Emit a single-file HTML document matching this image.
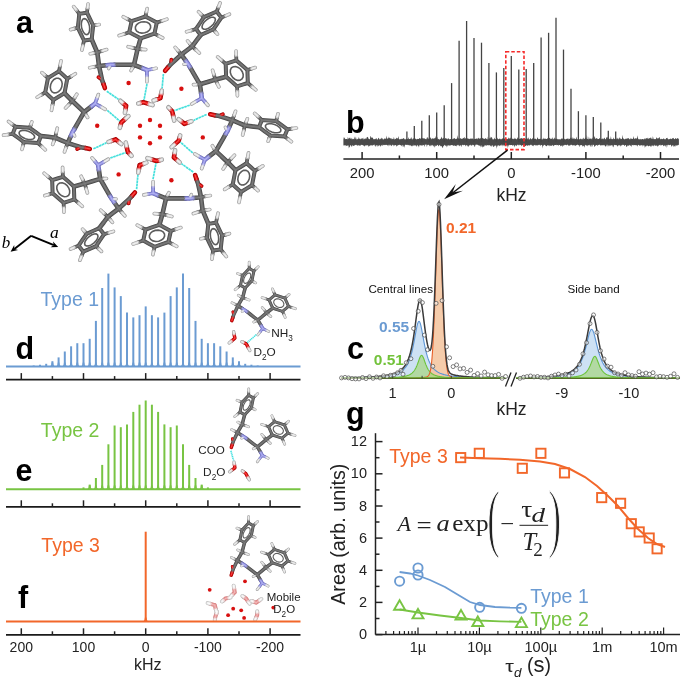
<!DOCTYPE html>
<html><head><meta charset="utf-8"><style>html,body{margin:0;padding:0;background:#fff;overflow:hidden;}svg{display:block;}</style></head>
<body><svg width="685" height="679" viewBox="0 0 685 679">
<rect width="685" height="679" fill="#fff"/>
<path d="M93.2 25.5L90.1 19.1M90.1 19.1L87 12.7M87 12.7L83.1 13.3M83.1 13.3L79.3 13.8M79.3 13.8L78.6 20.7M78.6 20.7L77.8 27.7M77.8 27.7L80.9 34.1M80.9 34.1L84 40.5M84 40.5L87.9 39.9M87.9 39.9L91.7 39.4M91.7 39.4L92.4 32.5M92.4 32.5L93.2 25.5M156.8 22.6L151.1 19.5M151.1 19.5L145.4 16.5M145.4 16.5L138.5 18.8M138.5 18.8L131.6 21.2M131.6 21.2L130.4 26.7M130.4 26.7L129.2 32.2M129.2 32.2L134.9 35.3M134.9 35.3L140.6 38.3M140.6 38.3L147.5 36M147.5 36L154.4 33.6M154.4 33.6L155.6 28.1M155.6 28.1L156.8 22.6M213.4 29.3L217.4 23.5M217.4 23.5L221.4 17.6M221.4 17.6L219 14.5M219 14.5L216.7 11.5M216.7 11.5L210.3 14.3M210.3 14.3L203.9 17.1M203.9 17.1L200 23M200 23L196 28.9M196 28.9L198.3 32M198.3 32L200.7 35M200.7 35L207.1 32.2M207.1 32.2L213.4 29.3M247.8 83L247.6 76.5M247.6 76.5L247.4 70M247.4 70L241.9 65.2M241.9 65.2L236.4 60.4M236.4 60.4L231 62.1M231 62.1L225.7 63.8M225.7 63.8L225.9 70.3M225.9 70.3L226.1 76.8M226.1 76.8L231.6 81.6M231.6 81.6L237.1 86.4M237.1 86.4L242.5 84.7M242.5 84.7L247.8 83M270.3 135.4L277.4 135.9M277.4 135.9L284.5 136.4M284.5 136.4L285.9 132.9M285.9 132.9L287.4 129.3M287.4 129.3L281.7 125.2M281.7 125.2L276.1 121.1M276.1 121.1L269 120.6M269 120.6L261.9 120.1M261.9 120.1L260.4 123.6M260.4 123.6L259 127.2M259 127.2L264.6 131.3M264.6 131.3L270.3 135.4M241 192L246.5 188.6M246.5 188.6L252 185.2M252 185.2L253.4 178M253.4 178L254.8 170.8M254.8 170.8L250.7 167M250.7 167L246.5 163.3M246.5 163.3L241 166.7M241 166.7L235.5 170.1M235.5 170.1L234.1 177.3M234.1 177.3L232.7 184.5M232.7 184.5L236.8 188.2M236.8 188.2L241 192M206.8 237.6L209.9 244.1M209.9 244.1L213 250.5M213 250.5L216.9 249.9M216.9 249.9L220.7 249.4M220.7 249.4L221.4 242.5M221.4 242.5L222.2 235.5M222.2 235.5L219.1 229.1M219.1 229.1L216 222.7M216 222.7L212.1 223.3M212.1 223.3L208.3 223.8M208.3 223.8L207.6 230.7M207.6 230.7L206.8 237.6M143.2 240.6L148.9 243.7M148.9 243.7L154.6 246.8M154.6 246.8L161.5 244.4M161.5 244.4L168.4 242M168.4 242L169.6 236.5M169.6 236.5L170.8 231M170.8 231L165.1 227.9M165.1 227.9L159.4 224.8M159.4 224.8L152.5 227.2M152.5 227.2L145.6 229.6M145.6 229.6L144.4 235.1M144.4 235.1L143.2 240.6M86.6 233.9L82.6 239.7M82.6 239.7L78.6 245.6M78.6 245.6L81 248.7M81 248.7L83.3 251.7M83.3 251.7L89.7 248.9M89.7 248.9L96.1 246.1M96.1 246.1L100 240.2M100 240.2L104 234.3M104 234.3L101.7 231.2M101.7 231.2L99.3 228.2M99.3 228.2L92.9 231M92.9 231L86.6 233.9M52.2 180.2L52.4 186.7M52.4 186.7L52.6 193.2M52.6 193.2L58.1 198M58.1 198L63.6 202.8M63.6 202.8L69 201.1M69 201.1L74.3 199.4M74.3 199.4L74.1 192.9M74.1 192.9L73.9 186.4M73.9 186.4L68.4 181.6M68.4 181.6L62.9 176.8M62.9 176.8L57.5 178.5M57.5 178.5L52.2 180.2M29.7 127.8L22.6 127.3M22.6 127.3L15.5 126.8M15.5 126.8L14.1 130.3M14.1 130.3L12.6 133.9M12.6 133.9L18.3 138M18.3 138L23.9 142.1M23.9 142.1L31 142.6M31 142.6L38.1 143.1M38.1 143.1L39.6 139.6M39.6 139.6L41 136M41 136L35.4 131.9M35.4 131.9L29.7 127.8M59 71.2L53.5 74.6M53.5 74.6L48 78M48 78L46.6 85.2M46.6 85.2L45.2 92.4M45.2 92.4L49.3 96.2M49.3 96.2L53.5 99.9M53.5 99.9L59 96.5M59 96.5L64.5 93.1M64.5 93.1L65.9 85.9M65.9 85.9L67.3 78.7M67.3 78.7L63.2 75M63.2 75L59 71.2" stroke="#464646" stroke-width="4" stroke-linecap="round" fill="none"/>
<path d="M93.2 25.5L96.2 25M87 12.7L87.5 8.4M79.3 13.8L76.5 10.2M77.8 27.7L74.2 28.6M84 40.5L83 45.2M156.8 22.6L161.8 20.9M145.4 16.5L146.3 12.5M131.6 21.2L127.4 19M129.2 32.2L124.2 33.9M154.4 33.6L158.6 35.8M97.3 52.5L101.9 51M97.3 52.5L93.8 53.1M99 66L94.3 66.8M101.9 79.4L100.2 78.3M134 64.8L132.6 67.7M137.6 49L132.9 47.9M137.6 49L141.6 49.3M213.4 29.3L215.4 31.7M221.4 17.6L225.4 15.9M216.7 11.5L218.4 7.2M203.9 17.1L201.3 14.5M196 28.9L191.3 30.4M247.8 83L251.8 86.5M247.4 70L251.3 68.8M236.4 60.4L236.2 55.8M225.7 63.8L221.7 60.4M237.1 86.4L237.3 91.1M192.2 46.4L195.7 49.7M192.2 46.4L189.9 43.7M181.3 54.6L178.3 51M171.2 63.8L171.2 61.8M199.9 84.3L196.7 84.5M215.3 79.6L214 74.9M215.3 79.6L217.1 83.2M270.3 135.4L269.2 138.3M284.5 136.4L287.9 139M287.4 129.3L291.9 128.7M276.1 121.1L277.1 117.5M261.9 120.1L258.3 116.7M241 192L240 197.2M252 185.2L255 187.9M254.8 170.8L258.8 168.4M246.5 163.3L247.5 158.1M232.7 184.5L228.7 186.9M244.9 125.5L243.8 130.3M244.9 125.5L246.1 122.2M232.3 120.2L233.9 115.8M219.3 116L221.1 115.1M215.9 151.1L214.1 148.5M227.7 162.2L231.1 158.7M227.7 162.2L225.4 165.5M206.8 237.6L203.8 238.2M213 250.5L212.5 254.8M220.7 249.4L223.5 253M222.2 235.5L225.8 234.6M216 222.7L217 218M143.2 240.6L138.2 242.3M154.6 246.8L153.7 250.7M168.4 242L172.6 244.2M170.8 231L175.8 229.3M145.6 229.6L141.4 227.4M202.7 210.7L198.1 212.1M202.7 210.7L206.2 210.1M201 197.2L205.7 196.3M198.1 183.8L199.8 184.9M166 198.4L167.4 195.5M162.4 214.2L167.1 215.3M162.4 214.2L158.4 213.9M86.6 233.9L84.6 231.5M78.6 245.6L74.6 247.3M83.3 251.7L81.6 256M96.1 246.1L98.7 248.7M104 234.3L108.7 232.8M52.2 180.2L48.2 176.7M52.6 193.2L48.7 194.4M63.6 202.8L63.8 207.4M74.3 199.4L78.3 202.8M62.9 176.8L62.7 172.1M107.8 216.8L104.3 213.5M107.8 216.8L110.1 219.5M118.7 208.6L121.7 212.2M128.8 199.4L128.8 201.4M100.1 178.9L103.3 178.7M84.7 183.6L86 188.3M84.7 183.6L82.9 180M29.7 127.8L30.8 124.9M15.5 126.8L12.1 124.2M12.6 133.9L8.1 134.5M23.9 142.1L22.9 145.7M38.1 143.1L41.7 146.5M59 71.2L60 66M48 78L45 75.3M45.2 92.4L41.2 94.8M53.5 99.9L52.5 105.1M67.3 78.7L71.3 76.3M55.1 137.7L56.2 132.9M55.1 137.7L53.9 141M67.7 143L66.1 147.4M80.7 147.2L78.9 148.1M84.1 112.1L85.9 114.7M72.3 101L68.9 104.5M72.3 101L74.6 97.7" stroke="#464646" stroke-width="3.7" stroke-linecap="round" fill="none"/>
<path d="M96.2 25L99.2 24.5M87.5 8.4L88 4.1M76.5 10.2L73.7 6.6M74.2 28.6L70.6 29.6M83 45.2L81.9 50M161.8 20.9L166.8 19.2M146.3 12.5L147.1 8.6M127.4 19L123.3 16.8M124.2 33.9L119.2 35.6M158.6 35.8L162.7 38M101.9 51L106.6 49.6M93.8 53.1L90.3 53.7M94.3 66.8L89.7 67.7M132.6 67.7L131.1 70.5M132.9 47.9L128.2 46.7M141.6 49.3L145.7 49.6M151.6 69.2L156.2 68.3M146.9 75.8L146.9 81.7M215.4 31.7L217.4 34.1M225.4 15.9L229.4 14.2M218.4 7.2L220.1 3M201.3 14.5L198.6 11.8M191.3 30.4L186.6 31.8M251.8 86.5L255.8 89.9M251.3 68.8L255.1 67.6M236.2 55.8L236.1 51.1M221.7 60.4L217.7 56.9M237.3 91.1L237.4 95.8M195.7 49.7L199.3 53M189.9 43.7L187.6 40.9M178.3 51L175.2 47.4M196.7 84.5L193.5 84.7M214 74.9L212.6 70.3M217.1 83.2L218.9 86.9M204.9 101.7L207.9 105.3M196.7 101L191.7 104M269.2 138.3L268.2 141.2M287.9 139L291.4 141.7M291.9 128.7L296.4 128M277.1 117.5L278 113.8M258.3 116.7L254.7 113.4M240 197.2L239 202.4M255 187.9L258 190.6M258.8 168.4L262.8 165.9M247.5 158.1L248.5 152.9M228.7 186.9L224.7 189.4M243.8 130.3L242.7 135M246.1 122.2L247.3 118.8M233.9 115.8L235.5 111.3M214.1 148.5L212.4 145.8M231.1 158.7L234.4 155.2M225.4 165.5L223.2 168.9M203.3 164.2L201.7 168.6M199.8 156.8L194.8 153.9M203.8 238.2L200.8 238.7M212.5 254.8L212 259.1M223.5 253L226.3 256.6M225.8 234.6L229.4 233.6M217 218L218.1 213.2M138.2 242.3L133.2 244M153.7 250.7L152.9 254.6M172.6 244.2L176.7 246.4M175.8 229.3L180.8 227.6M141.4 227.4L137.3 225.2M198.1 212.1L193.4 213.6M206.2 210.1L209.7 209.5M205.7 196.3L210.3 195.5M167.4 195.5L168.9 192.7M167.1 215.3L171.8 216.5M158.4 213.9L154.3 213.6M148.4 194L143.8 194.9M153.1 187.3L153.1 181.5M84.6 231.5L82.6 229.1M74.6 247.3L70.6 249M81.6 256L79.9 260.2M98.7 248.7L101.4 251.4M108.7 232.8L113.4 231.4M48.2 176.7L44.2 173.3M48.7 194.4L44.9 195.6M63.8 207.4L63.9 212.1M78.3 202.8L82.3 206.3M62.7 172.1L62.6 167.4M104.3 213.5L100.7 210.2M110.1 219.5L112.4 222.3M121.7 212.2L124.8 215.8M103.3 178.7L106.5 178.5M86 188.3L87.4 192.9M82.9 180L81.1 176.3M95.1 161.5L92.1 157.9M103.3 162.2L108.3 159.2M30.8 124.9L31.8 122M12.1 124.2L8.6 121.5M8.1 134.5L3.6 135.2M22.9 145.7L22 149.4M41.7 146.5L45.3 149.8M60 66L61 60.8M45 75.3L42 72.6M41.2 94.8L37.2 97.3M52.5 105.1L51.5 110.3M71.3 76.3L75.3 73.8M56.2 132.9L57.3 128.2M53.9 141L52.7 144.4M66.1 147.4L64.5 151.9M85.9 114.7L87.6 117.4M68.9 104.5L65.6 108M74.6 97.7L76.8 94.3M96.7 99L98.3 94.6M100.2 106.4L105.2 109.3" stroke="#9a9a9a" stroke-width="3.7" stroke-linecap="round" fill="none"/>
<path d="M91.7 39.4L94.5 46M94.5 46L97.3 52.5M97.3 52.5L98.2 59.2M98.2 59.2L99 66M99 66L100.5 72.7M100.5 72.7L101.9 79.4M101.9 79.4L103.4 83.8M99 66L106.5 65.2M114.4 64.8L121 64.8M121 64.8L127.5 64.8M127.5 64.8L134 64.8M134 64.8L135.8 56.9M135.8 56.9L137.6 49M137.6 49L139.1 43.7M139.1 43.7L140.6 38.3M134 64.8L142.3 68.1M200.7 35L196.4 40.7M196.4 40.7L192.2 46.4M192.2 46.4L186.7 50.5M186.7 50.5L181.3 54.6M181.3 54.6L176.2 59.2M176.2 59.2L171.2 63.8M171.2 63.8L168.1 67.3M181.3 54.6L185.7 60.7M190.1 67.4L193.4 73.1M193.4 73.1L196.6 78.7M196.6 78.7L199.9 84.3M199.9 84.3L207.6 82M207.6 82L215.3 79.6M215.3 79.6L220.7 78.2M220.7 78.2L226.1 76.8M199.9 84.3L201.1 93.2M259 127.2L251.9 126.4M251.9 126.4L244.9 125.5M244.9 125.5L238.6 122.9M238.6 122.9L232.3 120.2M232.3 120.2L225.8 118.1M225.8 118.1L219.3 116M219.3 116L214.7 115.2M232.3 120.2L229.2 127.1M225.6 134.2L222.4 139.9M222.4 139.9L219.1 145.5M219.1 145.5L215.9 151.1M215.9 151.1L221.8 156.7M221.8 156.7L227.7 162.2M227.7 162.2L231.6 166.1M231.6 166.1L235.5 170.1M215.9 151.1L208.8 156.6M208.3 223.8L205.5 217.2M205.5 217.2L202.7 210.7M202.7 210.7L201.8 203.9M201.8 203.9L201 197.2M201 197.2L199.6 190.5M199.6 190.5L198.1 183.8M198.1 183.8L196.6 179.4M201 197.2L193.5 198M185.6 198.4L179 198.4M179 198.4L172.5 198.4M172.5 198.4L166 198.4M166 198.4L164.2 206.3M164.2 206.3L162.4 214.2M162.4 214.2L160.9 219.5M160.9 219.5L159.4 224.8M166 198.4L157.7 195.1M99.3 228.2L103.6 222.5M103.6 222.5L107.8 216.8M107.8 216.8L113.3 212.7M113.3 212.7L118.7 208.6M118.7 208.6L123.8 204M123.8 204L128.8 199.4M128.8 199.4L131.9 195.9M118.7 208.6L114.3 202.5M109.9 195.8L106.6 190.1M106.6 190.1L103.4 184.5M103.4 184.5L100.1 178.9M100.1 178.9L92.4 181.2M92.4 181.2L84.7 183.6M84.7 183.6L79.3 185M79.3 185L73.9 186.4M100.1 178.9L98.9 170M41 136L48.1 136.8M48.1 136.8L55.1 137.7M55.1 137.7L61.4 140.3M61.4 140.3L67.7 143M67.7 143L74.2 145.1M74.2 145.1L80.7 147.2M80.7 147.2L85.3 148M67.7 143L70.8 136.1M74.4 129L77.6 123.3M77.6 123.3L80.9 117.7M80.9 117.7L84.1 112.1M84.1 112.1L78.2 106.5M78.2 106.5L72.3 101M72.3 101L68.4 97.1M68.4 97.1L64.5 93.1M84.1 112.1L91.2 106.6" stroke="#464646" stroke-width="4.6" stroke-linecap="round" fill="none"/>
<path d="M100.2 78.3L98.4 77.2M171.2 61.8L171.3 59.7M221.1 115.1L222.9 114.1M199.8 184.9L201.6 186M128.8 201.4L128.7 203.5M78.9 148.1L77.1 149.1" stroke="#a00000" stroke-width="3.7" stroke-linecap="round" fill="none"/>
<path d="M103.4 83.8L104.9 88.1M143.5 102.2L140.4 103M143.5 102.2L148.8 103.9M160.4 98L161.2 93.7M160.4 98L156.5 99.5M168.1 67.3L165.1 70.8M172.2 111.3L170 109M172.2 111.3L173.4 116.7M184.3 123.8L188.5 122.3M184.3 123.8L181.1 121.1M214.7 115.2L210.2 114.3M178.7 140.7L179.6 137.6M178.7 140.7L174.6 144.4M173.9 157.4L177.3 160.3M173.9 157.4L174.6 153.3M196.6 179.4L195.1 175.1M156.5 161L159.6 160.2M156.5 161L151.2 159.3M139.6 165.2L138.8 169.5M139.6 165.2L143.5 163.8M131.9 195.9L134.9 192.4M127.8 151.9L130 154.2M127.8 151.9L126.6 146.5M115.7 139.4L111.5 140.9M115.7 139.4L118.9 142.1M85.3 148L89.8 148.9M121.3 122.5L120.4 125.6M121.3 122.5L125.4 118.8M126.1 105.8L122.7 102.9M126.1 105.8L125.4 109.9" stroke="#a00000" stroke-width="4.6" stroke-linecap="round" fill="none"/>
<path d="M106.5 65.2L110.7 64.8M110.7 64.8L114.4 64.8M142.3 68.1L146.9 70M185.7 60.7L188.2 64.2M188.2 64.2L190.1 67.4M201.1 93.2L201.8 98.1M229.2 127.1L227.5 131M227.5 131L225.6 134.2M208.8 156.6L204.9 159.7M193.5 198L189.3 198.4M189.3 198.4L185.6 198.4M157.7 195.1L153.1 193.2M114.3 202.5L111.8 199M111.8 199L109.9 195.8M98.9 170L98.2 165.1M70.8 136.1L72.5 132.2M72.5 132.2L74.4 129M91.2 106.6L95.1 103.5" stroke="#6a6ab8" stroke-width="4.6" stroke-linecap="round" fill="none"/>
<path d="M110.7 64.8L109.7 66.7M188.2 64.2L186 64.2M227.5 131L226.4 129.1M189.3 198.4L190.4 196.5M111.8 199L114 199M72.5 132.2L73.6 134.1" stroke="#6a6ab8" stroke-width="3.4" stroke-linecap="round" fill="none"/>
<path d="M109.7 66.7L108.6 68.6M186 64.2L183.9 64.2M226.4 129.1L225.3 127.2M190.4 196.5L191.4 194.6M114 199L116.1 199M73.6 134.1L74.7 136" stroke="#9a9a9a" stroke-width="3.4" stroke-linecap="round" fill="none"/>
<path d="M146.9 70L151.6 69.2M146.9 70L146.9 75.8M201.8 98.1L204.9 101.7M201.8 98.1L196.7 101M204.9 159.7L203.3 164.2M204.9 159.7L199.8 156.8M153.1 193.2L148.4 194M153.1 193.2L153.1 187.3M98.2 165.1L95.1 161.5M98.2 165.1L103.3 162.2M95.1 103.5L96.7 99M95.1 103.5L100.2 106.4" stroke="#6a6ab8" stroke-width="3.7" stroke-linecap="round" fill="none"/>
<path d="M140.4 103L138.2 103.5M148.8 103.9L152.6 105.1M161.2 93.7L161.8 90.5M156.5 99.5L153.6 100.5M170 109L168.4 107.3M173.4 116.7L174.2 120.6M188.5 122.3L191.5 121.3M181.1 121.1L178.7 119.2M179.6 137.6L180.2 135.4M174.6 144.4L171.6 147.1M177.3 160.3L179.7 162.4M174.6 153.3L175.1 150.3M159.6 160.2L161.8 159.7M151.2 159.3L147.4 158.1M138.8 169.5L138.2 172.7M143.5 163.8L146.4 162.7M130 154.2L131.6 155.9M126.6 146.5L125.8 142.6M111.5 140.9L108.5 141.9M118.9 142.1L121.3 144M120.4 125.6L119.8 127.8M125.4 118.8L128.4 116.1M122.7 102.9L120.3 100.8M125.4 109.9L124.9 112.9" stroke="#9a9a9a" stroke-width="4.6" stroke-linecap="round" fill="none"/>
<path d="M89.5,26.1 L88.6,23 L87.3,20.6 L85.7,19 L84.1,18.6 L82.7,19.4 L81.7,21.3 L81.3,24 L81.5,27.1 L82.4,30.2 L83.7,32.6 L85.3,34.2 L86.9,34.6 L88.3,33.8 L89.3,31.9 L89.7,29.2 Z" fill="none" stroke="#5c5c5c" stroke-width="1.6"/>
<path d="M150.6,27.8 L150.5,25.6 L149.3,23.7 L147.1,22.3 L144.2,21.7 L141.2,22 L138.5,23.1 L136.5,24.8 L135.4,27 L135.5,29.2 L136.7,31.1 L138.9,32.5 L141.8,33.1 L144.8,32.8 L147.5,31.7 L149.5,30 Z" fill="none" stroke="#5c5c5c" stroke-width="1.6"/>
<path d="M211.1,26.4 L213.3,24.2 L214.8,21.8 L215.4,19.6 L214.9,18 L213.5,17.2 L211.3,17.3 L208.8,18.3 L206.2,20.1 L204,22.3 L202.5,24.7 L202,26.9 L202.5,28.5 L203.9,29.3 L206,29.2 L208.6,28.2 Z" fill="none" stroke="#5c5c5c" stroke-width="1.6"/>
<path d="M240.2,80.2 L242,79 L243.1,77 L243.2,74.4 L242.3,71.7 L240.6,69.2 L238.2,67.4 L235.7,66.5 L233.3,66.7 L231.4,67.8 L230.4,69.9 L230.3,72.5 L231.2,75.2 L232.9,77.7 L235.2,79.5 L237.8,80.4 Z" fill="none" stroke="#5c5c5c" stroke-width="1.6"/>
<path d="M271.7,132 L274.7,132.7 L277.5,132.8 L279.7,132.2 L280.8,131 L280.8,129.4 L279.7,127.6 L277.5,125.9 L274.7,124.5 L271.7,123.7 L268.8,123.7 L266.7,124.3 L265.5,125.5 L265.5,127.1 L266.7,128.9 L268.9,130.6 Z" fill="none" stroke="#5c5c5c" stroke-width="1.6"/>
<path d="M239.6,184 L241.5,185 L243.8,184.9 L246.1,183.7 L248,181.6 L249.3,178.8 L249.7,175.9 L249.2,173.3 L247.9,171.3 L245.9,170.3 L243.6,170.4 L241.4,171.6 L239.4,173.7 L238.2,176.4 L237.8,179.4 L238.3,182 Z" fill="none" stroke="#5c5c5c" stroke-width="1.6"/>
<path d="M210.5,237.1 L211.4,240.2 L212.7,242.6 L214.3,244.2 L215.9,244.6 L217.3,243.8 L218.3,241.9 L218.7,239.2 L218.5,236.1 L217.6,233 L216.3,230.6 L214.7,229 L213.1,228.6 L211.7,229.4 L210.7,231.3 L210.3,234 Z" fill="none" stroke="#5c5c5c" stroke-width="1.6"/>
<path d="M149.4,235.4 L149.5,237.6 L150.7,239.5 L152.9,240.9 L155.8,241.5 L158.8,241.2 L161.5,240.1 L163.5,238.4 L164.6,236.2 L164.5,234 L163.3,232.1 L161.1,230.7 L158.2,230.1 L155.2,230.4 L152.5,231.5 L150.5,233.2 Z" fill="none" stroke="#5c5c5c" stroke-width="1.6"/>
<path d="M88.9,236.8 L86.7,239 L85.2,241.4 L84.6,243.6 L85.1,245.2 L86.5,246 L88.7,245.9 L91.2,244.9 L93.8,243.1 L96,240.9 L97.5,238.5 L98,236.3 L97.5,234.7 L96.1,233.9 L94,234 L91.4,235 Z" fill="none" stroke="#5c5c5c" stroke-width="1.6"/>
<path d="M59.8,183 L58,184.2 L56.9,186.2 L56.8,188.8 L57.7,191.5 L59.4,194 L61.8,195.8 L64.3,196.7 L66.7,196.5 L68.6,195.4 L69.6,193.3 L69.7,190.7 L68.8,188 L67.1,185.5 L64.8,183.7 L62.2,182.8 Z" fill="none" stroke="#5c5c5c" stroke-width="1.6"/>
<path d="M28.3,131.2 L25.3,130.5 L22.5,130.4 L20.3,131 L19.2,132.2 L19.2,133.8 L20.3,135.6 L22.5,137.3 L25.3,138.7 L28.3,139.5 L31.2,139.5 L33.3,138.9 L34.5,137.7 L34.5,136.1 L33.3,134.3 L31.1,132.6 Z" fill="none" stroke="#5c5c5c" stroke-width="1.6"/>
<path d="M60.4,79.2 L58.5,78.2 L56.2,78.3 L53.9,79.5 L52,81.6 L50.7,84.4 L50.3,87.3 L50.8,89.9 L52.1,91.9 L54.1,92.9 L56.4,92.8 L58.6,91.6 L60.6,89.5 L61.8,86.8 L62.2,83.8 L61.7,81.2 Z" fill="none" stroke="#5c5c5c" stroke-width="1.6"/>
<path d="M93.2 25.5L90.1 19.1M90.1 19.1L87 12.7M87 12.7L83.1 13.3M83.1 13.3L79.3 13.8M79.3 13.8L78.6 20.7M78.6 20.7L77.8 27.7M77.8 27.7L80.9 34.1M80.9 34.1L84 40.5M84 40.5L87.9 39.9M87.9 39.9L91.7 39.4M91.7 39.4L92.4 32.5M92.4 32.5L93.2 25.5M156.8 22.6L151.1 19.5M151.1 19.5L145.4 16.5M145.4 16.5L138.5 18.8M138.5 18.8L131.6 21.2M131.6 21.2L130.4 26.7M130.4 26.7L129.2 32.2M129.2 32.2L134.9 35.3M134.9 35.3L140.6 38.3M140.6 38.3L147.5 36M147.5 36L154.4 33.6M154.4 33.6L155.6 28.1M155.6 28.1L156.8 22.6M213.4 29.3L217.4 23.5M217.4 23.5L221.4 17.6M221.4 17.6L219 14.5M219 14.5L216.7 11.5M216.7 11.5L210.3 14.3M210.3 14.3L203.9 17.1M203.9 17.1L200 23M200 23L196 28.9M196 28.9L198.3 32M198.3 32L200.7 35M200.7 35L207.1 32.2M207.1 32.2L213.4 29.3M247.8 83L247.6 76.5M247.6 76.5L247.4 70M247.4 70L241.9 65.2M241.9 65.2L236.4 60.4M236.4 60.4L231 62.1M231 62.1L225.7 63.8M225.7 63.8L225.9 70.3M225.9 70.3L226.1 76.8M226.1 76.8L231.6 81.6M231.6 81.6L237.1 86.4M237.1 86.4L242.5 84.7M242.5 84.7L247.8 83M270.3 135.4L277.4 135.9M277.4 135.9L284.5 136.4M284.5 136.4L285.9 132.9M285.9 132.9L287.4 129.3M287.4 129.3L281.7 125.2M281.7 125.2L276.1 121.1M276.1 121.1L269 120.6M269 120.6L261.9 120.1M261.9 120.1L260.4 123.6M260.4 123.6L259 127.2M259 127.2L264.6 131.3M264.6 131.3L270.3 135.4M241 192L246.5 188.6M246.5 188.6L252 185.2M252 185.2L253.4 178M253.4 178L254.8 170.8M254.8 170.8L250.7 167M250.7 167L246.5 163.3M246.5 163.3L241 166.7M241 166.7L235.5 170.1M235.5 170.1L234.1 177.3M234.1 177.3L232.7 184.5M232.7 184.5L236.8 188.2M236.8 188.2L241 192M206.8 237.6L209.9 244.1M209.9 244.1L213 250.5M213 250.5L216.9 249.9M216.9 249.9L220.7 249.4M220.7 249.4L221.4 242.5M221.4 242.5L222.2 235.5M222.2 235.5L219.1 229.1M219.1 229.1L216 222.7M216 222.7L212.1 223.3M212.1 223.3L208.3 223.8M208.3 223.8L207.6 230.7M207.6 230.7L206.8 237.6M143.2 240.6L148.9 243.7M148.9 243.7L154.6 246.8M154.6 246.8L161.5 244.4M161.5 244.4L168.4 242M168.4 242L169.6 236.5M169.6 236.5L170.8 231M170.8 231L165.1 227.9M165.1 227.9L159.4 224.8M159.4 224.8L152.5 227.2M152.5 227.2L145.6 229.6M145.6 229.6L144.4 235.1M144.4 235.1L143.2 240.6M86.6 233.9L82.6 239.7M82.6 239.7L78.6 245.6M78.6 245.6L81 248.7M81 248.7L83.3 251.7M83.3 251.7L89.7 248.9M89.7 248.9L96.1 246.1M96.1 246.1L100 240.2M100 240.2L104 234.3M104 234.3L101.7 231.2M101.7 231.2L99.3 228.2M99.3 228.2L92.9 231M92.9 231L86.6 233.9M52.2 180.2L52.4 186.7M52.4 186.7L52.6 193.2M52.6 193.2L58.1 198M58.1 198L63.6 202.8M63.6 202.8L69 201.1M69 201.1L74.3 199.4M74.3 199.4L74.1 192.9M74.1 192.9L73.9 186.4M73.9 186.4L68.4 181.6M68.4 181.6L62.9 176.8M62.9 176.8L57.5 178.5M57.5 178.5L52.2 180.2M29.7 127.8L22.6 127.3M22.6 127.3L15.5 126.8M15.5 126.8L14.1 130.3M14.1 130.3L12.6 133.9M12.6 133.9L18.3 138M18.3 138L23.9 142.1M23.9 142.1L31 142.6M31 142.6L38.1 143.1M38.1 143.1L39.6 139.6M39.6 139.6L41 136M41 136L35.4 131.9M35.4 131.9L29.7 127.8M59 71.2L53.5 74.6M53.5 74.6L48 78M48 78L46.6 85.2M46.6 85.2L45.2 92.4M45.2 92.4L49.3 96.2M49.3 96.2L53.5 99.9M53.5 99.9L59 96.5M59 96.5L64.5 93.1M64.5 93.1L65.9 85.9M65.9 85.9L67.3 78.7M67.3 78.7L63.2 75M63.2 75L59 71.2" stroke="#676767" stroke-width="2.7" stroke-linecap="round" fill="none"/>
<path d="M93.2 25.5L96.2 25M87 12.7L87.5 8.4M79.3 13.8L76.5 10.2M77.8 27.7L74.2 28.6M84 40.5L83 45.2M156.8 22.6L161.8 20.9M145.4 16.5L146.3 12.5M131.6 21.2L127.4 19M129.2 32.2L124.2 33.9M154.4 33.6L158.6 35.8M97.3 52.5L101.9 51M97.3 52.5L93.8 53.1M99 66L94.3 66.8M101.9 79.4L100.2 78.3M134 64.8L132.6 67.7M137.6 49L132.9 47.9M137.6 49L141.6 49.3M213.4 29.3L215.4 31.7M221.4 17.6L225.4 15.9M216.7 11.5L218.4 7.2M203.9 17.1L201.3 14.5M196 28.9L191.3 30.4M247.8 83L251.8 86.5M247.4 70L251.3 68.8M236.4 60.4L236.2 55.8M225.7 63.8L221.7 60.4M237.1 86.4L237.3 91.1M192.2 46.4L195.7 49.7M192.2 46.4L189.9 43.7M181.3 54.6L178.3 51M171.2 63.8L171.2 61.8M199.9 84.3L196.7 84.5M215.3 79.6L214 74.9M215.3 79.6L217.1 83.2M270.3 135.4L269.2 138.3M284.5 136.4L287.9 139M287.4 129.3L291.9 128.7M276.1 121.1L277.1 117.5M261.9 120.1L258.3 116.7M241 192L240 197.2M252 185.2L255 187.9M254.8 170.8L258.8 168.4M246.5 163.3L247.5 158.1M232.7 184.5L228.7 186.9M244.9 125.5L243.8 130.3M244.9 125.5L246.1 122.2M232.3 120.2L233.9 115.8M219.3 116L221.1 115.1M215.9 151.1L214.1 148.5M227.7 162.2L231.1 158.7M227.7 162.2L225.4 165.5M206.8 237.6L203.8 238.2M213 250.5L212.5 254.8M220.7 249.4L223.5 253M222.2 235.5L225.8 234.6M216 222.7L217 218M143.2 240.6L138.2 242.3M154.6 246.8L153.7 250.7M168.4 242L172.6 244.2M170.8 231L175.8 229.3M145.6 229.6L141.4 227.4M202.7 210.7L198.1 212.1M202.7 210.7L206.2 210.1M201 197.2L205.7 196.3M198.1 183.8L199.8 184.9M166 198.4L167.4 195.5M162.4 214.2L167.1 215.3M162.4 214.2L158.4 213.9M86.6 233.9L84.6 231.5M78.6 245.6L74.6 247.3M83.3 251.7L81.6 256M96.1 246.1L98.7 248.7M104 234.3L108.7 232.8M52.2 180.2L48.2 176.7M52.6 193.2L48.7 194.4M63.6 202.8L63.8 207.4M74.3 199.4L78.3 202.8M62.9 176.8L62.7 172.1M107.8 216.8L104.3 213.5M107.8 216.8L110.1 219.5M118.7 208.6L121.7 212.2M128.8 199.4L128.8 201.4M100.1 178.9L103.3 178.7M84.7 183.6L86 188.3M84.7 183.6L82.9 180M29.7 127.8L30.8 124.9M15.5 126.8L12.1 124.2M12.6 133.9L8.1 134.5M23.9 142.1L22.9 145.7M38.1 143.1L41.7 146.5M59 71.2L60 66M48 78L45 75.3M45.2 92.4L41.2 94.8M53.5 99.9L52.5 105.1M67.3 78.7L71.3 76.3M55.1 137.7L56.2 132.9M55.1 137.7L53.9 141M67.7 143L66.1 147.4M80.7 147.2L78.9 148.1M84.1 112.1L85.9 114.7M72.3 101L68.9 104.5M72.3 101L74.6 97.7" stroke="#676767" stroke-width="2.5" stroke-linecap="round" fill="none"/>
<path d="M96.2 25L99.2 24.5M87.5 8.4L88 4.1M76.5 10.2L73.7 6.6M74.2 28.6L70.6 29.6M83 45.2L81.9 50M161.8 20.9L166.8 19.2M146.3 12.5L147.1 8.6M127.4 19L123.3 16.8M124.2 33.9L119.2 35.6M158.6 35.8L162.7 38M101.9 51L106.6 49.6M93.8 53.1L90.3 53.7M94.3 66.8L89.7 67.7M132.6 67.7L131.1 70.5M132.9 47.9L128.2 46.7M141.6 49.3L145.7 49.6M151.6 69.2L156.2 68.3M146.9 75.8L146.9 81.7M215.4 31.7L217.4 34.1M225.4 15.9L229.4 14.2M218.4 7.2L220.1 3M201.3 14.5L198.6 11.8M191.3 30.4L186.6 31.8M251.8 86.5L255.8 89.9M251.3 68.8L255.1 67.6M236.2 55.8L236.1 51.1M221.7 60.4L217.7 56.9M237.3 91.1L237.4 95.8M195.7 49.7L199.3 53M189.9 43.7L187.6 40.9M178.3 51L175.2 47.4M196.7 84.5L193.5 84.7M214 74.9L212.6 70.3M217.1 83.2L218.9 86.9M204.9 101.7L207.9 105.3M196.7 101L191.7 104M269.2 138.3L268.2 141.2M287.9 139L291.4 141.7M291.9 128.7L296.4 128M277.1 117.5L278 113.8M258.3 116.7L254.7 113.4M240 197.2L239 202.4M255 187.9L258 190.6M258.8 168.4L262.8 165.9M247.5 158.1L248.5 152.9M228.7 186.9L224.7 189.4M243.8 130.3L242.7 135M246.1 122.2L247.3 118.8M233.9 115.8L235.5 111.3M214.1 148.5L212.4 145.8M231.1 158.7L234.4 155.2M225.4 165.5L223.2 168.9M203.3 164.2L201.7 168.6M199.8 156.8L194.8 153.9M203.8 238.2L200.8 238.7M212.5 254.8L212 259.1M223.5 253L226.3 256.6M225.8 234.6L229.4 233.6M217 218L218.1 213.2M138.2 242.3L133.2 244M153.7 250.7L152.9 254.6M172.6 244.2L176.7 246.4M175.8 229.3L180.8 227.6M141.4 227.4L137.3 225.2M198.1 212.1L193.4 213.6M206.2 210.1L209.7 209.5M205.7 196.3L210.3 195.5M167.4 195.5L168.9 192.7M167.1 215.3L171.8 216.5M158.4 213.9L154.3 213.6M148.4 194L143.8 194.9M153.1 187.3L153.1 181.5M84.6 231.5L82.6 229.1M74.6 247.3L70.6 249M81.6 256L79.9 260.2M98.7 248.7L101.4 251.4M108.7 232.8L113.4 231.4M48.2 176.7L44.2 173.3M48.7 194.4L44.9 195.6M63.8 207.4L63.9 212.1M78.3 202.8L82.3 206.3M62.7 172.1L62.6 167.4M104.3 213.5L100.7 210.2M110.1 219.5L112.4 222.3M121.7 212.2L124.8 215.8M103.3 178.7L106.5 178.5M86 188.3L87.4 192.9M82.9 180L81.1 176.3M95.1 161.5L92.1 157.9M103.3 162.2L108.3 159.2M30.8 124.9L31.8 122M12.1 124.2L8.6 121.5M8.1 134.5L3.6 135.2M22.9 145.7L22 149.4M41.7 146.5L45.3 149.8M60 66L61 60.8M45 75.3L42 72.6M41.2 94.8L37.2 97.3M52.5 105.1L51.5 110.3M71.3 76.3L75.3 73.8M56.2 132.9L57.3 128.2M53.9 141L52.7 144.4M66.1 147.4L64.5 151.9M85.9 114.7L87.6 117.4M68.9 104.5L65.6 108M74.6 97.7L76.8 94.3M96.7 99L98.3 94.6M100.2 106.4L105.2 109.3" stroke="#dcdcdc" stroke-width="2.5" stroke-linecap="round" fill="none"/>
<path d="M91.7 39.4L94.5 46M94.5 46L97.3 52.5M97.3 52.5L98.2 59.2M98.2 59.2L99 66M99 66L100.5 72.7M100.5 72.7L101.9 79.4M101.9 79.4L103.4 83.8M99 66L106.5 65.2M114.4 64.8L121 64.8M121 64.8L127.5 64.8M127.5 64.8L134 64.8M134 64.8L135.8 56.9M135.8 56.9L137.6 49M137.6 49L139.1 43.7M139.1 43.7L140.6 38.3M134 64.8L142.3 68.1M200.7 35L196.4 40.7M196.4 40.7L192.2 46.4M192.2 46.4L186.7 50.5M186.7 50.5L181.3 54.6M181.3 54.6L176.2 59.2M176.2 59.2L171.2 63.8M171.2 63.8L168.1 67.3M181.3 54.6L185.7 60.7M190.1 67.4L193.4 73.1M193.4 73.1L196.6 78.7M196.6 78.7L199.9 84.3M199.9 84.3L207.6 82M207.6 82L215.3 79.6M215.3 79.6L220.7 78.2M220.7 78.2L226.1 76.8M199.9 84.3L201.1 93.2M259 127.2L251.9 126.4M251.9 126.4L244.9 125.5M244.9 125.5L238.6 122.9M238.6 122.9L232.3 120.2M232.3 120.2L225.8 118.1M225.8 118.1L219.3 116M219.3 116L214.7 115.2M232.3 120.2L229.2 127.1M225.6 134.2L222.4 139.9M222.4 139.9L219.1 145.5M219.1 145.5L215.9 151.1M215.9 151.1L221.8 156.7M221.8 156.7L227.7 162.2M227.7 162.2L231.6 166.1M231.6 166.1L235.5 170.1M215.9 151.1L208.8 156.6M208.3 223.8L205.5 217.2M205.5 217.2L202.7 210.7M202.7 210.7L201.8 203.9M201.8 203.9L201 197.2M201 197.2L199.6 190.5M199.6 190.5L198.1 183.8M198.1 183.8L196.6 179.4M201 197.2L193.5 198M185.6 198.4L179 198.4M179 198.4L172.5 198.4M172.5 198.4L166 198.4M166 198.4L164.2 206.3M164.2 206.3L162.4 214.2M162.4 214.2L160.9 219.5M160.9 219.5L159.4 224.8M166 198.4L157.7 195.1M99.3 228.2L103.6 222.5M103.6 222.5L107.8 216.8M107.8 216.8L113.3 212.7M113.3 212.7L118.7 208.6M118.7 208.6L123.8 204M123.8 204L128.8 199.4M128.8 199.4L131.9 195.9M118.7 208.6L114.3 202.5M109.9 195.8L106.6 190.1M106.6 190.1L103.4 184.5M103.4 184.5L100.1 178.9M100.1 178.9L92.4 181.2M92.4 181.2L84.7 183.6M84.7 183.6L79.3 185M79.3 185L73.9 186.4M100.1 178.9L98.9 170M41 136L48.1 136.8M48.1 136.8L55.1 137.7M55.1 137.7L61.4 140.3M61.4 140.3L67.7 143M67.7 143L74.2 145.1M74.2 145.1L80.7 147.2M80.7 147.2L85.3 148M67.7 143L70.8 136.1M74.4 129L77.6 123.3M77.6 123.3L80.9 117.7M80.9 117.7L84.1 112.1M84.1 112.1L78.2 106.5M78.2 106.5L72.3 101M72.3 101L68.4 97.1M68.4 97.1L64.5 93.1M84.1 112.1L91.2 106.6" stroke="#676767" stroke-width="3.1" stroke-linecap="round" fill="none"/>
<path d="M100.2 78.3L98.4 77.2M171.2 61.8L171.3 59.7M221.1 115.1L222.9 114.1M199.8 184.9L201.6 186M128.8 201.4L128.7 203.5M78.9 148.1L77.1 149.1" stroke="#dc1010" stroke-width="2.5" stroke-linecap="round" fill="none"/>
<path d="M103.4 83.8L104.9 88.1M143.5 102.2L140.4 103M143.5 102.2L148.8 103.9M160.4 98L161.2 93.7M160.4 98L156.5 99.5M168.1 67.3L165.1 70.8M172.2 111.3L170 109M172.2 111.3L173.4 116.7M184.3 123.8L188.5 122.3M184.3 123.8L181.1 121.1M214.7 115.2L210.2 114.3M178.7 140.7L179.6 137.6M178.7 140.7L174.6 144.4M173.9 157.4L177.3 160.3M173.9 157.4L174.6 153.3M196.6 179.4L195.1 175.1M156.5 161L159.6 160.2M156.5 161L151.2 159.3M139.6 165.2L138.8 169.5M139.6 165.2L143.5 163.8M131.9 195.9L134.9 192.4M127.8 151.9L130 154.2M127.8 151.9L126.6 146.5M115.7 139.4L111.5 140.9M115.7 139.4L118.9 142.1M85.3 148L89.8 148.9M121.3 122.5L120.4 125.6M121.3 122.5L125.4 118.8M126.1 105.8L122.7 102.9M126.1 105.8L125.4 109.9" stroke="#dc1010" stroke-width="3.1" stroke-linecap="round" fill="none"/>
<path d="M106.5 65.2L110.7 64.8M110.7 64.8L114.4 64.8M142.3 68.1L146.9 70M185.7 60.7L188.2 64.2M188.2 64.2L190.1 67.4M201.1 93.2L201.8 98.1M229.2 127.1L227.5 131M227.5 131L225.6 134.2M208.8 156.6L204.9 159.7M193.5 198L189.3 198.4M189.3 198.4L185.6 198.4M157.7 195.1L153.1 193.2M114.3 202.5L111.8 199M111.8 199L109.9 195.8M98.9 170L98.2 165.1M70.8 136.1L72.5 132.2M72.5 132.2L74.4 129M91.2 106.6L95.1 103.5" stroke="#9090e0" stroke-width="3.1" stroke-linecap="round" fill="none"/>
<path d="M110.7 64.8L109.7 66.7M188.2 64.2L186 64.2M227.5 131L226.4 129.1M189.3 198.4L190.4 196.5M111.8 199L114 199M72.5 132.2L73.6 134.1" stroke="#9090e0" stroke-width="2.3" stroke-linecap="round" fill="none"/>
<path d="M109.7 66.7L108.6 68.6M186 64.2L183.9 64.2M226.4 129.1L225.3 127.2M190.4 196.5L191.4 194.6M114 199L116.1 199M73.6 134.1L74.7 136" stroke="#dcdcdc" stroke-width="2.3" stroke-linecap="round" fill="none"/>
<path d="M146.9 70L151.6 69.2M146.9 70L146.9 75.8M201.8 98.1L204.9 101.7M201.8 98.1L196.7 101M204.9 159.7L203.3 164.2M204.9 159.7L199.8 156.8M153.1 193.2L148.4 194M153.1 193.2L153.1 187.3M98.2 165.1L95.1 161.5M98.2 165.1L103.3 162.2M95.1 103.5L96.7 99M95.1 103.5L100.2 106.4" stroke="#9090e0" stroke-width="2.5" stroke-linecap="round" fill="none"/>
<path d="M140.4 103L138.2 103.5M148.8 103.9L152.6 105.1M161.2 93.7L161.8 90.5M156.5 99.5L153.6 100.5M170 109L168.4 107.3M173.4 116.7L174.2 120.6M188.5 122.3L191.5 121.3M181.1 121.1L178.7 119.2M179.6 137.6L180.2 135.4M174.6 144.4L171.6 147.1M177.3 160.3L179.7 162.4M174.6 153.3L175.1 150.3M159.6 160.2L161.8 159.7M151.2 159.3L147.4 158.1M138.8 169.5L138.2 172.7M143.5 163.8L146.4 162.7M130 154.2L131.6 155.9M126.6 146.5L125.8 142.6M111.5 140.9L108.5 141.9M118.9 142.1L121.3 144M120.4 125.6L119.8 127.8M125.4 118.8L128.4 116.1M122.7 102.9L120.3 100.8M125.4 109.9L124.9 112.9" stroke="#dcdcdc" stroke-width="3.1" stroke-linecap="round" fill="none"/>
<path d="M93.2 25.5L90.1 19.1M90.1 19.1L87 12.7M87 12.7L83.1 13.3M83.1 13.3L79.3 13.8M79.3 13.8L78.6 20.7M78.6 20.7L77.8 27.7M77.8 27.7L80.9 34.1M80.9 34.1L84 40.5M84 40.5L87.9 39.9M87.9 39.9L91.7 39.4M91.7 39.4L92.4 32.5M92.4 32.5L93.2 25.5M156.8 22.6L151.1 19.5M151.1 19.5L145.4 16.5M145.4 16.5L138.5 18.8M138.5 18.8L131.6 21.2M131.6 21.2L130.4 26.7M130.4 26.7L129.2 32.2M129.2 32.2L134.9 35.3M134.9 35.3L140.6 38.3M140.6 38.3L147.5 36M147.5 36L154.4 33.6M154.4 33.6L155.6 28.1M155.6 28.1L156.8 22.6M213.4 29.3L217.4 23.5M217.4 23.5L221.4 17.6M221.4 17.6L219 14.5M219 14.5L216.7 11.5M216.7 11.5L210.3 14.3M210.3 14.3L203.9 17.1M203.9 17.1L200 23M200 23L196 28.9M196 28.9L198.3 32M198.3 32L200.7 35M200.7 35L207.1 32.2M207.1 32.2L213.4 29.3M247.8 83L247.6 76.5M247.6 76.5L247.4 70M247.4 70L241.9 65.2M241.9 65.2L236.4 60.4M236.4 60.4L231 62.1M231 62.1L225.7 63.8M225.7 63.8L225.9 70.3M225.9 70.3L226.1 76.8M226.1 76.8L231.6 81.6M231.6 81.6L237.1 86.4M237.1 86.4L242.5 84.7M242.5 84.7L247.8 83M270.3 135.4L277.4 135.9M277.4 135.9L284.5 136.4M284.5 136.4L285.9 132.9M285.9 132.9L287.4 129.3M287.4 129.3L281.7 125.2M281.7 125.2L276.1 121.1M276.1 121.1L269 120.6M269 120.6L261.9 120.1M261.9 120.1L260.4 123.6M260.4 123.6L259 127.2M259 127.2L264.6 131.3M264.6 131.3L270.3 135.4M241 192L246.5 188.6M246.5 188.6L252 185.2M252 185.2L253.4 178M253.4 178L254.8 170.8M254.8 170.8L250.7 167M250.7 167L246.5 163.3M246.5 163.3L241 166.7M241 166.7L235.5 170.1M235.5 170.1L234.1 177.3M234.1 177.3L232.7 184.5M232.7 184.5L236.8 188.2M236.8 188.2L241 192M206.8 237.6L209.9 244.1M209.9 244.1L213 250.5M213 250.5L216.9 249.9M216.9 249.9L220.7 249.4M220.7 249.4L221.4 242.5M221.4 242.5L222.2 235.5M222.2 235.5L219.1 229.1M219.1 229.1L216 222.7M216 222.7L212.1 223.3M212.1 223.3L208.3 223.8M208.3 223.8L207.6 230.7M207.6 230.7L206.8 237.6M143.2 240.6L148.9 243.7M148.9 243.7L154.6 246.8M154.6 246.8L161.5 244.4M161.5 244.4L168.4 242M168.4 242L169.6 236.5M169.6 236.5L170.8 231M170.8 231L165.1 227.9M165.1 227.9L159.4 224.8M159.4 224.8L152.5 227.2M152.5 227.2L145.6 229.6M145.6 229.6L144.4 235.1M144.4 235.1L143.2 240.6M86.6 233.9L82.6 239.7M82.6 239.7L78.6 245.6M78.6 245.6L81 248.7M81 248.7L83.3 251.7M83.3 251.7L89.7 248.9M89.7 248.9L96.1 246.1M96.1 246.1L100 240.2M100 240.2L104 234.3M104 234.3L101.7 231.2M101.7 231.2L99.3 228.2M99.3 228.2L92.9 231M92.9 231L86.6 233.9M52.2 180.2L52.4 186.7M52.4 186.7L52.6 193.2M52.6 193.2L58.1 198M58.1 198L63.6 202.8M63.6 202.8L69 201.1M69 201.1L74.3 199.4M74.3 199.4L74.1 192.9M74.1 192.9L73.9 186.4M73.9 186.4L68.4 181.6M68.4 181.6L62.9 176.8M62.9 176.8L57.5 178.5M57.5 178.5L52.2 180.2M29.7 127.8L22.6 127.3M22.6 127.3L15.5 126.8M15.5 126.8L14.1 130.3M14.1 130.3L12.6 133.9M12.6 133.9L18.3 138M18.3 138L23.9 142.1M23.9 142.1L31 142.6M31 142.6L38.1 143.1M38.1 143.1L39.6 139.6M39.6 139.6L41 136M41 136L35.4 131.9M35.4 131.9L29.7 127.8M59 71.2L53.5 74.6M53.5 74.6L48 78M48 78L46.6 85.2M46.6 85.2L45.2 92.4M45.2 92.4L49.3 96.2M49.3 96.2L53.5 99.9M53.5 99.9L59 96.5M59 96.5L64.5 93.1M64.5 93.1L65.9 85.9M65.9 85.9L67.3 78.7M67.3 78.7L63.2 75M63.2 75L59 71.2" stroke="#7c7c7c" stroke-width="1" stroke-linecap="round" fill="none"/>
<path d="M93.2 25.5L96.2 25M87 12.7L87.5 8.4M79.3 13.8L76.5 10.2M77.8 27.7L74.2 28.6M84 40.5L83 45.2M156.8 22.6L161.8 20.9M145.4 16.5L146.3 12.5M131.6 21.2L127.4 19M129.2 32.2L124.2 33.9M154.4 33.6L158.6 35.8M97.3 52.5L101.9 51M97.3 52.5L93.8 53.1M99 66L94.3 66.8M101.9 79.4L100.2 78.3M134 64.8L132.6 67.7M137.6 49L132.9 47.9M137.6 49L141.6 49.3M213.4 29.3L215.4 31.7M221.4 17.6L225.4 15.9M216.7 11.5L218.4 7.2M203.9 17.1L201.3 14.5M196 28.9L191.3 30.4M247.8 83L251.8 86.5M247.4 70L251.3 68.8M236.4 60.4L236.2 55.8M225.7 63.8L221.7 60.4M237.1 86.4L237.3 91.1M192.2 46.4L195.7 49.7M192.2 46.4L189.9 43.7M181.3 54.6L178.3 51M171.2 63.8L171.2 61.8M199.9 84.3L196.7 84.5M215.3 79.6L214 74.9M215.3 79.6L217.1 83.2M270.3 135.4L269.2 138.3M284.5 136.4L287.9 139M287.4 129.3L291.9 128.7M276.1 121.1L277.1 117.5M261.9 120.1L258.3 116.7M241 192L240 197.2M252 185.2L255 187.9M254.8 170.8L258.8 168.4M246.5 163.3L247.5 158.1M232.7 184.5L228.7 186.9M244.9 125.5L243.8 130.3M244.9 125.5L246.1 122.2M232.3 120.2L233.9 115.8M219.3 116L221.1 115.1M215.9 151.1L214.1 148.5M227.7 162.2L231.1 158.7M227.7 162.2L225.4 165.5M206.8 237.6L203.8 238.2M213 250.5L212.5 254.8M220.7 249.4L223.5 253M222.2 235.5L225.8 234.6M216 222.7L217 218M143.2 240.6L138.2 242.3M154.6 246.8L153.7 250.7M168.4 242L172.6 244.2M170.8 231L175.8 229.3M145.6 229.6L141.4 227.4M202.7 210.7L198.1 212.1M202.7 210.7L206.2 210.1M201 197.2L205.7 196.3M198.1 183.8L199.8 184.9M166 198.4L167.4 195.5M162.4 214.2L167.1 215.3M162.4 214.2L158.4 213.9M86.6 233.9L84.6 231.5M78.6 245.6L74.6 247.3M83.3 251.7L81.6 256M96.1 246.1L98.7 248.7M104 234.3L108.7 232.8M52.2 180.2L48.2 176.7M52.6 193.2L48.7 194.4M63.6 202.8L63.8 207.4M74.3 199.4L78.3 202.8M62.9 176.8L62.7 172.1M107.8 216.8L104.3 213.5M107.8 216.8L110.1 219.5M118.7 208.6L121.7 212.2M128.8 199.4L128.8 201.4M100.1 178.9L103.3 178.7M84.7 183.6L86 188.3M84.7 183.6L82.9 180M29.7 127.8L30.8 124.9M15.5 126.8L12.1 124.2M12.6 133.9L8.1 134.5M23.9 142.1L22.9 145.7M38.1 143.1L41.7 146.5M59 71.2L60 66M48 78L45 75.3M45.2 92.4L41.2 94.8M53.5 99.9L52.5 105.1M67.3 78.7L71.3 76.3M55.1 137.7L56.2 132.9M55.1 137.7L53.9 141M67.7 143L66.1 147.4M80.7 147.2L78.9 148.1M84.1 112.1L85.9 114.7M72.3 101L68.9 104.5M72.3 101L74.6 97.7" stroke="#7c7c7c" stroke-width="0.9" stroke-linecap="round" fill="none"/>
<path d="M96.2 25L99.2 24.5M87.5 8.4L88 4.1M76.5 10.2L73.7 6.6M74.2 28.6L70.6 29.6M83 45.2L81.9 50M161.8 20.9L166.8 19.2M146.3 12.5L147.1 8.6M127.4 19L123.3 16.8M124.2 33.9L119.2 35.6M158.6 35.8L162.7 38M101.9 51L106.6 49.6M93.8 53.1L90.3 53.7M94.3 66.8L89.7 67.7M132.6 67.7L131.1 70.5M132.9 47.9L128.2 46.7M141.6 49.3L145.7 49.6M151.6 69.2L156.2 68.3M146.9 75.8L146.9 81.7M215.4 31.7L217.4 34.1M225.4 15.9L229.4 14.2M218.4 7.2L220.1 3M201.3 14.5L198.6 11.8M191.3 30.4L186.6 31.8M251.8 86.5L255.8 89.9M251.3 68.8L255.1 67.6M236.2 55.8L236.1 51.1M221.7 60.4L217.7 56.9M237.3 91.1L237.4 95.8M195.7 49.7L199.3 53M189.9 43.7L187.6 40.9M178.3 51L175.2 47.4M196.7 84.5L193.5 84.7M214 74.9L212.6 70.3M217.1 83.2L218.9 86.9M204.9 101.7L207.9 105.3M196.7 101L191.7 104M269.2 138.3L268.2 141.2M287.9 139L291.4 141.7M291.9 128.7L296.4 128M277.1 117.5L278 113.8M258.3 116.7L254.7 113.4M240 197.2L239 202.4M255 187.9L258 190.6M258.8 168.4L262.8 165.9M247.5 158.1L248.5 152.9M228.7 186.9L224.7 189.4M243.8 130.3L242.7 135M246.1 122.2L247.3 118.8M233.9 115.8L235.5 111.3M214.1 148.5L212.4 145.8M231.1 158.7L234.4 155.2M225.4 165.5L223.2 168.9M203.3 164.2L201.7 168.6M199.8 156.8L194.8 153.9M203.8 238.2L200.8 238.7M212.5 254.8L212 259.1M223.5 253L226.3 256.6M225.8 234.6L229.4 233.6M217 218L218.1 213.2M138.2 242.3L133.2 244M153.7 250.7L152.9 254.6M172.6 244.2L176.7 246.4M175.8 229.3L180.8 227.6M141.4 227.4L137.3 225.2M198.1 212.1L193.4 213.6M206.2 210.1L209.7 209.5M205.7 196.3L210.3 195.5M167.4 195.5L168.9 192.7M167.1 215.3L171.8 216.5M158.4 213.9L154.3 213.6M148.4 194L143.8 194.9M153.1 187.3L153.1 181.5M84.6 231.5L82.6 229.1M74.6 247.3L70.6 249M81.6 256L79.9 260.2M98.7 248.7L101.4 251.4M108.7 232.8L113.4 231.4M48.2 176.7L44.2 173.3M48.7 194.4L44.9 195.6M63.8 207.4L63.9 212.1M78.3 202.8L82.3 206.3M62.7 172.1L62.6 167.4M104.3 213.5L100.7 210.2M110.1 219.5L112.4 222.3M121.7 212.2L124.8 215.8M103.3 178.7L106.5 178.5M86 188.3L87.4 192.9M82.9 180L81.1 176.3M95.1 161.5L92.1 157.9M103.3 162.2L108.3 159.2M30.8 124.9L31.8 122M12.1 124.2L8.6 121.5M8.1 134.5L3.6 135.2M22.9 145.7L22 149.4M41.7 146.5L45.3 149.8M60 66L61 60.8M45 75.3L42 72.6M41.2 94.8L37.2 97.3M52.5 105.1L51.5 110.3M71.3 76.3L75.3 73.8M56.2 132.9L57.3 128.2M53.9 141L52.7 144.4M66.1 147.4L64.5 151.9M85.9 114.7L87.6 117.4M68.9 104.5L65.6 108M74.6 97.7L76.8 94.3M96.7 99L98.3 94.6M100.2 106.4L105.2 109.3" stroke="#f4f4f4" stroke-width="0.9" stroke-linecap="round" fill="none"/>
<path d="M91.7 39.4L94.5 46M94.5 46L97.3 52.5M97.3 52.5L98.2 59.2M98.2 59.2L99 66M99 66L100.5 72.7M100.5 72.7L101.9 79.4M101.9 79.4L103.4 83.8M99 66L106.5 65.2M114.4 64.8L121 64.8M121 64.8L127.5 64.8M127.5 64.8L134 64.8M134 64.8L135.8 56.9M135.8 56.9L137.6 49M137.6 49L139.1 43.7M139.1 43.7L140.6 38.3M134 64.8L142.3 68.1M200.7 35L196.4 40.7M196.4 40.7L192.2 46.4M192.2 46.4L186.7 50.5M186.7 50.5L181.3 54.6M181.3 54.6L176.2 59.2M176.2 59.2L171.2 63.8M171.2 63.8L168.1 67.3M181.3 54.6L185.7 60.7M190.1 67.4L193.4 73.1M193.4 73.1L196.6 78.7M196.6 78.7L199.9 84.3M199.9 84.3L207.6 82M207.6 82L215.3 79.6M215.3 79.6L220.7 78.2M220.7 78.2L226.1 76.8M199.9 84.3L201.1 93.2M259 127.2L251.9 126.4M251.9 126.4L244.9 125.5M244.9 125.5L238.6 122.9M238.6 122.9L232.3 120.2M232.3 120.2L225.8 118.1M225.8 118.1L219.3 116M219.3 116L214.7 115.2M232.3 120.2L229.2 127.1M225.6 134.2L222.4 139.9M222.4 139.9L219.1 145.5M219.1 145.5L215.9 151.1M215.9 151.1L221.8 156.7M221.8 156.7L227.7 162.2M227.7 162.2L231.6 166.1M231.6 166.1L235.5 170.1M215.9 151.1L208.8 156.6M208.3 223.8L205.5 217.2M205.5 217.2L202.7 210.7M202.7 210.7L201.8 203.9M201.8 203.9L201 197.2M201 197.2L199.6 190.5M199.6 190.5L198.1 183.8M198.1 183.8L196.6 179.4M201 197.2L193.5 198M185.6 198.4L179 198.4M179 198.4L172.5 198.4M172.5 198.4L166 198.4M166 198.4L164.2 206.3M164.2 206.3L162.4 214.2M162.4 214.2L160.9 219.5M160.9 219.5L159.4 224.8M166 198.4L157.7 195.1M99.3 228.2L103.6 222.5M103.6 222.5L107.8 216.8M107.8 216.8L113.3 212.7M113.3 212.7L118.7 208.6M118.7 208.6L123.8 204M123.8 204L128.8 199.4M128.8 199.4L131.9 195.9M118.7 208.6L114.3 202.5M109.9 195.8L106.6 190.1M106.6 190.1L103.4 184.5M103.4 184.5L100.1 178.9M100.1 178.9L92.4 181.2M92.4 181.2L84.7 183.6M84.7 183.6L79.3 185M79.3 185L73.9 186.4M100.1 178.9L98.9 170M41 136L48.1 136.8M48.1 136.8L55.1 137.7M55.1 137.7L61.4 140.3M61.4 140.3L67.7 143M67.7 143L74.2 145.1M74.2 145.1L80.7 147.2M80.7 147.2L85.3 148M67.7 143L70.8 136.1M74.4 129L77.6 123.3M77.6 123.3L80.9 117.7M80.9 117.7L84.1 112.1M84.1 112.1L78.2 106.5M78.2 106.5L72.3 101M72.3 101L68.4 97.1M68.4 97.1L64.5 93.1M84.1 112.1L91.2 106.6" stroke="#7c7c7c" stroke-width="1.1" stroke-linecap="round" fill="none"/>
<path d="M100.2 78.3L98.4 77.2M171.2 61.8L171.3 59.7M221.1 115.1L222.9 114.1M199.8 184.9L201.6 186M128.8 201.4L128.7 203.5M78.9 148.1L77.1 149.1" stroke="#ff4a4a" stroke-width="0.9" stroke-linecap="round" fill="none"/>
<path d="M103.4 83.8L104.9 88.1M143.5 102.2L140.4 103M143.5 102.2L148.8 103.9M160.4 98L161.2 93.7M160.4 98L156.5 99.5M168.1 67.3L165.1 70.8M172.2 111.3L170 109M172.2 111.3L173.4 116.7M184.3 123.8L188.5 122.3M184.3 123.8L181.1 121.1M214.7 115.2L210.2 114.3M178.7 140.7L179.6 137.6M178.7 140.7L174.6 144.4M173.9 157.4L177.3 160.3M173.9 157.4L174.6 153.3M196.6 179.4L195.1 175.1M156.5 161L159.6 160.2M156.5 161L151.2 159.3M139.6 165.2L138.8 169.5M139.6 165.2L143.5 163.8M131.9 195.9L134.9 192.4M127.8 151.9L130 154.2M127.8 151.9L126.6 146.5M115.7 139.4L111.5 140.9M115.7 139.4L118.9 142.1M85.3 148L89.8 148.9M121.3 122.5L120.4 125.6M121.3 122.5L125.4 118.8M126.1 105.8L122.7 102.9M126.1 105.8L125.4 109.9" stroke="#ff4a4a" stroke-width="1.1" stroke-linecap="round" fill="none"/>
<path d="M106.5 65.2L110.7 64.8M110.7 64.8L114.4 64.8M142.3 68.1L146.9 70M185.7 60.7L188.2 64.2M188.2 64.2L190.1 67.4M201.1 93.2L201.8 98.1M229.2 127.1L227.5 131M227.5 131L225.6 134.2M208.8 156.6L204.9 159.7M193.5 198L189.3 198.4M189.3 198.4L185.6 198.4M157.7 195.1L153.1 193.2M114.3 202.5L111.8 199M111.8 199L109.9 195.8M98.9 170L98.2 165.1M70.8 136.1L72.5 132.2M72.5 132.2L74.4 129M91.2 106.6L95.1 103.5" stroke="#b4b4f4" stroke-width="1.1" stroke-linecap="round" fill="none"/>
<path d="M110.7 64.8L109.7 66.7M188.2 64.2L186 64.2M227.5 131L226.4 129.1M189.3 198.4L190.4 196.5M111.8 199L114 199M72.5 132.2L73.6 134.1" stroke="#b4b4f4" stroke-width="0.8" stroke-linecap="round" fill="none"/>
<path d="M109.7 66.7L108.6 68.6M186 64.2L183.9 64.2M226.4 129.1L225.3 127.2M190.4 196.5L191.4 194.6M114 199L116.1 199M73.6 134.1L74.7 136" stroke="#f4f4f4" stroke-width="0.8" stroke-linecap="round" fill="none"/>
<path d="M146.9 70L151.6 69.2M146.9 70L146.9 75.8M201.8 98.1L204.9 101.7M201.8 98.1L196.7 101M204.9 159.7L203.3 164.2M204.9 159.7L199.8 156.8M153.1 193.2L148.4 194M153.1 193.2L153.1 187.3M98.2 165.1L95.1 161.5M98.2 165.1L103.3 162.2M95.1 103.5L96.7 99M95.1 103.5L100.2 106.4" stroke="#b4b4f4" stroke-width="0.9" stroke-linecap="round" fill="none"/>
<path d="M140.4 103L138.2 103.5M148.8 103.9L152.6 105.1M161.2 93.7L161.8 90.5M156.5 99.5L153.6 100.5M170 109L168.4 107.3M173.4 116.7L174.2 120.6M188.5 122.3L191.5 121.3M181.1 121.1L178.7 119.2M179.6 137.6L180.2 135.4M174.6 144.4L171.6 147.1M177.3 160.3L179.7 162.4M174.6 153.3L175.1 150.3M159.6 160.2L161.8 159.7M151.2 159.3L147.4 158.1M138.8 169.5L138.2 172.7M143.5 163.8L146.4 162.7M130 154.2L131.6 155.9M126.6 146.5L125.8 142.6M111.5 140.9L108.5 141.9M118.9 142.1L121.3 144M120.4 125.6L119.8 127.8M125.4 118.8L128.4 116.1M122.7 102.9L120.3 100.8M125.4 109.9L124.9 112.9" stroke="#f4f4f4" stroke-width="1.1" stroke-linecap="round" fill="none"/>
<line x1="106.8" y1="91.2" x2="118.5" y2="99.4" stroke="#45e0dc" stroke-width="1.7" stroke-dasharray="2.6,0.5"/>
<line x1="147" y1="84" x2="144" y2="100" stroke="#45e0dc" stroke-width="1.7" stroke-dasharray="2.6,0.5"/>
<circle cx="128.6" cy="83" r="2.2" fill="#d81010"/>
<circle cx="150" cy="120" r="2.2" fill="#d81010"/>
<line x1="163.4" y1="74" x2="162.1" y2="88.2" stroke="#45e0dc" stroke-width="1.7" stroke-dasharray="2.6,0.5"/>
<line x1="189.7" y1="105.2" x2="174.4" y2="110.6" stroke="#45e0dc" stroke-width="1.7" stroke-dasharray="2.6,0.5"/>
<circle cx="181.4" cy="88.8" r="2.2" fill="#d81010"/>
<circle cx="160" cy="125.8" r="2.2" fill="#d81010"/>
<line x1="206.6" y1="114.4" x2="193.6" y2="120.4" stroke="#45e0dc" stroke-width="1.7" stroke-dasharray="2.6,0.5"/>
<line x1="192.7" y1="152.8" x2="180.4" y2="142.2" stroke="#45e0dc" stroke-width="1.7" stroke-dasharray="2.6,0.5"/>
<circle cx="202.8" cy="137.4" r="2.2" fill="#d81010"/>
<circle cx="160" cy="137.4" r="2.2" fill="#d81010"/>
<line x1="193.2" y1="172" x2="181.5" y2="163.8" stroke="#45e0dc" stroke-width="1.7" stroke-dasharray="2.6,0.5"/>
<line x1="153" y1="179.2" x2="156" y2="163.2" stroke="#45e0dc" stroke-width="1.7" stroke-dasharray="2.6,0.5"/>
<circle cx="171.4" cy="180.2" r="2.2" fill="#d81010"/>
<circle cx="150" cy="143.2" r="2.2" fill="#d81010"/>
<line x1="136.6" y1="189.2" x2="137.9" y2="175" stroke="#45e0dc" stroke-width="1.7" stroke-dasharray="2.6,0.5"/>
<line x1="110.3" y1="158" x2="125.6" y2="152.6" stroke="#45e0dc" stroke-width="1.7" stroke-dasharray="2.6,0.5"/>
<circle cx="118.6" cy="174.4" r="2.2" fill="#d81010"/>
<circle cx="140" cy="137.4" r="2.2" fill="#d81010"/>
<line x1="93.4" y1="148.8" x2="106.4" y2="142.8" stroke="#45e0dc" stroke-width="1.7" stroke-dasharray="2.6,0.5"/>
<line x1="107.3" y1="110.4" x2="119.6" y2="121" stroke="#45e0dc" stroke-width="1.7" stroke-dasharray="2.6,0.5"/>
<circle cx="97.2" cy="125.8" r="2.2" fill="#d81010"/>
<circle cx="140" cy="125.8" r="2.2" fill="#d81010"/>
<path d="M251.9 280.9L252.9 276M252.9 276L253.9 271.1M253.9 271.1L251.6 269.8M251.6 269.8L249.2 268.4M249.2 268.4L245.9 272M245.9 272L242.5 275.5M242.5 275.5L241.5 280.4M241.5 280.4L240.5 285.3M240.5 285.3L242.8 286.6M242.8 286.6L245.2 288M245.2 288L248.5 284.4M248.5 284.4L251.9 280.9M288.5 306.4L286.7 302.2M286.7 302.2L284.8 298.1M284.8 298.1L279.9 296.5M279.9 296.5L275.1 294.8M275.1 294.8L272.1 297.4M272.1 297.4L269.1 299.9M269.1 299.9L270.9 304.1M270.9 304.1L272.8 308.2M272.8 308.2L277.7 309.8M277.7 309.8L282.5 311.4M282.5 311.4L285.5 308.9M285.5 308.9L288.5 306.4" stroke="#464646" stroke-width="3" stroke-linecap="round" fill="none"/>
<path d="M251.9 280.9L253.8 281.9M253.9 271.1L256 268.9M249.2 268.4L249.2 265.3M242.5 275.5L240.1 274.5M240.5 285.3L237.9 287.5M288.5 306.4L292 307.6M284.8 298.1L287 296.3M275.1 294.8L273.7 291.9M269.1 299.9L265.6 298.7M282.5 311.4L283.9 314.4M242.7 297.6L245.9 298.8M242.7 297.6L240.5 296.5M237.9 305.8L235 304.3M233.8 314.5L233.3 313.2M257.9 320.1L255.8 321M266.6 312.8L264.5 310.2M266.6 312.8L268.7 314.7" stroke="#464646" stroke-width="2.8" stroke-linecap="round" fill="none"/>
<path d="M253.8 281.9L255.7 282.9M256 268.9L258.2 266.8M249.2 265.3L249.2 262.1M240.1 274.5L237.6 273.5M237.9 287.5L235.2 289.7M292 307.6L295.5 308.7M287 296.3L289.1 294.4M273.7 291.9L272.4 288.9M265.6 298.7L262.1 297.6M283.9 314.4L285.2 317.4M245.9 298.8L249.1 300M240.5 296.5L238.3 295.3M235 304.3L232 302.8M255.8 321L253.8 322M264.5 310.2L262.3 307.6M268.7 314.7L270.8 316.6M265.7 330L268.7 331.5M260.3 331.7L257.8 335" stroke="#9a9a9a" stroke-width="2.8" stroke-linecap="round" fill="none"/>
<path d="M245.2 288L243.9 292.8M243.9 292.8L242.7 297.6M242.7 297.6L240.3 301.7M240.3 301.7L237.9 305.8M237.9 305.8L235.9 310.2M235.9 310.2L233.8 314.5M233.8 314.5L232.8 317.6M237.9 305.8L242.4 308.6M247 311.7L250.6 314.5M250.6 314.5L254.2 317.3M254.2 317.3L257.9 320.1M257.9 320.1L262.2 316.5M262.2 316.5L266.6 312.8M266.6 312.8L269.7 310.5M269.7 310.5L272.8 308.2M257.9 320.1L261 325.4" stroke="#464646" stroke-width="3.5" stroke-linecap="round" fill="none"/>
<path d="M233.3 313.2L232.8 311.8" stroke="#a00000" stroke-width="2.8" stroke-linecap="round" fill="none"/>
<path d="M232.8 317.6L231.8 320.6" stroke="#a00000" stroke-width="3.5" stroke-linecap="round" fill="none"/>
<path d="M242.4 308.6L244.9 310.2M244.9 310.2L247 311.7M261 325.4L262.8 328.5" stroke="#6a6ab8" stroke-width="3.5" stroke-linecap="round" fill="none"/>
<path d="M244.9 310.2L243.5 310.8" stroke="#6a6ab8" stroke-width="2.6" stroke-linecap="round" fill="none"/>
<path d="M243.5 310.8L242.1 311.4" stroke="#9a9a9a" stroke-width="2.6" stroke-linecap="round" fill="none"/>
<path d="M262.8 328.5L265.7 330M262.8 328.5L260.3 331.7" stroke="#6a6ab8" stroke-width="2.8" stroke-linecap="round" fill="none"/>
<path d="M249.6,279.6 L250.5,277.6 L250.8,275.6 L250.6,274.1 L249.8,273.1 L248.7,273 L247.3,273.6 L245.9,275 L244.8,276.8 L243.9,278.8 L243.6,280.8 L243.8,282.3 L244.6,283.3 L245.7,283.4 L247.1,282.8 L248.5,281.4 Z" fill="none" stroke="#5c5c5c" stroke-width="1.1"/>
<path d="M282.8,306.6 L283.7,305.3 L283.9,303.7 L283.2,302 L281.9,300.5 L280.1,299.4 L278.1,298.8 L276.3,298.9 L274.8,299.7 L273.9,301 L273.7,302.6 L274.4,304.3 L275.7,305.8 L277.5,306.9 L279.4,307.5 L281.3,307.4 Z" fill="none" stroke="#5c5c5c" stroke-width="1.1"/>
<path d="M251.9 280.9L252.9 276M252.9 276L253.9 271.1M253.9 271.1L251.6 269.8M251.6 269.8L249.2 268.4M249.2 268.4L245.9 272M245.9 272L242.5 275.5M242.5 275.5L241.5 280.4M241.5 280.4L240.5 285.3M240.5 285.3L242.8 286.6M242.8 286.6L245.2 288M245.2 288L248.5 284.4M248.5 284.4L251.9 280.9M288.5 306.4L286.7 302.2M286.7 302.2L284.8 298.1M284.8 298.1L279.9 296.5M279.9 296.5L275.1 294.8M275.1 294.8L272.1 297.4M272.1 297.4L269.1 299.9M269.1 299.9L270.9 304.1M270.9 304.1L272.8 308.2M272.8 308.2L277.7 309.8M277.7 309.8L282.5 311.4M282.5 311.4L285.5 308.9M285.5 308.9L288.5 306.4" stroke="#676767" stroke-width="2.1" stroke-linecap="round" fill="none"/>
<path d="M251.9 280.9L253.8 281.9M253.9 271.1L256 268.9M249.2 268.4L249.2 265.3M242.5 275.5L240.1 274.5M240.5 285.3L237.9 287.5M288.5 306.4L292 307.6M284.8 298.1L287 296.3M275.1 294.8L273.7 291.9M269.1 299.9L265.6 298.7M282.5 311.4L283.9 314.4M242.7 297.6L245.9 298.8M242.7 297.6L240.5 296.5M237.9 305.8L235 304.3M233.8 314.5L233.3 313.2M257.9 320.1L255.8 321M266.6 312.8L264.5 310.2M266.6 312.8L268.7 314.7" stroke="#676767" stroke-width="1.9" stroke-linecap="round" fill="none"/>
<path d="M253.8 281.9L255.7 282.9M256 268.9L258.2 266.8M249.2 265.3L249.2 262.1M240.1 274.5L237.6 273.5M237.9 287.5L235.2 289.7M292 307.6L295.5 308.7M287 296.3L289.1 294.4M273.7 291.9L272.4 288.9M265.6 298.7L262.1 297.6M283.9 314.4L285.2 317.4M245.9 298.8L249.1 300M240.5 296.5L238.3 295.3M235 304.3L232 302.8M255.8 321L253.8 322M264.5 310.2L262.3 307.6M268.7 314.7L270.8 316.6M265.7 330L268.7 331.5M260.3 331.7L257.8 335" stroke="#dcdcdc" stroke-width="1.9" stroke-linecap="round" fill="none"/>
<path d="M245.2 288L243.9 292.8M243.9 292.8L242.7 297.6M242.7 297.6L240.3 301.7M240.3 301.7L237.9 305.8M237.9 305.8L235.9 310.2M235.9 310.2L233.8 314.5M233.8 314.5L232.8 317.6M237.9 305.8L242.4 308.6M247 311.7L250.6 314.5M250.6 314.5L254.2 317.3M254.2 317.3L257.9 320.1M257.9 320.1L262.2 316.5M262.2 316.5L266.6 312.8M266.6 312.8L269.7 310.5M269.7 310.5L272.8 308.2M257.9 320.1L261 325.4" stroke="#676767" stroke-width="2.4" stroke-linecap="round" fill="none"/>
<path d="M233.3 313.2L232.8 311.8" stroke="#dc1010" stroke-width="1.9" stroke-linecap="round" fill="none"/>
<path d="M232.8 317.6L231.8 320.6" stroke="#dc1010" stroke-width="2.4" stroke-linecap="round" fill="none"/>
<path d="M242.4 308.6L244.9 310.2M244.9 310.2L247 311.7M261 325.4L262.8 328.5" stroke="#9090e0" stroke-width="2.4" stroke-linecap="round" fill="none"/>
<path d="M244.9 310.2L243.5 310.8" stroke="#9090e0" stroke-width="1.7" stroke-linecap="round" fill="none"/>
<path d="M243.5 310.8L242.1 311.4" stroke="#dcdcdc" stroke-width="1.7" stroke-linecap="round" fill="none"/>
<path d="M262.8 328.5L265.7 330M262.8 328.5L260.3 331.7" stroke="#9090e0" stroke-width="1.9" stroke-linecap="round" fill="none"/>
<path d="M251.9 280.9L252.9 276M252.9 276L253.9 271.1M253.9 271.1L251.6 269.8M251.6 269.8L249.2 268.4M249.2 268.4L245.9 272M245.9 272L242.5 275.5M242.5 275.5L241.5 280.4M241.5 280.4L240.5 285.3M240.5 285.3L242.8 286.6M242.8 286.6L245.2 288M245.2 288L248.5 284.4M248.5 284.4L251.9 280.9M288.5 306.4L286.7 302.2M286.7 302.2L284.8 298.1M284.8 298.1L279.9 296.5M279.9 296.5L275.1 294.8M275.1 294.8L272.1 297.4M272.1 297.4L269.1 299.9M269.1 299.9L270.9 304.1M270.9 304.1L272.8 308.2M272.8 308.2L277.7 309.8M277.7 309.8L282.5 311.4M282.5 311.4L285.5 308.9M285.5 308.9L288.5 306.4" stroke="#7c7c7c" stroke-width="0.8" stroke-linecap="round" fill="none"/>
<path d="M251.9 280.9L253.8 281.9M253.9 271.1L256 268.9M249.2 268.4L249.2 265.3M242.5 275.5L240.1 274.5M240.5 285.3L237.9 287.5M288.5 306.4L292 307.6M284.8 298.1L287 296.3M275.1 294.8L273.7 291.9M269.1 299.9L265.6 298.7M282.5 311.4L283.9 314.4M242.7 297.6L245.9 298.8M242.7 297.6L240.5 296.5M237.9 305.8L235 304.3M233.8 314.5L233.3 313.2M257.9 320.1L255.8 321M266.6 312.8L264.5 310.2M266.6 312.8L268.7 314.7" stroke="#7c7c7c" stroke-width="0.7" stroke-linecap="round" fill="none"/>
<path d="M253.8 281.9L255.7 282.9M256 268.9L258.2 266.8M249.2 265.3L249.2 262.1M240.1 274.5L237.6 273.5M237.9 287.5L235.2 289.7M292 307.6L295.5 308.7M287 296.3L289.1 294.4M273.7 291.9L272.4 288.9M265.6 298.7L262.1 297.6M283.9 314.4L285.2 317.4M245.9 298.8L249.1 300M240.5 296.5L238.3 295.3M235 304.3L232 302.8M255.8 321L253.8 322M264.5 310.2L262.3 307.6M268.7 314.7L270.8 316.6M265.7 330L268.7 331.5M260.3 331.7L257.8 335" stroke="#f4f4f4" stroke-width="0.7" stroke-linecap="round" fill="none"/>
<path d="M245.2 288L243.9 292.8M243.9 292.8L242.7 297.6M242.7 297.6L240.3 301.7M240.3 301.7L237.9 305.8M237.9 305.8L235.9 310.2M235.9 310.2L233.8 314.5M233.8 314.5L232.8 317.6M237.9 305.8L242.4 308.6M247 311.7L250.6 314.5M250.6 314.5L254.2 317.3M254.2 317.3L257.9 320.1M257.9 320.1L262.2 316.5M262.2 316.5L266.6 312.8M266.6 312.8L269.7 310.5M269.7 310.5L272.8 308.2M257.9 320.1L261 325.4" stroke="#7c7c7c" stroke-width="0.9" stroke-linecap="round" fill="none"/>
<path d="M233.3 313.2L232.8 311.8" stroke="#ff4a4a" stroke-width="0.7" stroke-linecap="round" fill="none"/>
<path d="M232.8 317.6L231.8 320.6" stroke="#ff4a4a" stroke-width="0.9" stroke-linecap="round" fill="none"/>
<path d="M242.4 308.6L244.9 310.2M244.9 310.2L247 311.7M261 325.4L262.8 328.5" stroke="#b4b4f4" stroke-width="0.9" stroke-linecap="round" fill="none"/>
<path d="M244.9 310.2L243.5 310.8" stroke="#b4b4f4" stroke-width="0.6" stroke-linecap="round" fill="none"/>
<path d="M243.5 310.8L242.1 311.4" stroke="#f4f4f4" stroke-width="0.6" stroke-linecap="round" fill="none"/>
<path d="M262.8 328.5L265.7 330M262.8 328.5L260.3 331.7" stroke="#b4b4f4" stroke-width="0.7" stroke-linecap="round" fill="none"/>
<path d="M234.9 338.2L234.1 334.4M234.9 338.2L231.6 341M246.3 343.9L243.7 342.6M246.3 343.9L248.3 347.7" stroke="#a00000" stroke-width="3.4" stroke-linecap="round" fill="none"/>
<path d="M234.1 334.4L233.6 331.6M231.6 341L229.2 343M243.7 342.6L241.9 341.7M248.3 347.7L249.8 350.5" stroke="#9a9a9a" stroke-width="3.4" stroke-linecap="round" fill="none"/>
<path d="M234.9 338.2L234.1 334.4M234.9 338.2L231.6 341M246.3 343.9L243.7 342.6M246.3 343.9L248.3 347.7" stroke="#dc1010" stroke-width="2.3" stroke-linecap="round" fill="none"/>
<path d="M234.1 334.4L233.6 331.6M231.6 341L229.2 343M243.7 342.6L241.9 341.7M248.3 347.7L249.8 350.5" stroke="#dcdcdc" stroke-width="2.3" stroke-linecap="round" fill="none"/>
<path d="M234.9 338.2L234.1 334.4M234.9 338.2L231.6 341M246.3 343.9L243.7 342.6M246.3 343.9L248.3 347.7" stroke="#ff4a4a" stroke-width="0.9" stroke-linecap="round" fill="none"/>
<path d="M234.1 334.4L233.6 331.6M231.6 341L229.2 343M243.7 342.6L241.9 341.7M248.3 347.7L249.8 350.5" stroke="#f4f4f4" stroke-width="0.9" stroke-linecap="round" fill="none"/>
<line x1="256.3" y1="334.7" x2="247.2" y2="342.6" stroke="#40e0e0" stroke-width="1.6" stroke-dasharray="1.2,0.6"/>
<path d="M251.4 407.7L252.4 402.8M252.4 402.8L253.4 397.9M253.4 397.9L251.1 396.6M251.1 396.6L248.7 395.2M248.7 395.2L245.4 398.8M245.4 398.8L242 402.3M242 402.3L241 407.2M241 407.2L240 412.1M240 412.1L242.3 413.4M242.3 413.4L244.7 414.8M244.7 414.8L248 411.2M248 411.2L251.4 407.7M288 433.2L286.2 429M286.2 429L284.3 424.9M284.3 424.9L279.4 423.3M279.4 423.3L274.6 421.6M274.6 421.6L271.6 424.2M271.6 424.2L268.6 426.7M268.6 426.7L270.4 430.9M270.4 430.9L272.3 435M272.3 435L277.2 436.6M277.2 436.6L282 438.2M282 438.2L285 435.7M285 435.7L288 433.2" stroke="#464646" stroke-width="3" stroke-linecap="round" fill="none"/>
<path d="M251.4 407.7L253.3 408.7M253.4 397.9L255.5 395.7M248.7 395.2L248.7 392.1M242 402.3L239.6 401.3M240 412.1L237.4 414.3M288 433.2L291.5 434.4M284.3 424.9L286.5 423.1M274.6 421.6L273.2 418.7M268.6 426.7L265.1 425.5M282 438.2L283.4 441.2M242.2 424.4L245.4 425.6M242.2 424.4L240 423.3M237.4 432.6L234.5 431.1M233.3 441.3L232.8 440M257.4 446.9L255.3 447.8M266.1 439.6L264 437M266.1 439.6L268.2 441.5" stroke="#464646" stroke-width="2.8" stroke-linecap="round" fill="none"/>
<path d="M253.3 408.7L255.2 409.7M255.5 395.7L257.7 393.6M248.7 392.1L248.7 388.9M239.6 401.3L237.1 400.3M237.4 414.3L234.7 416.5M291.5 434.4L295 435.5M286.5 423.1L288.6 421.2M273.2 418.7L271.9 415.7M265.1 425.5L261.6 424.4M283.4 441.2L284.7 444.2M245.4 425.6L248.6 426.8M240 423.3L237.8 422.1M234.5 431.1L231.5 429.6M255.3 447.8L253.3 448.8M264 437L261.8 434.4M268.2 441.5L270.3 443.4M265.2 456.8L268.2 458.3M259.8 458.5L257.3 461.8" stroke="#9a9a9a" stroke-width="2.8" stroke-linecap="round" fill="none"/>
<path d="M244.7 414.8L243.4 419.6M243.4 419.6L242.2 424.4M242.2 424.4L239.8 428.5M239.8 428.5L237.4 432.6M237.4 432.6L235.4 437M235.4 437L233.3 441.3M233.3 441.3L232.3 444.4M237.4 432.6L241.9 435.4M246.5 438.5L250.1 441.3M250.1 441.3L253.7 444.1M253.7 444.1L257.4 446.9M257.4 446.9L261.7 443.3M261.7 443.3L266.1 439.6M266.1 439.6L269.2 437.3M269.2 437.3L272.3 435M257.4 446.9L260.5 452.2" stroke="#464646" stroke-width="3.5" stroke-linecap="round" fill="none"/>
<path d="M232.8 440L232.3 438.6" stroke="#a00000" stroke-width="2.8" stroke-linecap="round" fill="none"/>
<path d="M232.3 444.4L231.3 447.4" stroke="#a00000" stroke-width="3.5" stroke-linecap="round" fill="none"/>
<path d="M241.9 435.4L244.4 437M244.4 437L246.5 438.5M260.5 452.2L262.3 455.3" stroke="#6a6ab8" stroke-width="3.5" stroke-linecap="round" fill="none"/>
<path d="M244.4 437L243 437.6" stroke="#6a6ab8" stroke-width="2.6" stroke-linecap="round" fill="none"/>
<path d="M243 437.6L241.6 438.2" stroke="#9a9a9a" stroke-width="2.6" stroke-linecap="round" fill="none"/>
<path d="M262.3 455.3L265.2 456.8M262.3 455.3L259.8 458.5" stroke="#6a6ab8" stroke-width="2.8" stroke-linecap="round" fill="none"/>
<path d="M249.1,406.4 L250,404.4 L250.3,402.4 L250.1,400.9 L249.3,399.9 L248.2,399.8 L246.8,400.4 L245.4,401.8 L244.3,403.6 L243.4,405.6 L243.1,407.6 L243.3,409.1 L244.1,410.1 L245.2,410.2 L246.6,409.6 L248,408.2 Z" fill="none" stroke="#5c5c5c" stroke-width="1.1"/>
<path d="M282.3,433.4 L283.2,432.1 L283.4,430.5 L282.7,428.8 L281.4,427.3 L279.6,426.2 L277.6,425.6 L275.8,425.7 L274.3,426.5 L273.4,427.8 L273.2,429.4 L273.9,431.1 L275.2,432.6 L277,433.7 L278.9,434.3 L280.8,434.2 Z" fill="none" stroke="#5c5c5c" stroke-width="1.1"/>
<path d="M251.4 407.7L252.4 402.8M252.4 402.8L253.4 397.9M253.4 397.9L251.1 396.6M251.1 396.6L248.7 395.2M248.7 395.2L245.4 398.8M245.4 398.8L242 402.3M242 402.3L241 407.2M241 407.2L240 412.1M240 412.1L242.3 413.4M242.3 413.4L244.7 414.8M244.7 414.8L248 411.2M248 411.2L251.4 407.7M288 433.2L286.2 429M286.2 429L284.3 424.9M284.3 424.9L279.4 423.3M279.4 423.3L274.6 421.6M274.6 421.6L271.6 424.2M271.6 424.2L268.6 426.7M268.6 426.7L270.4 430.9M270.4 430.9L272.3 435M272.3 435L277.2 436.6M277.2 436.6L282 438.2M282 438.2L285 435.7M285 435.7L288 433.2" stroke="#676767" stroke-width="2.1" stroke-linecap="round" fill="none"/>
<path d="M251.4 407.7L253.3 408.7M253.4 397.9L255.5 395.7M248.7 395.2L248.7 392.1M242 402.3L239.6 401.3M240 412.1L237.4 414.3M288 433.2L291.5 434.4M284.3 424.9L286.5 423.1M274.6 421.6L273.2 418.7M268.6 426.7L265.1 425.5M282 438.2L283.4 441.2M242.2 424.4L245.4 425.6M242.2 424.4L240 423.3M237.4 432.6L234.5 431.1M233.3 441.3L232.8 440M257.4 446.9L255.3 447.8M266.1 439.6L264 437M266.1 439.6L268.2 441.5" stroke="#676767" stroke-width="1.9" stroke-linecap="round" fill="none"/>
<path d="M253.3 408.7L255.2 409.7M255.5 395.7L257.7 393.6M248.7 392.1L248.7 388.9M239.6 401.3L237.1 400.3M237.4 414.3L234.7 416.5M291.5 434.4L295 435.5M286.5 423.1L288.6 421.2M273.2 418.7L271.9 415.7M265.1 425.5L261.6 424.4M283.4 441.2L284.7 444.2M245.4 425.6L248.6 426.8M240 423.3L237.8 422.1M234.5 431.1L231.5 429.6M255.3 447.8L253.3 448.8M264 437L261.8 434.4M268.2 441.5L270.3 443.4M265.2 456.8L268.2 458.3M259.8 458.5L257.3 461.8" stroke="#dcdcdc" stroke-width="1.9" stroke-linecap="round" fill="none"/>
<path d="M244.7 414.8L243.4 419.6M243.4 419.6L242.2 424.4M242.2 424.4L239.8 428.5M239.8 428.5L237.4 432.6M237.4 432.6L235.4 437M235.4 437L233.3 441.3M233.3 441.3L232.3 444.4M237.4 432.6L241.9 435.4M246.5 438.5L250.1 441.3M250.1 441.3L253.7 444.1M253.7 444.1L257.4 446.9M257.4 446.9L261.7 443.3M261.7 443.3L266.1 439.6M266.1 439.6L269.2 437.3M269.2 437.3L272.3 435M257.4 446.9L260.5 452.2" stroke="#676767" stroke-width="2.4" stroke-linecap="round" fill="none"/>
<path d="M232.8 440L232.3 438.6" stroke="#dc1010" stroke-width="1.9" stroke-linecap="round" fill="none"/>
<path d="M232.3 444.4L231.3 447.4" stroke="#dc1010" stroke-width="2.4" stroke-linecap="round" fill="none"/>
<path d="M241.9 435.4L244.4 437M244.4 437L246.5 438.5M260.5 452.2L262.3 455.3" stroke="#9090e0" stroke-width="2.4" stroke-linecap="round" fill="none"/>
<path d="M244.4 437L243 437.6" stroke="#9090e0" stroke-width="1.7" stroke-linecap="round" fill="none"/>
<path d="M243 437.6L241.6 438.2" stroke="#dcdcdc" stroke-width="1.7" stroke-linecap="round" fill="none"/>
<path d="M262.3 455.3L265.2 456.8M262.3 455.3L259.8 458.5" stroke="#9090e0" stroke-width="1.9" stroke-linecap="round" fill="none"/>
<path d="M251.4 407.7L252.4 402.8M252.4 402.8L253.4 397.9M253.4 397.9L251.1 396.6M251.1 396.6L248.7 395.2M248.7 395.2L245.4 398.8M245.4 398.8L242 402.3M242 402.3L241 407.2M241 407.2L240 412.1M240 412.1L242.3 413.4M242.3 413.4L244.7 414.8M244.7 414.8L248 411.2M248 411.2L251.4 407.7M288 433.2L286.2 429M286.2 429L284.3 424.9M284.3 424.9L279.4 423.3M279.4 423.3L274.6 421.6M274.6 421.6L271.6 424.2M271.6 424.2L268.6 426.7M268.6 426.7L270.4 430.9M270.4 430.9L272.3 435M272.3 435L277.2 436.6M277.2 436.6L282 438.2M282 438.2L285 435.7M285 435.7L288 433.2" stroke="#7c7c7c" stroke-width="0.8" stroke-linecap="round" fill="none"/>
<path d="M251.4 407.7L253.3 408.7M253.4 397.9L255.5 395.7M248.7 395.2L248.7 392.1M242 402.3L239.6 401.3M240 412.1L237.4 414.3M288 433.2L291.5 434.4M284.3 424.9L286.5 423.1M274.6 421.6L273.2 418.7M268.6 426.7L265.1 425.5M282 438.2L283.4 441.2M242.2 424.4L245.4 425.6M242.2 424.4L240 423.3M237.4 432.6L234.5 431.1M233.3 441.3L232.8 440M257.4 446.9L255.3 447.8M266.1 439.6L264 437M266.1 439.6L268.2 441.5" stroke="#7c7c7c" stroke-width="0.7" stroke-linecap="round" fill="none"/>
<path d="M253.3 408.7L255.2 409.7M255.5 395.7L257.7 393.6M248.7 392.1L248.7 388.9M239.6 401.3L237.1 400.3M237.4 414.3L234.7 416.5M291.5 434.4L295 435.5M286.5 423.1L288.6 421.2M273.2 418.7L271.9 415.7M265.1 425.5L261.6 424.4M283.4 441.2L284.7 444.2M245.4 425.6L248.6 426.8M240 423.3L237.8 422.1M234.5 431.1L231.5 429.6M255.3 447.8L253.3 448.8M264 437L261.8 434.4M268.2 441.5L270.3 443.4M265.2 456.8L268.2 458.3M259.8 458.5L257.3 461.8" stroke="#f4f4f4" stroke-width="0.7" stroke-linecap="round" fill="none"/>
<path d="M244.7 414.8L243.4 419.6M243.4 419.6L242.2 424.4M242.2 424.4L239.8 428.5M239.8 428.5L237.4 432.6M237.4 432.6L235.4 437M235.4 437L233.3 441.3M233.3 441.3L232.3 444.4M237.4 432.6L241.9 435.4M246.5 438.5L250.1 441.3M250.1 441.3L253.7 444.1M253.7 444.1L257.4 446.9M257.4 446.9L261.7 443.3M261.7 443.3L266.1 439.6M266.1 439.6L269.2 437.3M269.2 437.3L272.3 435M257.4 446.9L260.5 452.2" stroke="#7c7c7c" stroke-width="0.9" stroke-linecap="round" fill="none"/>
<path d="M232.8 440L232.3 438.6" stroke="#ff4a4a" stroke-width="0.7" stroke-linecap="round" fill="none"/>
<path d="M232.3 444.4L231.3 447.4" stroke="#ff4a4a" stroke-width="0.9" stroke-linecap="round" fill="none"/>
<path d="M241.9 435.4L244.4 437M244.4 437L246.5 438.5M260.5 452.2L262.3 455.3" stroke="#b4b4f4" stroke-width="0.9" stroke-linecap="round" fill="none"/>
<path d="M244.4 437L243 437.6" stroke="#b4b4f4" stroke-width="0.6" stroke-linecap="round" fill="none"/>
<path d="M243 437.6L241.6 438.2" stroke="#f4f4f4" stroke-width="0.6" stroke-linecap="round" fill="none"/>
<path d="M262.3 455.3L265.2 456.8M262.3 455.3L259.8 458.5" stroke="#b4b4f4" stroke-width="0.7" stroke-linecap="round" fill="none"/>
<path d="M234.9 467.8L234.4 464.6M234.9 467.8L231.8 470.1M245.8 473.5L243.8 472M245.8 473.5L247.8 477.1" stroke="#a00000" stroke-width="3.4" stroke-linecap="round" fill="none"/>
<path d="M234.4 464.6L234 462.2M231.8 470.1L229.6 471.8M243.8 472L242.3 470.9M247.8 477.1L249.3 479.7" stroke="#9a9a9a" stroke-width="3.4" stroke-linecap="round" fill="none"/>
<path d="M234.9 467.8L234.4 464.6M234.9 467.8L231.8 470.1M245.8 473.5L243.8 472M245.8 473.5L247.8 477.1" stroke="#dc1010" stroke-width="2.3" stroke-linecap="round" fill="none"/>
<path d="M234.4 464.6L234 462.2M231.8 470.1L229.6 471.8M243.8 472L242.3 470.9M247.8 477.1L249.3 479.7" stroke="#dcdcdc" stroke-width="2.3" stroke-linecap="round" fill="none"/>
<path d="M234.9 467.8L234.4 464.6M234.9 467.8L231.8 470.1M245.8 473.5L243.8 472M245.8 473.5L247.8 477.1" stroke="#ff4a4a" stroke-width="0.9" stroke-linecap="round" fill="none"/>
<path d="M234.4 464.6L234 462.2M231.8 470.1L229.6 471.8M243.8 472L242.3 470.9M247.8 477.1L249.3 479.7" stroke="#f4f4f4" stroke-width="0.9" stroke-linecap="round" fill="none"/>
<line x1="230.9" y1="450.8" x2="233.5" y2="460.4" stroke="#40e0e0" stroke-width="1.6" stroke-dasharray="1.2,0.6"/>
<path d="M251.3 535.5L252.3 530.6M252.3 530.6L253.3 525.7M253.3 525.7L251 524.4M251 524.4L248.6 523M248.6 523L245.3 526.6M245.3 526.6L241.9 530.1M241.9 530.1L240.9 535M240.9 535L239.9 539.9M239.9 539.9L242.2 541.2M242.2 541.2L244.6 542.6M244.6 542.6L247.9 539M247.9 539L251.3 535.5M287.9 561L286.1 556.8M286.1 556.8L284.2 552.7M284.2 552.7L279.3 551.1M279.3 551.1L274.5 549.4M274.5 549.4L271.5 552M271.5 552L268.5 554.5M268.5 554.5L270.3 558.7M270.3 558.7L272.2 562.8M272.2 562.8L277.1 564.4M277.1 564.4L281.9 566M281.9 566L284.9 563.5M284.9 563.5L287.9 561" stroke="#464646" stroke-width="3" stroke-linecap="round" fill="none"/>
<path d="M251.3 535.5L253.2 536.5M253.3 525.7L255.4 523.5M248.6 523L248.6 519.9M241.9 530.1L239.5 529.1M239.9 539.9L237.3 542.1M287.9 561L291.4 562.2M284.2 552.7L286.4 550.9M274.5 549.4L273.1 546.5M268.5 554.5L265 553.3M281.9 566L283.3 569M242.1 552.2L245.3 553.4M242.1 552.2L239.9 551.1M237.3 560.4L234.4 558.9M233.2 569.1L232.7 567.8M257.3 574.7L255.2 575.6M266 567.4L263.9 564.8M266 567.4L268.1 569.3" stroke="#464646" stroke-width="2.8" stroke-linecap="round" fill="none"/>
<path d="M253.2 536.5L255.1 537.5M255.4 523.5L257.6 521.4M248.6 519.9L248.6 516.7M239.5 529.1L237 528.1M237.3 542.1L234.6 544.3M291.4 562.2L294.9 563.3M286.4 550.9L288.5 549M273.1 546.5L271.8 543.5M265 553.3L261.5 552.2M283.3 569L284.6 572M245.3 553.4L248.5 554.6M239.9 551.1L237.7 549.9M234.4 558.9L231.4 557.4M255.2 575.6L253.2 576.6M263.9 564.8L261.7 562.2M268.1 569.3L270.2 571.2M265.1 584.6L268.1 586.1M259.7 586.3L257.2 589.6" stroke="#9a9a9a" stroke-width="2.8" stroke-linecap="round" fill="none"/>
<path d="M244.6 542.6L243.3 547.4M243.3 547.4L242.1 552.2M242.1 552.2L239.7 556.3M239.7 556.3L237.3 560.4M237.3 560.4L235.3 564.8M235.3 564.8L233.2 569.1M233.2 569.1L232.2 572.2M237.3 560.4L241.8 563.2M246.4 566.3L250 569.1M250 569.1L253.6 571.9M253.6 571.9L257.3 574.7M257.3 574.7L261.6 571.1M261.6 571.1L266 567.4M266 567.4L269.1 565.1M269.1 565.1L272.2 562.8M257.3 574.7L260.4 580" stroke="#464646" stroke-width="3.5" stroke-linecap="round" fill="none"/>
<path d="M232.7 567.8L232.2 566.4" stroke="#a00000" stroke-width="2.8" stroke-linecap="round" fill="none"/>
<path d="M232.2 572.2L231.2 575.2" stroke="#a00000" stroke-width="3.5" stroke-linecap="round" fill="none"/>
<path d="M241.8 563.2L244.3 564.8M244.3 564.8L246.4 566.3M260.4 580L262.2 583.1" stroke="#6a6ab8" stroke-width="3.5" stroke-linecap="round" fill="none"/>
<path d="M244.3 564.8L242.9 565.4" stroke="#6a6ab8" stroke-width="2.6" stroke-linecap="round" fill="none"/>
<path d="M242.9 565.4L241.5 566" stroke="#9a9a9a" stroke-width="2.6" stroke-linecap="round" fill="none"/>
<path d="M262.2 583.1L265.1 584.6M262.2 583.1L259.7 586.3" stroke="#6a6ab8" stroke-width="2.8" stroke-linecap="round" fill="none"/>
<path d="M249,534.2 L249.9,532.2 L250.2,530.2 L250,528.7 L249.2,527.7 L248.1,527.6 L246.7,528.2 L245.3,529.6 L244.2,531.4 L243.3,533.4 L243,535.4 L243.2,536.9 L244,537.9 L245.1,538 L246.5,537.4 L247.9,536 Z" fill="none" stroke="#5c5c5c" stroke-width="1.1"/>
<path d="M282.2,561.2 L283.1,559.9 L283.3,558.3 L282.6,556.6 L281.3,555.1 L279.5,554 L277.5,553.4 L275.7,553.5 L274.2,554.3 L273.3,555.6 L273.1,557.2 L273.8,558.9 L275.1,560.4 L276.9,561.5 L278.8,562.1 L280.7,562 Z" fill="none" stroke="#5c5c5c" stroke-width="1.1"/>
<path d="M251.3 535.5L252.3 530.6M252.3 530.6L253.3 525.7M253.3 525.7L251 524.4M251 524.4L248.6 523M248.6 523L245.3 526.6M245.3 526.6L241.9 530.1M241.9 530.1L240.9 535M240.9 535L239.9 539.9M239.9 539.9L242.2 541.2M242.2 541.2L244.6 542.6M244.6 542.6L247.9 539M247.9 539L251.3 535.5M287.9 561L286.1 556.8M286.1 556.8L284.2 552.7M284.2 552.7L279.3 551.1M279.3 551.1L274.5 549.4M274.5 549.4L271.5 552M271.5 552L268.5 554.5M268.5 554.5L270.3 558.7M270.3 558.7L272.2 562.8M272.2 562.8L277.1 564.4M277.1 564.4L281.9 566M281.9 566L284.9 563.5M284.9 563.5L287.9 561" stroke="#676767" stroke-width="2.1" stroke-linecap="round" fill="none"/>
<path d="M251.3 535.5L253.2 536.5M253.3 525.7L255.4 523.5M248.6 523L248.6 519.9M241.9 530.1L239.5 529.1M239.9 539.9L237.3 542.1M287.9 561L291.4 562.2M284.2 552.7L286.4 550.9M274.5 549.4L273.1 546.5M268.5 554.5L265 553.3M281.9 566L283.3 569M242.1 552.2L245.3 553.4M242.1 552.2L239.9 551.1M237.3 560.4L234.4 558.9M233.2 569.1L232.7 567.8M257.3 574.7L255.2 575.6M266 567.4L263.9 564.8M266 567.4L268.1 569.3" stroke="#676767" stroke-width="1.9" stroke-linecap="round" fill="none"/>
<path d="M253.2 536.5L255.1 537.5M255.4 523.5L257.6 521.4M248.6 519.9L248.6 516.7M239.5 529.1L237 528.1M237.3 542.1L234.6 544.3M291.4 562.2L294.9 563.3M286.4 550.9L288.5 549M273.1 546.5L271.8 543.5M265 553.3L261.5 552.2M283.3 569L284.6 572M245.3 553.4L248.5 554.6M239.9 551.1L237.7 549.9M234.4 558.9L231.4 557.4M255.2 575.6L253.2 576.6M263.9 564.8L261.7 562.2M268.1 569.3L270.2 571.2M265.1 584.6L268.1 586.1M259.7 586.3L257.2 589.6" stroke="#dcdcdc" stroke-width="1.9" stroke-linecap="round" fill="none"/>
<path d="M244.6 542.6L243.3 547.4M243.3 547.4L242.1 552.2M242.1 552.2L239.7 556.3M239.7 556.3L237.3 560.4M237.3 560.4L235.3 564.8M235.3 564.8L233.2 569.1M233.2 569.1L232.2 572.2M237.3 560.4L241.8 563.2M246.4 566.3L250 569.1M250 569.1L253.6 571.9M253.6 571.9L257.3 574.7M257.3 574.7L261.6 571.1M261.6 571.1L266 567.4M266 567.4L269.1 565.1M269.1 565.1L272.2 562.8M257.3 574.7L260.4 580" stroke="#676767" stroke-width="2.4" stroke-linecap="round" fill="none"/>
<path d="M232.7 567.8L232.2 566.4" stroke="#dc1010" stroke-width="1.9" stroke-linecap="round" fill="none"/>
<path d="M232.2 572.2L231.2 575.2" stroke="#dc1010" stroke-width="2.4" stroke-linecap="round" fill="none"/>
<path d="M241.8 563.2L244.3 564.8M244.3 564.8L246.4 566.3M260.4 580L262.2 583.1" stroke="#9090e0" stroke-width="2.4" stroke-linecap="round" fill="none"/>
<path d="M244.3 564.8L242.9 565.4" stroke="#9090e0" stroke-width="1.7" stroke-linecap="round" fill="none"/>
<path d="M242.9 565.4L241.5 566" stroke="#dcdcdc" stroke-width="1.7" stroke-linecap="round" fill="none"/>
<path d="M262.2 583.1L265.1 584.6M262.2 583.1L259.7 586.3" stroke="#9090e0" stroke-width="1.9" stroke-linecap="round" fill="none"/>
<path d="M251.3 535.5L252.3 530.6M252.3 530.6L253.3 525.7M253.3 525.7L251 524.4M251 524.4L248.6 523M248.6 523L245.3 526.6M245.3 526.6L241.9 530.1M241.9 530.1L240.9 535M240.9 535L239.9 539.9M239.9 539.9L242.2 541.2M242.2 541.2L244.6 542.6M244.6 542.6L247.9 539M247.9 539L251.3 535.5M287.9 561L286.1 556.8M286.1 556.8L284.2 552.7M284.2 552.7L279.3 551.1M279.3 551.1L274.5 549.4M274.5 549.4L271.5 552M271.5 552L268.5 554.5M268.5 554.5L270.3 558.7M270.3 558.7L272.2 562.8M272.2 562.8L277.1 564.4M277.1 564.4L281.9 566M281.9 566L284.9 563.5M284.9 563.5L287.9 561" stroke="#7c7c7c" stroke-width="0.8" stroke-linecap="round" fill="none"/>
<path d="M251.3 535.5L253.2 536.5M253.3 525.7L255.4 523.5M248.6 523L248.6 519.9M241.9 530.1L239.5 529.1M239.9 539.9L237.3 542.1M287.9 561L291.4 562.2M284.2 552.7L286.4 550.9M274.5 549.4L273.1 546.5M268.5 554.5L265 553.3M281.9 566L283.3 569M242.1 552.2L245.3 553.4M242.1 552.2L239.9 551.1M237.3 560.4L234.4 558.9M233.2 569.1L232.7 567.8M257.3 574.7L255.2 575.6M266 567.4L263.9 564.8M266 567.4L268.1 569.3" stroke="#7c7c7c" stroke-width="0.7" stroke-linecap="round" fill="none"/>
<path d="M253.2 536.5L255.1 537.5M255.4 523.5L257.6 521.4M248.6 519.9L248.6 516.7M239.5 529.1L237 528.1M237.3 542.1L234.6 544.3M291.4 562.2L294.9 563.3M286.4 550.9L288.5 549M273.1 546.5L271.8 543.5M265 553.3L261.5 552.2M283.3 569L284.6 572M245.3 553.4L248.5 554.6M239.9 551.1L237.7 549.9M234.4 558.9L231.4 557.4M255.2 575.6L253.2 576.6M263.9 564.8L261.7 562.2M268.1 569.3L270.2 571.2M265.1 584.6L268.1 586.1M259.7 586.3L257.2 589.6" stroke="#f4f4f4" stroke-width="0.7" stroke-linecap="round" fill="none"/>
<path d="M244.6 542.6L243.3 547.4M243.3 547.4L242.1 552.2M242.1 552.2L239.7 556.3M239.7 556.3L237.3 560.4M237.3 560.4L235.3 564.8M235.3 564.8L233.2 569.1M233.2 569.1L232.2 572.2M237.3 560.4L241.8 563.2M246.4 566.3L250 569.1M250 569.1L253.6 571.9M253.6 571.9L257.3 574.7M257.3 574.7L261.6 571.1M261.6 571.1L266 567.4M266 567.4L269.1 565.1M269.1 565.1L272.2 562.8M257.3 574.7L260.4 580" stroke="#7c7c7c" stroke-width="0.9" stroke-linecap="round" fill="none"/>
<path d="M232.7 567.8L232.2 566.4" stroke="#ff4a4a" stroke-width="0.7" stroke-linecap="round" fill="none"/>
<path d="M232.2 572.2L231.2 575.2" stroke="#ff4a4a" stroke-width="0.9" stroke-linecap="round" fill="none"/>
<path d="M241.8 563.2L244.3 564.8M244.3 564.8L246.4 566.3M260.4 580L262.2 583.1" stroke="#b4b4f4" stroke-width="0.9" stroke-linecap="round" fill="none"/>
<path d="M244.3 564.8L242.9 565.4" stroke="#b4b4f4" stroke-width="0.6" stroke-linecap="round" fill="none"/>
<path d="M242.9 565.4L241.5 566" stroke="#f4f4f4" stroke-width="0.6" stroke-linecap="round" fill="none"/>
<path d="M262.2 583.1L265.1 584.6M262.2 583.1L259.7 586.3" stroke="#b4b4f4" stroke-width="0.7" stroke-linecap="round" fill="none"/>
<path d="M234.7 592.4L234.1 588.2M234.7 592.4L232.2 594.9M225.5 598.5L228.6 597.9M225.5 598.5L223.3 600.4M246 598.5L243.8 597M246 598.5L248.2 601.7M256.2 602.6L259.4 600.4M256.2 602.6L253.3 601.6M214.8 605.1L210.4 603.9M214.8 605.1L215.8 609.3M215.3 616.9L216.4 613.6M215.3 616.9L215 618.8M257.2 614.9L257.2 612.7M257.2 614.9L256 617.8" stroke="#d47c7c" stroke-width="4" stroke-linecap="round" fill="none"/>
<path d="M234.1 588.2L233.7 585.7M232.2 594.9L230.7 596.5M228.6 597.9L230.5 597.5M223.3 600.4L222 601.5M243.8 597L242.4 596M248.2 601.7L249.6 603.6M259.4 600.4L261.3 599M253.3 601.6L251.5 601M210.4 603.9L207.7 603.1M215.8 609.3L216.4 611.8M216.4 613.6L217 611.5M215 618.8L214.8 620M257.2 612.7L257.2 611.3M256 617.8L255.2 619.5" stroke="#bdbdbd" stroke-width="4" stroke-linecap="round" fill="none"/>
<path d="M234.7 592.4L234.1 588.2M234.7 592.4L232.2 594.9M225.5 598.5L228.6 597.9M225.5 598.5L223.3 600.4M246 598.5L243.8 597M246 598.5L248.2 601.7M256.2 602.6L259.4 600.4M256.2 602.6L253.3 601.6M214.8 605.1L210.4 603.9M214.8 605.1L215.8 609.3M215.3 616.9L216.4 613.6M215.3 616.9L215 618.8M257.2 614.9L257.2 612.7M257.2 614.9L256 617.8" stroke="#e89898" stroke-width="2.7" stroke-linecap="round" fill="none"/>
<path d="M234.1 588.2L233.7 585.7M232.2 594.9L230.7 596.5M228.6 597.9L230.5 597.5M223.3 600.4L222 601.5M243.8 597L242.4 596M248.2 601.7L249.6 603.6M259.4 600.4L261.3 599M253.3 601.6L251.5 601M210.4 603.9L207.7 603.1M215.8 609.3L216.4 611.8M216.4 613.6L217 611.5M215 618.8L214.8 620M257.2 612.7L257.2 611.3M256 617.8L255.2 619.5" stroke="#ececec" stroke-width="2.7" stroke-linecap="round" fill="none"/>
<path d="M234.7 592.4L234.1 588.2M234.7 592.4L232.2 594.9M225.5 598.5L228.6 597.9M225.5 598.5L223.3 600.4M246 598.5L243.8 597M246 598.5L248.2 601.7M256.2 602.6L259.4 600.4M256.2 602.6L253.3 601.6M214.8 605.1L210.4 603.9M214.8 605.1L215.8 609.3M215.3 616.9L216.4 613.6M215.3 616.9L215 618.8M257.2 614.9L257.2 612.7M257.2 614.9L256 617.8" stroke="#f2b8b8" stroke-width="1" stroke-linecap="round" fill="none"/>
<path d="M234.1 588.2L233.7 585.7M232.2 594.9L230.7 596.5M228.6 597.9L230.5 597.5M223.3 600.4L222 601.5M243.8 597L242.4 596M248.2 601.7L249.6 603.6M259.4 600.4L261.3 599M253.3 601.6L251.5 601M210.4 603.9L207.7 603.1M215.8 609.3L216.4 611.8M216.4 613.6L217 611.5M215 618.8L214.8 620M257.2 612.7L257.2 611.3M256 617.8L255.2 619.5" stroke="#ffffff" stroke-width="1" stroke-linecap="round" fill="none"/>
<circle cx="209.7" cy="589.8" r="1.9" fill="#d81010"/>
<circle cx="245" cy="581.3" r="1.9" fill="#d81010"/>
<circle cx="233.2" cy="608.7" r="1.9" fill="#d81010"/>
<circle cx="241.2" cy="610.3" r="1.9" fill="#d81010"/>
<circle cx="228.1" cy="615.2" r="1.9" fill="#d81010"/>
<circle cx="244.1" cy="617.9" r="1.9" fill="#d81010"/>
<circle cx="273.3" cy="607.6" r="1.9" fill="#d81010"/>
<line x1="31.2" y1="235.8" x2="53.8" y2="245.2" stroke="#000" stroke-width="1.9"/><path d="M58.2,247 L50.5,247.3 L53.8,245.2 L53,241.4 Z" fill="#000"/>
<line x1="31.2" y1="235.8" x2="14.4" y2="248.9" stroke="#000" stroke-width="1.9"/><path d="M10.6,251.8 L14.2,245 L14.4,248.9 L18.1,250 Z" fill="#000"/>
<text x="50" y="238" font-family="Liberation Serif, serif" font-style="italic" font-size="17.5" fill="#000">a</text>
<text x="1.8" y="248.2" font-family="Liberation Serif, serif" font-style="italic" font-size="17" fill="#000">b</text>
<text x="16" y="33" font-family="Liberation Sans, Arial, sans-serif" font-weight="bold" font-size="30.5" fill="#000">a</text>
<text x="346" y="133" font-family="Liberation Sans, Arial, sans-serif" font-weight="bold" font-size="30.5" fill="#000">b</text>
<text x="347" y="358.5" font-family="Liberation Sans, Arial, sans-serif" font-weight="bold" font-size="30.5" fill="#000">c</text>
<text x="15.5" y="358.5" font-family="Liberation Sans, Arial, sans-serif" font-weight="bold" font-size="30.5" fill="#000">d</text>
<text x="15.5" y="480.5" font-family="Liberation Sans, Arial, sans-serif" font-weight="bold" font-size="30.5" fill="#000">e</text>
<text x="18" y="608" font-family="Liberation Sans, Arial, sans-serif" font-weight="bold" font-size="30.5" fill="#000">f</text>
<text x="346" y="423.5" font-family="Liberation Sans, Arial, sans-serif" font-weight="bold" font-size="30.5" fill="#000">g</text>
<path d="M343.4,139.2 L343.9,136.9 L344.4,137.8 L344.9,138.6 L345.4,139.2 L345.9,138.9 L346.4,139.1 L346.9,139.1 L347.4,139.4 L347.9,136.8 L348.4,138.9 L348.9,138.2 L349.4,137.6 L349.9,138.4 L350.4,139 L350.9,137.5 L351.4,138.2 L351.9,139.4 L352.4,138.6 L352.9,139.4 L353.4,138.7 L353.9,139.3 L354.4,136.2 L354.9,139.5 L355.4,138.4 L355.9,136.5 L356.4,139.3 L356.9,139.4 L357.4,139.2 L357.9,138.8 L358.4,138.7 L358.9,136.8 L359.4,139.3 L359.9,138.5 L360.4,139.5 L360.9,138.5 L361.4,139.1 L361.9,138 L362.4,138.1 L362.9,139.2 L363.4,139.4 L363.9,137.6 L364.4,139.3 L364.9,139 L365.4,137.9 L365.9,139.3 L366.4,138.6 L366.9,137.1 L367.4,137.3 L367.9,136.8 L368.4,138.6 L368.9,139 L369.4,138.9 L369.9,139.5 L370.4,135.9 L370.9,136.6 L371.4,137.6 L371.9,138.1 L372.4,137.4 L372.9,137.7 L373.4,139.4 L373.9,138.9 L374.4,138.9 L374.9,139.4 L375.4,139.1 L375.9,138.4 L376.4,137.9 L376.9,139.5 L377.4,139.4 L377.9,139.3 L378.4,137.8 L378.9,138 L379.4,139.3 L379.9,139.5 L380.4,138.9 L380.9,138.4 L381.4,137.6 L381.9,138.9 L382.4,138 L382.9,139.4 L383.4,139.3 L383.9,139.4 L384.4,138 L384.9,139 L385.4,138.8 L385.9,138.4 L386.4,135.6 L386.9,138.7 L387.4,138.7 L387.9,138.3 L388.4,138.3 L388.9,136.5 L389.4,138.1 L389.9,138.2 L390.4,138 L390.9,138.9 L391.4,138 L391.9,139.4 L392.4,139 L392.9,138.7 L393.4,139.2 L393.9,136.7 L394.4,139.3 L394.9,139.5 L395.4,138.8 L395.9,139 L396.4,137.6 L396.9,138.6 L397.4,138.6 L397.9,138 L398.4,136 L398.9,139 L399.4,139.2 L399.9,139.4 L400.4,138.7 L400.9,139.4 L401.4,138.4 L401.9,139.2 L402.4,138.7 L402.9,138.8 L403.4,138.3 L403.9,137.9 L404.4,139.1 L404.9,139.5 L405.4,139.5 L405.9,138.8 L406.4,138.4 L406.9,139.3 L407.4,139.1 L407.9,139.1 L408.4,136.9 L408.9,139.3 L409.4,138.9 L409.9,139 L410.4,139.1 L410.9,137.7 L411.4,137.3 L411.9,139.2 L412.4,139.5 L412.9,138.6 L413.4,138.3 L413.9,138.8 L414.4,137.7 L414.9,139 L415.4,138.8 L415.9,138.4 L416.4,139.5 L416.9,139.2 L417.4,139.1 L417.9,138.7 L418.4,139 L418.9,139.1 L419.4,137.9 L419.9,138.2 L420.4,138.7 L420.9,138.6 L421.4,136.9 L421.9,138.4 L422.4,137.9 L422.9,138.5 L423.4,138.3 L423.9,138.5 L424.4,138.2 L424.9,138.8 L425.4,139 L425.9,139.2 L426.4,139.2 L426.9,137.4 L427.4,137 L427.9,138.6 L428.4,139.3 L428.9,137.7 L429.4,138.6 L429.9,138.9 L430.4,137 L430.9,138.2 L431.4,139.5 L431.9,138.2 L432.4,138.7 L432.9,138.1 L433.4,139.3 L433.9,137.9 L434.4,138.3 L434.9,138.6 L435.4,137.8 L435.9,136.1 L436.4,139.1 L436.9,136.6 L437.4,137.6 L437.9,139.4 L438.4,138.8 L438.9,139.2 L439.4,139.4 L439.9,139.5 L440.4,138.5 L440.9,138.9 L441.4,136.6 L441.9,137.7 L442.4,139 L442.9,138.3 L443.4,137.4 L443.9,138.4 L444.4,139.1 L444.9,138.7 L445.4,138.3 L445.9,137.9 L446.4,139.2 L446.9,137.7 L447.4,139 L447.9,139.4 L448.4,138 L448.9,138.7 L449.4,139.3 L449.9,139.4 L450.4,139 L450.9,139 L451.4,138.9 L451.9,139.2 L452.4,139.2 L452.9,138.7 L453.4,139 L453.9,138.1 L454.4,138.6 L454.9,138 L455.4,139.3 L455.9,139 L456.4,139 L456.9,138.5 L457.4,135 L457.9,138.4 L458.4,138.1 L458.9,139.1 L459.4,139.3 L459.9,138.1 L460.4,138.4 L460.9,138.3 L461.4,139.1 L461.9,138.7 L462.4,139 L462.9,137.9 L463.4,138.2 L463.9,137.7 L464.4,136.7 L464.9,139.1 L465.4,138 L465.9,138.5 L466.4,137.9 L466.9,139.4 L467.4,138.3 L467.9,138.2 L468.4,139.1 L468.9,138.5 L469.4,139.3 L469.9,138.7 L470.4,138.4 L470.9,138.7 L471.4,139.1 L471.9,137.9 L472.4,138.9 L472.9,138.3 L473.4,139.2 L473.9,139.4 L474.4,138.7 L474.9,139.1 L475.4,139 L475.9,138.5 L476.4,139.1 L476.9,138 L477.4,139.4 L477.9,137.9 L478.4,138.4 L478.9,137.5 L479.4,138.9 L479.9,138.6 L480.4,138.6 L480.9,137.9 L481.4,139 L481.9,138.8 L482.4,137.8 L482.9,138.3 L483.4,138.7 L483.9,138.6 L484.4,139 L484.9,138.8 L485.4,138 L485.9,138.6 L486.4,138.8 L486.9,139.3 L487.4,139.4 L487.9,136.5 L488.4,139.3 L488.9,139.5 L489.4,137.6 L489.9,138.7 L490.4,137.9 L490.9,136.5 L491.4,137.7 L491.9,136.9 L492.4,139.1 L492.9,139.5 L493.4,139.4 L493.9,139.1 L494.4,137.6 L494.9,139 L495.4,139.2 L495.9,139.1 L496.4,138.6 L496.9,139.2 L497.4,137.5 L497.9,139.2 L498.4,139.2 L498.9,139.1 L499.4,138.8 L499.9,138.6 L500.4,139 L500.9,139.4 L501.4,139.3 L501.9,138.8 L502.4,138.3 L502.9,138.7 L503.4,137.6 L503.9,139.3 L504.4,138.8 L504.9,138.2 L505.4,137.6 L505.9,139.4 L506.4,138.7 L506.9,138.7 L507.4,139.3 L507.9,138.8 L508.4,137.2 L508.9,139.1 L509.4,137.8 L509.9,139.3 L510.4,137.3 L510.9,138.7 L511.4,138.3 L511.9,139.1 L512.4,138.4 L512.9,139 L513.4,139.2 L513.9,138.6 L514.4,138.9 L514.9,137.4 L515.4,138.9 L515.9,138.6 L516.4,139.4 L516.9,139.1 L517.4,136.9 L517.9,138.7 L518.4,138.5 L518.9,138.4 L519.4,139.1 L519.9,138.8 L520.4,138.4 L520.9,138.3 L521.4,138.1 L521.9,138.5 L522.4,138.2 L522.9,139.1 L523.4,138.3 L523.9,139 L524.4,138.6 L524.9,138 L525.4,138.8 L525.9,139.4 L526.4,139.1 L526.9,137.7 L527.4,139.4 L527.9,137.7 L528.4,137.5 L528.9,139.5 L529.4,139.2 L529.9,139.5 L530.4,137.7 L530.9,138.7 L531.4,139.2 L531.9,139.2 L532.4,138.6 L532.9,137.7 L533.4,137.7 L533.9,139 L534.4,139 L534.9,138.3 L535.4,138.7 L535.9,138.9 L536.4,139.4 L536.9,139.3 L537.4,136.9 L537.9,138.2 L538.4,139.1 L538.9,139.2 L539.4,138.7 L539.9,139.3 L540.4,138.6 L540.9,138.8 L541.4,139.5 L541.9,139.4 L542.4,139.4 L542.9,138.4 L543.4,139 L543.9,137.4 L544.4,139.3 L544.9,138.4 L545.4,138.7 L545.9,138.8 L546.4,138.9 L546.9,139 L547.4,138.6 L547.9,138.1 L548.4,138.9 L548.9,137.9 L549.4,137.8 L549.9,138.2 L550.4,139.2 L550.9,138.2 L551.4,138.8 L551.9,139 L552.4,137 L552.9,139.5 L553.4,139.2 L553.9,138.6 L554.4,138.6 L554.9,137.3 L555.4,139.4 L555.9,138.4 L556.4,138.9 L556.9,138.6 L557.4,139 L557.9,139.5 L558.4,139.3 L558.9,139.2 L559.4,139.5 L559.9,139 L560.4,139.4 L560.9,139.3 L561.4,138.6 L561.9,138.6 L562.4,139.3 L562.9,137.8 L563.4,139.1 L563.9,138.1 L564.4,139.1 L564.9,139.3 L565.4,139.4 L565.9,138.9 L566.4,138.7 L566.9,139 L567.4,138.2 L567.9,139 L568.4,139.4 L568.9,137.9 L569.4,139 L569.9,138.9 L570.4,137.3 L570.9,138.5 L571.4,137.5 L571.9,139.3 L572.4,138.7 L572.9,136.9 L573.4,138.5 L573.9,139.1 L574.4,137.9 L574.9,139.2 L575.4,139 L575.9,138.7 L576.4,136.6 L576.9,138.9 L577.4,139.2 L577.9,139.2 L578.4,138.2 L578.9,139.5 L579.4,139.1 L579.9,139.4 L580.4,138.8 L580.9,138.4 L581.4,139.1 L581.9,139.4 L582.4,139.2 L582.9,138.2 L583.4,137.6 L583.9,139.4 L584.4,138.5 L584.9,139 L585.4,137.4 L585.9,137.7 L586.4,139.1 L586.9,134.8 L587.4,139 L587.9,139.1 L588.4,139.4 L588.9,136.5 L589.4,138.8 L589.9,139 L590.4,138.9 L590.9,137.8 L591.4,139.4 L591.9,138.5 L592.4,137.2 L592.9,139.4 L593.4,139 L593.9,139.2 L594.4,136.2 L594.9,136.8 L595.4,139.3 L595.9,138.6 L596.4,137.9 L596.9,138.4 L597.4,138.6 L597.9,139.3 L598.4,139.1 L598.9,139.1 L599.4,137.7 L599.9,138.8 L600.4,138.2 L600.9,139.2 L601.4,139.2 L601.9,138.6 L602.4,139.2 L602.9,137.9 L603.4,139.5 L603.9,138.2 L604.4,137.4 L604.9,138.7 L605.4,139.3 L605.9,139.2 L606.4,137.1 L606.9,137.7 L607.4,136.5 L607.9,138.7 L608.4,138.3 L608.9,138.6 L609.4,139.3 L609.9,138.5 L610.4,139.1 L610.9,136.1 L611.4,139.2 L611.9,139.1 L612.4,139.2 L612.9,139 L613.4,137.2 L613.9,139.3 L614.4,138.7 L614.9,139.3 L615.4,138.6 L615.9,139.3 L616.4,139.3 L616.9,137.5 L617.4,139.2 L617.9,137.4 L618.4,139 L618.9,139.4 L619.4,136.9 L619.9,138.6 L620.4,138.3 L620.9,139.2 L621.4,138.7 L621.9,139.2 L622.4,134.7 L622.9,138.1 L623.4,138.5 L623.9,138.9 L624.4,139.5 L624.9,139.1 L625.4,138.5 L625.9,139.3 L626.4,138.2 L626.9,139.1 L627.4,138.5 L627.9,138 L628.4,138.1 L628.9,138.7 L629.4,139 L629.9,139.4 L630.4,138.9 L630.9,137.8 L631.4,138.8 L631.9,139 L632.4,139.1 L632.9,138.8 L633.4,136 L633.9,138.6 L634.4,138.6 L634.9,139.2 L635.4,137.8 L635.9,138.7 L636.4,138.3 L636.9,138.8 L637.4,135.3 L637.9,137.9 L638.4,139.3 L638.9,139.2 L639.4,139.4 L639.9,139 L640.4,139.4 L640.9,138.7 L641.4,139.4 L641.9,139.2 L642.4,138.9 L642.9,138.9 L643.4,139.3 L643.9,139.5 L644.4,139 L644.9,138.1 L645.4,139.5 L645.9,137.9 L646.4,138 L646.9,138.7 L647.4,137.4 L647.9,138.9 L648.4,139 L648.9,137.8 L649.4,138.4 L649.9,138 L650.4,138.3 L650.9,137.1 L651.4,138.5 L651.9,139 L652.4,139.1 L652.9,136.1 L653.4,138.4 L653.9,139.2 L654.4,139.1 L654.9,139.2 L655.4,138.9 L655.9,139.2 L656.4,137.4 L656.9,137.5 L657.4,138.8 L657.9,138.2 L658.4,138.5 L658.9,137.7 L659.4,136.7 L659.9,138.4 L660.4,139.4 L660.9,138.7 L661.4,138.7 L661.9,139.3 L662.4,139 L662.9,139.2 L663.4,138.8 L663.9,138.1 L664.4,139.4 L664.9,139.1 L665.4,139.4 L665.9,138.8 L666.4,137.9 L666.9,138.1 L667.4,137.8 L667.9,139.2 L668.4,139.5 L668.9,139.1 L669.4,139.2 L669.9,138.9 L670.4,138.7 L670.9,138.4 L671.4,139.3 L671.9,138.7 L672.4,138 L672.9,138.6 L673.4,137.8 L673.9,138.8 L674.4,139.2 L674.9,139 L675.4,138.1 L675.9,138.5 L676.4,138.7 L676.9,138.9 L677.4,138 L677.9,138.3 L678.4,139.3 L678.9,138 L678.9,144.9 L678.4,144.7 L677.9,145.4 L677.4,144.9 L676.9,146 L676.4,144.7 L675.9,147 L675.4,144.9 L674.9,145.9 L674.4,146.7 L673.9,144.7 L673.4,147.3 L672.9,145.2 L672.4,145.2 L671.9,146.4 L671.4,146.4 L670.9,144.7 L670.4,144.7 L669.9,145.2 L669.4,145 L668.9,145.2 L668.4,144.8 L667.9,144.8 L667.4,145.2 L666.9,147.9 L666.4,144.9 L665.9,145 L665.4,146.9 L664.9,145.3 L664.4,145.6 L663.9,146.3 L663.4,146 L662.9,144.7 L662.4,145.1 L661.9,145.3 L661.4,145 L660.9,146.1 L660.4,144.7 L659.9,144.7 L659.4,145.3 L658.9,144.9 L658.4,146 L657.9,146.3 L657.4,146.7 L656.9,144.8 L656.4,146.2 L655.9,145.3 L655.4,146.1 L654.9,145.7 L654.4,144.6 L653.9,146.6 L653.4,145.8 L652.9,144.9 L652.4,146.3 L651.9,145.1 L651.4,147.1 L650.9,145.4 L650.4,147 L649.9,145.7 L649.4,145.7 L648.9,145.9 L648.4,146.5 L647.9,145.7 L647.4,145.3 L646.9,146.5 L646.4,145.2 L645.9,146.7 L645.4,146.1 L644.9,148.1 L644.4,145.2 L643.9,145.4 L643.4,145.1 L642.9,146.7 L642.4,145.1 L641.9,145.4 L641.4,144.9 L640.9,145.5 L640.4,145.2 L639.9,146 L639.4,145.4 L638.9,144.7 L638.4,145.1 L637.9,145.1 L637.4,146.7 L636.9,145.3 L636.4,145.2 L635.9,145.5 L635.4,145.1 L634.9,145.1 L634.4,145.3 L633.9,144.8 L633.4,145.6 L632.9,145 L632.4,145.2 L631.9,144.6 L631.4,147.2 L630.9,145.3 L630.4,146 L629.9,145.3 L629.4,144.8 L628.9,146.2 L628.4,145.5 L627.9,144.9 L627.4,146 L626.9,146.7 L626.4,147 L625.9,145.1 L625.4,145 L624.9,145.4 L624.4,146 L623.9,144.9 L623.4,144.8 L622.9,145.3 L622.4,144.6 L621.9,145.6 L621.4,145.4 L620.9,145 L620.4,146.7 L619.9,145.6 L619.4,145.2 L618.9,145 L618.4,145.5 L617.9,146.1 L617.4,146.7 L616.9,144.8 L616.4,145.5 L615.9,145 L615.4,145.2 L614.9,144.8 L614.4,145.1 L613.9,145.3 L613.4,147.3 L612.9,147 L612.4,145.1 L611.9,145.7 L611.4,144.9 L610.9,145.3 L610.4,146.1 L609.9,144.8 L609.4,146.4 L608.9,144.8 L608.4,145.9 L607.9,146.7 L607.4,144.7 L606.9,144.6 L606.4,145.7 L605.9,146.7 L605.4,146.3 L604.9,146 L604.4,144.9 L603.9,144.8 L603.4,145.6 L602.9,144.9 L602.4,145.5 L601.9,144.9 L601.4,145.6 L600.9,145.3 L600.4,145.8 L599.9,144.7 L599.4,144.8 L598.9,144.7 L598.4,145.2 L597.9,144.8 L597.4,146.2 L596.9,145.1 L596.4,144.9 L595.9,145.5 L595.4,145.6 L594.9,146.4 L594.4,147 L593.9,144.8 L593.4,145.1 L592.9,144.6 L592.4,145.9 L591.9,147.2 L591.4,144.7 L590.9,145 L590.4,147.2 L589.9,144.6 L589.4,145.4 L588.9,145 L588.4,144.9 L587.9,146.6 L587.4,144.9 L586.9,146.3 L586.4,145.1 L585.9,145.6 L585.4,144.8 L584.9,145.2 L584.4,147.7 L583.9,145.7 L583.4,145.8 L582.9,146.8 L582.4,145.7 L581.9,145.3 L581.4,145.1 L580.9,145 L580.4,145.4 L579.9,144.7 L579.4,147.3 L578.9,145.4 L578.4,144.9 L577.9,145.1 L577.4,144.6 L576.9,145 L576.4,145 L575.9,146.1 L575.4,145.7 L574.9,144.8 L574.4,145.8 L573.9,145.3 L573.4,145.1 L572.9,146 L572.4,144.9 L571.9,144.9 L571.4,144.7 L570.9,144.7 L570.4,144.9 L569.9,146.2 L569.4,145.2 L568.9,145.2 L568.4,145.9 L567.9,144.8 L567.4,144.6 L566.9,145.4 L566.4,145 L565.9,144.7 L565.4,144.9 L564.9,144.7 L564.4,145 L563.9,145.7 L563.4,145.6 L562.9,145.1 L562.4,147 L561.9,146 L561.4,145.5 L560.9,145.4 L560.4,146.6 L559.9,145 L559.4,145.1 L558.9,144.8 L558.4,145.9 L557.9,145 L557.4,145 L556.9,145.5 L556.4,144.7 L555.9,144.9 L555.4,144.9 L554.9,145 L554.4,145 L553.9,146.2 L553.4,146 L552.9,144.7 L552.4,145.5 L551.9,145.3 L551.4,146 L550.9,146 L550.4,145.2 L549.9,146.5 L549.4,144.9 L548.9,146.3 L548.4,144.9 L547.9,145.4 L547.4,145.1 L546.9,146.1 L546.4,146.2 L545.9,145.9 L545.4,145.6 L544.9,144.7 L544.4,145.1 L543.9,144.8 L543.4,146.3 L542.9,145.1 L542.4,148.4 L541.9,145 L541.4,145 L540.9,144.8 L540.4,146.1 L539.9,145.3 L539.4,144.8 L538.9,144.7 L538.4,145.1 L537.9,145.4 L537.4,145.2 L536.9,145.6 L536.4,145 L535.9,145.9 L535.4,145 L534.9,144.7 L534.4,145.2 L533.9,144.8 L533.4,146.4 L532.9,145.3 L532.4,145.9 L531.9,145.4 L531.4,144.8 L530.9,144.7 L530.4,144.8 L529.9,145.6 L529.4,145.4 L528.9,144.9 L528.4,145.3 L527.9,145.9 L527.4,145.5 L526.9,145.4 L526.4,145 L525.9,146 L525.4,145.7 L524.9,146.6 L524.4,145.6 L523.9,145.3 L523.4,145.5 L522.9,145.4 L522.4,145.1 L521.9,145.3 L521.4,146.6 L520.9,144.7 L520.4,145.1 L519.9,145.4 L519.4,144.8 L518.9,144.6 L518.4,145.4 L517.9,145.2 L517.4,144.6 L516.9,144.9 L516.4,146.2 L515.9,145.8 L515.4,145.1 L514.9,145.4 L514.4,147.5 L513.9,144.7 L513.4,145.3 L512.9,146.1 L512.4,145.3 L511.9,145 L511.4,144.9 L510.9,144.9 L510.4,145.2 L509.9,144.8 L509.4,144.9 L508.9,145.5 L508.4,145.2 L507.9,148.2 L507.4,145.5 L506.9,145.3 L506.4,145.6 L505.9,145.1 L505.4,145.8 L504.9,144.8 L504.4,146.4 L503.9,144.6 L503.4,145.4 L502.9,146.4 L502.4,144.6 L501.9,146.3 L501.4,144.6 L500.9,144.9 L500.4,145.8 L499.9,145.3 L499.4,146.2 L498.9,145.6 L498.4,145.5 L497.9,144.8 L497.4,146.9 L496.9,145.2 L496.4,148.9 L495.9,145.3 L495.4,145.8 L494.9,145.6 L494.4,145.9 L493.9,146.9 L493.4,147.1 L492.9,145.1 L492.4,145.4 L491.9,146.9 L491.4,145.8 L490.9,145.3 L490.4,146.5 L489.9,145.2 L489.4,145.3 L488.9,144.9 L488.4,145.6 L487.9,145.2 L487.4,145.2 L486.9,144.8 L486.4,146 L485.9,145.4 L485.4,145.5 L484.9,144.7 L484.4,146.2 L483.9,146.6 L483.4,146.5 L482.9,147.4 L482.4,146.9 L481.9,145.1 L481.4,146.4 L480.9,147.6 L480.4,145.7 L479.9,145.6 L479.4,146.1 L478.9,144.7 L478.4,145.7 L477.9,145.1 L477.4,144.7 L476.9,144.6 L476.4,144.8 L475.9,144.7 L475.4,144.7 L474.9,147.2 L474.4,146.2 L473.9,144.8 L473.4,145.2 L472.9,145.3 L472.4,144.6 L471.9,146.1 L471.4,145.4 L470.9,144.6 L470.4,145.2 L469.9,145.4 L469.4,144.8 L468.9,146.7 L468.4,146.4 L467.9,144.9 L467.4,146.8 L466.9,145.1 L466.4,144.9 L465.9,146.4 L465.4,145.6 L464.9,144.9 L464.4,144.7 L463.9,145.3 L463.4,145.2 L462.9,144.6 L462.4,145.2 L461.9,144.8 L461.4,147.1 L460.9,145.9 L460.4,145.1 L459.9,145.3 L459.4,146.2 L458.9,146.1 L458.4,144.7 L457.9,145 L457.4,144.8 L456.9,146.7 L456.4,145.2 L455.9,145.9 L455.4,146.1 L454.9,145.3 L454.4,145.7 L453.9,145.6 L453.4,145.9 L452.9,145.2 L452.4,145.2 L451.9,145.1 L451.4,145.1 L450.9,145.5 L450.4,145.3 L449.9,145.7 L449.4,145.4 L448.9,145.2 L448.4,145.5 L447.9,145.3 L447.4,145.7 L446.9,147.4 L446.4,145.8 L445.9,145.3 L445.4,146.2 L444.9,144.7 L444.4,144.9 L443.9,146.1 L443.4,145.8 L442.9,148.2 L442.4,147.6 L441.9,146.6 L441.4,146 L440.9,146.5 L440.4,145.7 L439.9,145.5 L439.4,144.7 L438.9,145.8 L438.4,146.4 L437.9,145.1 L437.4,144.7 L436.9,145.4 L436.4,145.9 L435.9,145.2 L435.4,146.8 L434.9,145 L434.4,147.7 L433.9,146.4 L433.4,145.9 L432.9,144.8 L432.4,145.3 L431.9,146.2 L431.4,144.9 L430.9,144.7 L430.4,146.5 L429.9,145.3 L429.4,146.5 L428.9,144.6 L428.4,145.1 L427.9,145 L427.4,144.7 L426.9,147.2 L426.4,144.6 L425.9,144.6 L425.4,144.7 L424.9,144.6 L424.4,147 L423.9,145.3 L423.4,144.9 L422.9,144.7 L422.4,145.7 L421.9,145.4 L421.4,145.6 L420.9,145.3 L420.4,145.5 L419.9,144.7 L419.4,145.5 L418.9,147.4 L418.4,145.8 L417.9,145.9 L417.4,144.8 L416.9,145.2 L416.4,147.1 L415.9,145.4 L415.4,145.4 L414.9,145 L414.4,146 L413.9,144.6 L413.4,146.3 L412.9,145 L412.4,146.5 L411.9,145.7 L411.4,146.6 L410.9,145 L410.4,145.5 L409.9,146.1 L409.4,145.1 L408.9,144.7 L408.4,145.3 L407.9,145.3 L407.4,144.7 L406.9,144.7 L406.4,144.9 L405.9,144.8 L405.4,144.7 L404.9,144.9 L404.4,148 L403.9,144.9 L403.4,146.7 L402.9,147 L402.4,144.8 L401.9,145.2 L401.4,146.6 L400.9,144.8 L400.4,145.4 L399.9,144.7 L399.4,144.8 L398.9,145.3 L398.4,144.9 L397.9,144.8 L397.4,146.3 L396.9,145.3 L396.4,147.1 L395.9,145.1 L395.4,144.9 L394.9,145.6 L394.4,145 L393.9,146.5 L393.4,145.1 L392.9,144.7 L392.4,144.8 L391.9,145.7 L391.4,146.2 L390.9,144.6 L390.4,145.7 L389.9,144.6 L389.4,145.3 L388.9,146.4 L388.4,144.6 L387.9,145.6 L387.4,145.5 L386.9,144.8 L386.4,144.9 L385.9,144.7 L385.4,144.9 L384.9,145.2 L384.4,144.8 L383.9,145.3 L383.4,144.9 L382.9,144.6 L382.4,145.8 L381.9,146 L381.4,144.7 L380.9,145.5 L380.4,146.8 L379.9,146.1 L379.4,144.7 L378.9,145.7 L378.4,145.5 L377.9,147.1 L377.4,145.3 L376.9,145.2 L376.4,145.1 L375.9,147.2 L375.4,145.6 L374.9,145.9 L374.4,144.6 L373.9,144.8 L373.4,145.1 L372.9,145.4 L372.4,145.6 L371.9,145.3 L371.4,145.6 L370.9,145.1 L370.4,145.4 L369.9,146 L369.4,145.5 L368.9,147 L368.4,145.9 L367.9,144.9 L367.4,145.5 L366.9,144.9 L366.4,145.4 L365.9,145.8 L365.4,145.2 L364.9,145.6 L364.4,146.7 L363.9,145.7 L363.4,145.6 L362.9,145.2 L362.4,144.9 L361.9,144.8 L361.4,145 L360.9,144.8 L360.4,145.7 L359.9,146.1 L359.4,145.2 L358.9,145.7 L358.4,144.7 L357.9,146.1 L357.4,145.2 L356.9,145.6 L356.4,144.7 L355.9,145.1 L355.4,144.8 L354.9,145.5 L354.4,145.2 L353.9,146 L353.4,145.9 L352.9,144.9 L352.4,145.5 L351.9,147.1 L351.4,146.2 L350.9,145.2 L350.4,145.1 L349.9,146.8 L349.4,147.1 L348.9,148.5 L348.4,145.2 L347.9,145.5 L347.4,145.4 L346.9,146.1 L346.4,145.6 L345.9,146.3 L345.4,145 L344.9,145.1 L344.4,145.5 L343.9,145.7 L343.4,145.1 Z" fill="#4a4a4a"/>
<line x1="406.9" y1="142" x2="406.9" y2="131.4" stroke="#444" stroke-width="1.3"/>
<line x1="414.3" y1="142" x2="414.3" y2="126" stroke="#444" stroke-width="1.3"/>
<line x1="421.8" y1="142" x2="421.8" y2="120.8" stroke="#444" stroke-width="1.3"/>
<line x1="429.3" y1="142" x2="429.3" y2="115.3" stroke="#444" stroke-width="1.3"/>
<line x1="436.7" y1="142" x2="436.7" y2="112.4" stroke="#444" stroke-width="1.3"/>
<line x1="444.2" y1="142" x2="444.2" y2="105.2" stroke="#444" stroke-width="1.3"/>
<line x1="451.6" y1="142" x2="451.6" y2="83.1" stroke="#444" stroke-width="1.3"/>
<line x1="459.1" y1="142" x2="459.1" y2="40.8" stroke="#444" stroke-width="1.3"/>
<line x1="466.6" y1="142" x2="466.6" y2="21" stroke="#444" stroke-width="1.3"/>
<line x1="474" y1="142" x2="474" y2="37.9" stroke="#444" stroke-width="1.3"/>
<line x1="481.5" y1="142" x2="481.5" y2="42.7" stroke="#444" stroke-width="1.3"/>
<line x1="488.9" y1="142" x2="488.9" y2="62.9" stroke="#444" stroke-width="1.3"/>
<line x1="496.4" y1="142" x2="496.4" y2="72.4" stroke="#444" stroke-width="1.3"/>
<line x1="503.8" y1="142" x2="503.8" y2="68" stroke="#444" stroke-width="1.3"/>
<line x1="511.3" y1="142" x2="511.3" y2="56.1" stroke="#444" stroke-width="1.3"/>
<line x1="518.8" y1="142" x2="518.8" y2="69.5" stroke="#444" stroke-width="1.3"/>
<line x1="526.2" y1="142" x2="526.2" y2="68.9" stroke="#444" stroke-width="1.3"/>
<line x1="533.7" y1="142" x2="533.7" y2="62.9" stroke="#444" stroke-width="1.3"/>
<line x1="541.1" y1="142" x2="541.1" y2="37.5" stroke="#444" stroke-width="1.3"/>
<line x1="548.6" y1="142" x2="548.6" y2="32.8" stroke="#444" stroke-width="1.3"/>
<line x1="556" y1="142" x2="556" y2="17.7" stroke="#444" stroke-width="1.3"/>
<line x1="563.5" y1="142" x2="563.5" y2="49.6" stroke="#444" stroke-width="1.3"/>
<line x1="571" y1="142" x2="571" y2="88.7" stroke="#444" stroke-width="1.3"/>
<line x1="578.4" y1="142" x2="578.4" y2="111.2" stroke="#444" stroke-width="1.3"/>
<line x1="585.9" y1="142" x2="585.9" y2="115.3" stroke="#444" stroke-width="1.3"/>
<line x1="593.3" y1="142" x2="593.3" y2="117" stroke="#444" stroke-width="1.3"/>
<line x1="600.8" y1="142" x2="600.8" y2="122.5" stroke="#444" stroke-width="1.3"/>
<line x1="608.3" y1="142" x2="608.3" y2="130.8" stroke="#444" stroke-width="1.3"/>
<line x1="615.7" y1="142" x2="615.7" y2="131.4" stroke="#444" stroke-width="1.3"/>
<line x1="343.4" y1="159" x2="679" y2="159" stroke="#222" stroke-width="1.5"/>
<line x1="362.1" y1="152" x2="362.1" y2="159" stroke="#222" stroke-width="1.5"/>
<text x="362.1" y="178" font-family="Liberation Sans, Arial, sans-serif" font-size="14.8" text-anchor="middle" fill="#222">200</text>
<line x1="436.7" y1="152" x2="436.7" y2="159" stroke="#222" stroke-width="1.5"/>
<text x="436.7" y="178" font-family="Liberation Sans, Arial, sans-serif" font-size="14.8" text-anchor="middle" fill="#222">100</text>
<line x1="511.3" y1="152" x2="511.3" y2="159" stroke="#222" stroke-width="1.5"/>
<text x="511.3" y="178" font-family="Liberation Sans, Arial, sans-serif" font-size="14.8" text-anchor="middle" fill="#222">0</text>
<line x1="585.9" y1="152" x2="585.9" y2="159" stroke="#222" stroke-width="1.5"/>
<text x="585.9" y="178" font-family="Liberation Sans, Arial, sans-serif" font-size="14.8" text-anchor="middle" fill="#222">-100</text>
<line x1="660.5" y1="152" x2="660.5" y2="159" stroke="#222" stroke-width="1.5"/>
<text x="660.5" y="178" font-family="Liberation Sans, Arial, sans-serif" font-size="14.8" text-anchor="middle" fill="#222">-200</text>
<line x1="399.4" y1="155.5" x2="399.4" y2="159" stroke="#222" stroke-width="1.5"/>
<line x1="474" y1="155.5" x2="474" y2="159" stroke="#222" stroke-width="1.5"/>
<line x1="548.6" y1="155.5" x2="548.6" y2="159" stroke="#222" stroke-width="1.5"/>
<line x1="623.2" y1="155.5" x2="623.2" y2="159" stroke="#222" stroke-width="1.5"/>
<text x="511.5" y="200.7" font-family="Liberation Sans, Arial, sans-serif" font-size="17.5" text-anchor="middle" fill="#222">kHz</text>
<rect x="505.8" y="51.8" width="18.2" height="97.8" fill="none" stroke="#f52a2a" stroke-width="1.6" stroke-dasharray="3.5,2"/>
<line x1="507.5" y1="150.2" x2="450" y2="195" stroke="#111" stroke-width="1.5"/>
<path d="M444.1,199.3 L455.8,183.9 L452.5,192.5 L462.9,190.7 Z" fill="#111"/>
<path d="M341.5,378.3 L341.5,377.9 342,377.9 342.5,377.9 343,377.9 343.5,377.9 344,377.9 344.5,377.9 345,377.9 345.5,377.8 346,377.8 346.5,377.8 347,377.8 347.5,377.8 348,377.8 348.5,377.8 349,377.8 349.5,377.8 350,377.8 350.5,377.8 351,377.8 351.5,377.8 352,377.8 352.5,377.7 353,377.7 353.5,377.7 354,377.7 354.5,377.7 355,377.7 355.5,377.7 356,377.7 356.5,377.7 357,377.7 357.5,377.7 358,377.6 358.5,377.6 359,377.6 359.5,377.6 360,377.6 360.5,377.6 361,377.6 361.5,377.6 362,377.5 362.5,377.5 363,377.5 363.5,377.5 364,377.5 364.5,377.5 365,377.5 365.5,377.4 366,377.4 366.5,377.4 367,377.4 367.5,377.4 368,377.4 368.5,377.3 369,377.3 369.5,377.3 370,377.3 370.5,377.3 371,377.2 371.5,377.2 372,377.2 372.5,377.2 373,377.2 373.5,377.1 374,377.1 374.5,377.1 375,377 375.5,377 376,377 376.5,377 377,376.9 377.5,376.9 378,376.9 378.5,376.8 379,376.8 379.5,376.8 380,376.7 380.5,376.7 381,376.6 381.5,376.6 382,376.5 382.5,376.5 383,376.4 383.5,376.4 384,376.3 384.5,376.3 385,376.2 385.5,376.2 386,376.1 386.5,376 387,376 387.5,375.9 388,375.8 388.5,375.8 389,375.7 389.5,375.6 390,375.5 390.5,375.4 391,375.3 391.5,375.2 392,375.1 392.5,375 393,374.8 393.5,374.7 394,374.6 394.5,374.4 395,374.3 395.5,374.1 396,374 396.5,373.8 397,373.6 397.5,373.4 398,373.2 398.5,372.9 399,372.7 399.5,372.4 400,372.2 400.5,371.9 401,371.5 401.5,371.2 402,370.8 402.5,370.4 403,370 403.5,369.6 404,369.1 404.5,368.5 405,367.9 405.5,367.3 406,366.6 406.5,365.9 407,365.1 407.5,364.2 408,363.2 408.5,362.2 409,361 409.5,359.7 410,358.4 410.5,356.9 411,355.2 411.5,353.4 412,351.5 412.5,349.4 413,347.1 413.5,344.7 414,342.1 414.5,339.4 415,336.6 415.5,333.8 416,331.1 416.5,328.5 417,326.1 417.5,324.1 418,322.6 418.5,321.6 419,321.3 419.5,321.6 420,322.6 420.5,324.1 421,326.1 421.5,328.5 422,331.1 422.5,333.8 423,336.6 423.5,339.4 424,342.1 424.5,344.7 425,347.1 425.5,349.4 426,351.5 426.5,353.4 427,355.2 427.5,356.9 428,358.4 428.5,359.7 429,361 429.5,362.2 430,363.2 430.5,364.2 431,365.1 431.5,365.9 432,366.6 432.5,367.3 433,367.9 433.5,368.5 434,369.1 434.5,369.6 435,370 435.5,370.4 436,370.8 436.5,371.2 437,371.5 437.5,371.9 438,372.2 438.5,372.4 439,372.7 439.5,372.9 440,373.2 440.5,373.4 441,373.6 441.5,373.8 442,374 442.5,374.1 443,374.3 443.5,374.4 444,374.6 444.5,374.7 445,374.8 445.5,375 446,375.1 446.5,375.2 447,375.3 447.5,375.4 448,375.5 448.5,375.6 449,375.7 449.5,375.8 450,375.8 450.5,375.9 451,376 451.5,376 452,376.1 452.5,376.2 453,376.2 453.5,376.3 454,376.3 454.5,376.4 455,376.4 455.5,376.5 456,376.5 456.5,376.6 457,376.6 457.5,376.7 458,376.7 458.5,376.8 459,376.8 459.5,376.8 460,376.9 460.5,376.9 461,376.9 461.5,377 462,377 462.5,377 463,377 463.5,377.1 464,377.1 464.5,377.1 465,377.2 465.5,377.2 466,377.2 466.5,377.2 467,377.2 467.5,377.3 468,377.3 468.5,377.3 469,377.3 469.5,377.3 470,377.4 470.5,377.4 471,377.4 471.5,377.4 472,377.4 472.5,377.4 473,377.5 473.5,377.5 474,377.5 474.5,377.5 475,377.5 475.5,377.5 476,377.5 476.5,377.6 477,377.6 477.5,377.6 478,377.6 478.5,377.6 479,377.6 479.5,377.6 480,377.6 480.5,377.7 481,377.7 481.5,377.7 482,377.7 482.5,377.7 483,377.7 483.5,377.7 484,377.7 484.5,377.7 485,377.7 485.5,377.7 486,377.8 486.5,377.8 487,377.8 487.5,377.8 488,377.8 488.5,377.8 489,377.8 489.5,377.8 490,377.8 490.5,377.8 491,377.8 491.5,377.8 492,377.8 492.5,377.8 493,377.9 493.5,377.9 494,377.9 494.5,377.9 495,377.9 495.5,377.9 496,377.9 496.5,377.9 497,377.9 497.5,377.9 498,377.9 498.5,377.9 499,377.9 499.5,377.9 500,377.9 500.5,377.9 501,377.9 501.5,377.9 502,377.9 502.5,377.9 503,378 503.5,378 504,378 504.5,378 505,378 L505,378.3 Z" fill="#c4dcf2" fill-opacity="0.85"/>
<path d="M341.5,378.3 L341.5,378.3 342,378.3 342.5,378.3 343,378.3 343.5,378.3 344,378.3 344.5,378.3 345,378.3 345.5,378.3 346,378.3 346.5,378.3 347,378.3 347.5,378.3 348,378.3 348.5,378.3 349,378.3 349.5,378.3 350,378.3 350.5,378.3 351,378.3 351.5,378.3 352,378.3 352.5,378.3 353,378.3 353.5,378.3 354,378.3 354.5,378.3 355,378.3 355.5,378.3 356,378.3 356.5,378.3 357,378.3 357.5,378.3 358,378.3 358.5,378.3 359,378.3 359.5,378.3 360,378.3 360.5,378.3 361,378.3 361.5,378.3 362,378.3 362.5,378.3 363,378.3 363.5,378.3 364,378.3 364.5,378.3 365,378.3 365.5,378.3 366,378.3 366.5,378.3 367,378.3 367.5,378.3 368,378.3 368.5,378.3 369,378.3 369.5,378.3 370,378.3 370.5,378.3 371,378.3 371.5,378.3 372,378.3 372.5,378.3 373,378.3 373.5,378.3 374,378.3 374.5,378.3 375,378.3 375.5,378.3 376,378.3 376.5,378.3 377,378.2 377.5,378.2 378,378.2 378.5,378.2 379,378.2 379.5,378.2 380,378.2 380.5,378.2 381,378.2 381.5,378.2 382,378.2 382.5,378.2 383,378.2 383.5,378.2 384,378.2 384.5,378.2 385,378.2 385.5,378.2 386,378.2 386.5,378.2 387,378.2 387.5,378.2 388,378.2 388.5,378.2 389,378.2 389.5,378.2 390,378.2 390.5,378.2 391,378.2 391.5,378.2 392,378.2 392.5,378.2 393,378.2 393.5,378.2 394,378.2 394.5,378.2 395,378.2 395.5,378.2 396,378.2 396.5,378.2 397,378.2 397.5,378.2 398,378.2 398.5,378.2 399,378.2 399.5,378.2 400,378.2 400.5,378.2 401,378.2 401.5,378.2 402,378.2 402.5,378.2 403,378.2 403.5,378.1 404,378.1 404.5,378.1 405,378.1 405.5,378.1 406,378.1 406.5,378.1 407,378.1 407.5,378.1 408,378.1 408.5,378.1 409,378.1 409.5,378.1 410,378.1 410.5,378.1 411,378.1 411.5,378 412,378 412.5,378 413,378 413.5,378 414,378 414.5,378 415,378 415.5,378 416,377.9 416.5,377.9 417,377.9 417.5,377.9 418,377.9 418.5,377.8 419,377.8 419.5,377.8 420,377.8 420.5,377.7 421,377.7 421.5,377.7 422,377.6 422.5,377.6 423,377.6 423.5,377.5 424,377.5 424.5,377.4 425,377.3 425.5,377.2 426,377.1 426.5,377 427,376.8 427.5,376.5 428,376.2 428.5,375.6 429,374.8 429.5,373.7 430,372.2 430.5,370 431,367.1 431.5,363.2 432,358.1 432.5,351.6 433,343.6 433.5,334 434,322.8 434.5,310.1 435,296 435.5,281.2 436,265.9 436.5,251 437,237.2 437.5,225.3 438,216.2 438.5,210.7 439,209.4 439.5,212.4 440,219.4 440.5,229.7 441,242.5 441.5,256.9 442,272 442.5,287.2 443,301.8 443.5,315.3 444,327.5 444.5,338.1 445,347 445.5,354.4 446,360.3 446.5,364.9 447,368.4 447.5,371 448,372.9 448.5,374.2 449,375.2 449.5,375.9 450,376.3 450.5,376.6 451,376.9 451.5,377 452,377.2 452.5,377.3 453,377.4 453.5,377.4 454,377.5 454.5,377.5 455,377.6 455.5,377.6 456,377.7 456.5,377.7 457,377.7 457.5,377.8 458,377.8 458.5,377.8 459,377.8 459.5,377.9 460,377.9 460.5,377.9 461,377.9 461.5,377.9 462,377.9 462.5,378 463,378 463.5,378 464,378 464.5,378 465,378 465.5,378 466,378 466.5,378 467,378.1 467.5,378.1 468,378.1 468.5,378.1 469,378.1 469.5,378.1 470,378.1 470.5,378.1 471,378.1 471.5,378.1 472,378.1 472.5,378.1 473,378.1 473.5,378.1 474,378.1 474.5,378.1 475,378.2 475.5,378.2 476,378.2 476.5,378.2 477,378.2 477.5,378.2 478,378.2 478.5,378.2 479,378.2 479.5,378.2 480,378.2 480.5,378.2 481,378.2 481.5,378.2 482,378.2 482.5,378.2 483,378.2 483.5,378.2 484,378.2 484.5,378.2 485,378.2 485.5,378.2 486,378.2 486.5,378.2 487,378.2 487.5,378.2 488,378.2 488.5,378.2 489,378.2 489.5,378.2 490,378.2 490.5,378.2 491,378.2 491.5,378.2 492,378.2 492.5,378.2 493,378.2 493.5,378.2 494,378.2 494.5,378.2 495,378.2 495.5,378.2 496,378.2 496.5,378.2 497,378.2 497.5,378.2 498,378.2 498.5,378.2 499,378.2 499.5,378.2 500,378.2 500.5,378.2 501,378.2 501.5,378.3 502,378.3 502.5,378.3 503,378.3 503.5,378.3 504,378.3 504.5,378.3 505,378.3 L505,378.3 Z" fill="#f3c39c" fill-opacity="0.85"/>
<path d="M341.5,378.3 L341.5,378.2 342,378.2 342.5,378.2 343,378.2 343.5,378.2 344,378.2 344.5,378.2 345,378.2 345.5,378.2 346,378.2 346.5,378.2 347,378.2 347.5,378.2 348,378.2 348.5,378.2 349,378.2 349.5,378.2 350,378.2 350.5,378.2 351,378.2 351.5,378.2 352,378.2 352.5,378.2 353,378.2 353.5,378.2 354,378.2 354.5,378.2 355,378.2 355.5,378.2 356,378.2 356.5,378.2 357,378.2 357.5,378.1 358,378.1 358.5,378.1 359,378.1 359.5,378.1 360,378.1 360.5,378.1 361,378.1 361.5,378.1 362,378.1 362.5,378.1 363,378.1 363.5,378.1 364,378.1 364.5,378.1 365,378.1 365.5,378.1 366,378.1 366.5,378.1 367,378.1 367.5,378.1 368,378.1 368.5,378.1 369,378.1 369.5,378.1 370,378.1 370.5,378.1 371,378.1 371.5,378.1 372,378 372.5,378 373,378 373.5,378 374,378 374.5,378 375,378 375.5,378 376,378 376.5,378 377,378 377.5,378 378,378 378.5,378 379,378 379.5,378 380,377.9 380.5,377.9 381,377.9 381.5,377.9 382,377.9 382.5,377.9 383,377.9 383.5,377.9 384,377.9 384.5,377.9 385,377.8 385.5,377.8 386,377.8 386.5,377.8 387,377.8 387.5,377.8 388,377.8 388.5,377.7 389,377.7 389.5,377.7 390,377.7 390.5,377.7 391,377.7 391.5,377.6 392,377.6 392.5,377.6 393,377.6 393.5,377.5 394,377.5 394.5,377.5 395,377.5 395.5,377.4 396,377.4 396.5,377.4 397,377.3 397.5,377.3 398,377.2 398.5,377.2 399,377.1 399.5,377.1 400,377 400.5,377 401,376.9 401.5,376.9 402,376.8 402.5,376.7 403,376.6 403.5,376.5 404,376.5 404.5,376.4 405,376.2 405.5,376.1 406,376 406.5,375.9 407,375.7 407.5,375.5 408,375.4 408.5,375.2 409,375 409.5,374.7 410,374.5 410.5,374.2 411,373.8 411.5,373.5 412,373.1 412.5,372.6 413,372.1 413.5,371.6 414,371 414.5,370.3 415,369.5 415.5,368.6 416,367.7 416.5,366.6 417,365.4 417.5,364.1 418,362.8 418.5,361.3 419,359.9 419.5,358.5 420,357.3 420.5,356.3 421,355.6 421.5,355.3 422,355.4 422.5,356 423,356.9 423.5,358 424,359.3 424.5,360.8 425,362.2 425.5,363.6 426,364.9 426.5,366.1 427,367.2 427.5,368.2 428,369.2 428.5,370 429,370.7 429.5,371.3 430,371.9 430.5,372.4 431,372.9 431.5,373.3 432,373.7 432.5,374 433,374.3 433.5,374.6 434,374.9 434.5,375.1 435,375.3 435.5,375.5 436,375.6 436.5,375.8 437,375.9 437.5,376.1 438,376.2 438.5,376.3 439,376.4 439.5,376.5 440,376.6 440.5,376.7 441,376.8 441.5,376.8 442,376.9 442.5,377 443,377 443.5,377.1 444,377.1 444.5,377.2 445,377.2 445.5,377.3 446,377.3 446.5,377.3 447,377.4 447.5,377.4 448,377.4 448.5,377.5 449,377.5 449.5,377.5 450,377.6 450.5,377.6 451,377.6 451.5,377.6 452,377.6 452.5,377.7 453,377.7 453.5,377.7 454,377.7 454.5,377.7 455,377.8 455.5,377.8 456,377.8 456.5,377.8 457,377.8 457.5,377.8 458,377.8 458.5,377.9 459,377.9 459.5,377.9 460,377.9 460.5,377.9 461,377.9 461.5,377.9 462,377.9 462.5,377.9 463,377.9 463.5,378 464,378 464.5,378 465,378 465.5,378 466,378 466.5,378 467,378 467.5,378 468,378 468.5,378 469,378 469.5,378 470,378 470.5,378 471,378 471.5,378.1 472,378.1 472.5,378.1 473,378.1 473.5,378.1 474,378.1 474.5,378.1 475,378.1 475.5,378.1 476,378.1 476.5,378.1 477,378.1 477.5,378.1 478,378.1 478.5,378.1 479,378.1 479.5,378.1 480,378.1 480.5,378.1 481,378.1 481.5,378.1 482,378.1 482.5,378.1 483,378.1 483.5,378.1 484,378.1 484.5,378.1 485,378.1 485.5,378.1 486,378.2 486.5,378.2 487,378.2 487.5,378.2 488,378.2 488.5,378.2 489,378.2 489.5,378.2 490,378.2 490.5,378.2 491,378.2 491.5,378.2 492,378.2 492.5,378.2 493,378.2 493.5,378.2 494,378.2 494.5,378.2 495,378.2 495.5,378.2 496,378.2 496.5,378.2 497,378.2 497.5,378.2 498,378.2 498.5,378.2 499,378.2 499.5,378.2 500,378.2 500.5,378.2 501,378.2 501.5,378.2 502,378.2 502.5,378.2 503,378.2 503.5,378.2 504,378.2 504.5,378.2 505,378.2 L505,378.3 Z" fill="#a6d57f" fill-opacity="0.7"/>
<path d="M518,378.3 L518,377.8 518.5,377.8 519,377.8 519.5,377.8 520,377.8 520.5,377.7 521,377.7 521.5,377.7 522,377.7 522.5,377.7 523,377.7 523.5,377.7 524,377.7 524.5,377.7 525,377.7 525.5,377.7 526,377.7 526.5,377.6 527,377.6 527.5,377.6 528,377.6 528.5,377.6 529,377.6 529.5,377.6 530,377.6 530.5,377.6 531,377.5 531.5,377.5 532,377.5 532.5,377.5 533,377.5 533.5,377.5 534,377.5 534.5,377.4 535,377.4 535.5,377.4 536,377.4 536.5,377.4 537,377.4 537.5,377.4 538,377.3 538.5,377.3 539,377.3 539.5,377.3 540,377.3 540.5,377.2 541,377.2 541.5,377.2 542,377.2 542.5,377.2 543,377.1 543.5,377.1 544,377.1 544.5,377.1 545,377 545.5,377 546,377 546.5,376.9 547,376.9 547.5,376.9 548,376.9 548.5,376.8 549,376.8 549.5,376.8 550,376.7 550.5,376.7 551,376.6 551.5,376.6 552,376.6 552.5,376.5 553,376.5 553.5,376.4 554,376.4 554.5,376.3 555,376.3 555.5,376.2 556,376.2 556.5,376.1 557,376 557.5,376 558,375.9 558.5,375.8 559,375.8 559.5,375.7 560,375.6 560.5,375.5 561,375.5 561.5,375.4 562,375.3 562.5,375.2 563,375.1 563.5,375 564,374.8 564.5,374.7 565,374.6 565.5,374.5 566,374.3 566.5,374.2 567,374 567.5,373.9 568,373.7 568.5,373.5 569,373.3 569.5,373.1 570,372.9 570.5,372.7 571,372.4 571.5,372.2 572,371.9 572.5,371.6 573,371.3 573.5,371 574,370.6 574.5,370.2 575,369.8 575.5,369.4 576,368.9 576.5,368.4 577,367.9 577.5,367.3 578,366.6 578.5,366 579,365.2 579.5,364.4 580,363.6 580.5,362.7 581,361.7 581.5,360.6 582,359.4 582.5,358.2 583,356.8 583.5,355.4 584,353.8 584.5,352.1 585,350.4 585.5,348.5 586,346.5 586.5,344.5 587,342.4 587.5,340.3 588,338.3 588.5,336.3 589,334.4 589.5,332.8 590,331.4 590.5,330.3 591,329.6 591.5,329.3 592,329.4 592.5,330 593,330.9 593.5,332.2 594,333.7 594.5,335.5 595,337.5 595.5,339.5 596,341.6 596.5,343.7 597,345.7 597.5,347.7 598,349.6 598.5,351.4 599,353.1 599.5,354.7 600,356.2 600.5,357.6 601,358.9 601.5,360.1 602,361.2 602.5,362.3 603,363.2 603.5,364.1 604,364.9 604.5,365.7 605,366.4 605.5,367 606,367.6 606.5,368.2 607,368.7 607.5,369.2 608,369.6 608.5,370.1 609,370.4 609.5,370.8 610,371.2 610.5,371.5 611,371.8 611.5,372.1 612,372.3 612.5,372.6 613,372.8 613.5,373 614,373.2 614.5,373.4 615,373.6 615.5,373.8 616,374 616.5,374.1 617,374.3 617.5,374.4 618,374.5 618.5,374.7 619,374.8 619.5,374.9 620,375 620.5,375.1 621,375.2 621.5,375.3 622,375.4 622.5,375.5 623,375.6 623.5,375.7 624,375.7 624.5,375.8 625,375.9 625.5,376 626,376 626.5,376.1 627,376.1 627.5,376.2 628,376.3 628.5,376.3 629,376.4 629.5,376.4 630,376.5 630.5,376.5 631,376.5 631.5,376.6 632,376.6 632.5,376.7 633,376.7 633.5,376.7 634,376.8 634.5,376.8 635,376.8 635.5,376.9 636,376.9 636.5,376.9 637,377 637.5,377 638,377 638.5,377 639,377.1 639.5,377.1 640,377.1 640.5,377.1 641,377.2 641.5,377.2 642,377.2 642.5,377.2 643,377.3 643.5,377.3 644,377.3 644.5,377.3 645,377.3 645.5,377.3 646,377.4 646.5,377.4 647,377.4 647.5,377.4 648,377.4 648.5,377.4 649,377.5 649.5,377.5 650,377.5 650.5,377.5 651,377.5 651.5,377.5 652,377.5 652.5,377.5 653,377.6 653.5,377.6 654,377.6 654.5,377.6 655,377.6 655.5,377.6 656,377.6 656.5,377.6 657,377.6 657.5,377.7 658,377.7 658.5,377.7 659,377.7 659.5,377.7 660,377.7 660.5,377.7 661,377.7 661.5,377.7 662,377.7 662.5,377.7 663,377.8 663.5,377.8 664,377.8 664.5,377.8 665,377.8 665.5,377.8 666,377.8 666.5,377.8 667,377.8 667.5,377.8 668,377.8 668.5,377.8 669,377.8 669.5,377.8 670,377.8 670.5,377.8 671,377.9 671.5,377.9 672,377.9 672.5,377.9 673,377.9 673.5,377.9 674,377.9 674.5,377.9 675,377.9 675.5,377.9 676,377.9 676.5,377.9 677,377.9 677.5,377.9 678,377.9 678.5,377.9 679,377.9 679.5,377.9 680,377.9 L680,378.3 Z" fill="#c4dcf2" fill-opacity="0.85"/>
<path d="M518,378.3 L518,378.2 518.5,378.2 519,378.2 519.5,378.2 520,378.2 520.5,378.2 521,378.2 521.5,378.2 522,378.2 522.5,378.2 523,378.2 523.5,378.2 524,378.2 524.5,378.2 525,378.2 525.5,378.2 526,378.2 526.5,378.2 527,378.2 527.5,378.2 528,378.2 528.5,378.2 529,378.2 529.5,378.2 530,378.1 530.5,378.1 531,378.1 531.5,378.1 532,378.1 532.5,378.1 533,378.1 533.5,378.1 534,378.1 534.5,378.1 535,378.1 535.5,378.1 536,378.1 536.5,378.1 537,378.1 537.5,378.1 538,378.1 538.5,378.1 539,378.1 539.5,378.1 540,378.1 540.5,378.1 541,378.1 541.5,378.1 542,378.1 542.5,378.1 543,378.1 543.5,378.1 544,378.1 544.5,378 545,378 545.5,378 546,378 546.5,378 547,378 547.5,378 548,378 548.5,378 549,378 549.5,378 550,378 550.5,378 551,378 551.5,378 552,378 552.5,377.9 553,377.9 553.5,377.9 554,377.9 554.5,377.9 555,377.9 555.5,377.9 556,377.9 556.5,377.9 557,377.9 557.5,377.8 558,377.8 558.5,377.8 559,377.8 559.5,377.8 560,377.8 560.5,377.8 561,377.8 561.5,377.7 562,377.7 562.5,377.7 563,377.7 563.5,377.7 564,377.6 564.5,377.6 565,377.6 565.5,377.6 566,377.6 566.5,377.5 567,377.5 567.5,377.5 568,377.4 568.5,377.4 569,377.4 569.5,377.3 570,377.3 570.5,377.3 571,377.2 571.5,377.2 572,377.1 572.5,377.1 573,377 573.5,377 574,376.9 574.5,376.8 575,376.8 575.5,376.7 576,376.6 576.5,376.5 577,376.4 577.5,376.3 578,376.2 578.5,376.1 579,376 579.5,375.9 580,375.7 580.5,375.6 581,375.4 581.5,375.2 582,375 582.5,374.7 583,374.5 583.5,374.2 584,373.9 584.5,373.6 585,373.2 585.5,372.8 586,372.3 586.5,371.8 587,371.2 587.5,370.5 588,369.8 588.5,369 589,368.1 589.5,367.1 590,366 590.5,364.8 591,363.6 591.5,362.3 592,361 592.5,359.7 593,358.5 593.5,357.5 594,356.8 594.5,356.4 595,356.3 595.5,356.7 596,357.3 596.5,358.3 597,359.4 597.5,360.7 598,362 598.5,363.3 599,364.6 599.5,365.8 600,366.9 600.5,367.9 601,368.8 601.5,369.6 602,370.4 602.5,371 603,371.6 603.5,372.2 604,372.7 604.5,373.1 605,373.5 605.5,373.8 606,374.2 606.5,374.4 607,374.7 607.5,374.9 608,375.1 608.5,375.3 609,375.5 609.5,375.7 610,375.8 610.5,376 611,376.1 611.5,376.2 612,376.3 612.5,376.4 613,376.5 613.5,376.6 614,376.7 614.5,376.8 615,376.8 615.5,376.9 616,377 616.5,377 617,377.1 617.5,377.1 618,377.2 618.5,377.2 619,377.3 619.5,377.3 620,377.3 620.5,377.4 621,377.4 621.5,377.4 622,377.5 622.5,377.5 623,377.5 623.5,377.5 624,377.6 624.5,377.6 625,377.6 625.5,377.6 626,377.7 626.5,377.7 627,377.7 627.5,377.7 628,377.7 628.5,377.7 629,377.8 629.5,377.8 630,377.8 630.5,377.8 631,377.8 631.5,377.8 632,377.8 632.5,377.9 633,377.9 633.5,377.9 634,377.9 634.5,377.9 635,377.9 635.5,377.9 636,377.9 636.5,377.9 637,377.9 637.5,378 638,378 638.5,378 639,378 639.5,378 640,378 640.5,378 641,378 641.5,378 642,378 642.5,378 643,378 643.5,378 644,378 644.5,378 645,378 645.5,378.1 646,378.1 646.5,378.1 647,378.1 647.5,378.1 648,378.1 648.5,378.1 649,378.1 649.5,378.1 650,378.1 650.5,378.1 651,378.1 651.5,378.1 652,378.1 652.5,378.1 653,378.1 653.5,378.1 654,378.1 654.5,378.1 655,378.1 655.5,378.1 656,378.1 656.5,378.1 657,378.1 657.5,378.1 658,378.1 658.5,378.1 659,378.1 659.5,378.1 660,378.2 660.5,378.2 661,378.2 661.5,378.2 662,378.2 662.5,378.2 663,378.2 663.5,378.2 664,378.2 664.5,378.2 665,378.2 665.5,378.2 666,378.2 666.5,378.2 667,378.2 667.5,378.2 668,378.2 668.5,378.2 669,378.2 669.5,378.2 670,378.2 670.5,378.2 671,378.2 671.5,378.2 672,378.2 672.5,378.2 673,378.2 673.5,378.2 674,378.2 674.5,378.2 675,378.2 675.5,378.2 676,378.2 676.5,378.2 677,378.2 677.5,378.2 678,378.2 678.5,378.2 679,378.2 679.5,378.2 680,378.2 L680,378.3 Z" fill="#a6d57f" fill-opacity="0.7"/>
<polyline fill="none" stroke="#5b95d5" stroke-width="1.1" points="341.5,377.9 342,377.9 342.5,377.9 343,377.9 343.5,377.9 344,377.9 344.5,377.9 345,377.9 345.5,377.8 346,377.8 346.5,377.8 347,377.8 347.5,377.8 348,377.8 348.5,377.8 349,377.8 349.5,377.8 350,377.8 350.5,377.8 351,377.8 351.5,377.8 352,377.8 352.5,377.7 353,377.7 353.5,377.7 354,377.7 354.5,377.7 355,377.7 355.5,377.7 356,377.7 356.5,377.7 357,377.7 357.5,377.7 358,377.6 358.5,377.6 359,377.6 359.5,377.6 360,377.6 360.5,377.6 361,377.6 361.5,377.6 362,377.5 362.5,377.5 363,377.5 363.5,377.5 364,377.5 364.5,377.5 365,377.5 365.5,377.4 366,377.4 366.5,377.4 367,377.4 367.5,377.4 368,377.4 368.5,377.3 369,377.3 369.5,377.3 370,377.3 370.5,377.3 371,377.2 371.5,377.2 372,377.2 372.5,377.2 373,377.2 373.5,377.1 374,377.1 374.5,377.1 375,377 375.5,377 376,377 376.5,377 377,376.9 377.5,376.9 378,376.9 378.5,376.8 379,376.8 379.5,376.8 380,376.7 380.5,376.7 381,376.6 381.5,376.6 382,376.5 382.5,376.5 383,376.4 383.5,376.4 384,376.3 384.5,376.3 385,376.2 385.5,376.2 386,376.1 386.5,376 387,376 387.5,375.9 388,375.8 388.5,375.8 389,375.7 389.5,375.6 390,375.5 390.5,375.4 391,375.3 391.5,375.2 392,375.1 392.5,375 393,374.8 393.5,374.7 394,374.6 394.5,374.4 395,374.3 395.5,374.1 396,374 396.5,373.8 397,373.6 397.5,373.4 398,373.2 398.5,372.9 399,372.7 399.5,372.4 400,372.2 400.5,371.9 401,371.5 401.5,371.2 402,370.8 402.5,370.4 403,370 403.5,369.6 404,369.1 404.5,368.5 405,367.9 405.5,367.3 406,366.6 406.5,365.9 407,365.1 407.5,364.2 408,363.2 408.5,362.2 409,361 409.5,359.7 410,358.4 410.5,356.9 411,355.2 411.5,353.4 412,351.5 412.5,349.4 413,347.1 413.5,344.7 414,342.1 414.5,339.4 415,336.6 415.5,333.8 416,331.1 416.5,328.5 417,326.1 417.5,324.1 418,322.6 418.5,321.6 419,321.3 419.5,321.6 420,322.6 420.5,324.1 421,326.1 421.5,328.5 422,331.1 422.5,333.8 423,336.6 423.5,339.4 424,342.1 424.5,344.7 425,347.1 425.5,349.4 426,351.5 426.5,353.4 427,355.2 427.5,356.9 428,358.4 428.5,359.7 429,361 429.5,362.2 430,363.2 430.5,364.2 431,365.1 431.5,365.9 432,366.6 432.5,367.3 433,367.9 433.5,368.5 434,369.1 434.5,369.6 435,370 435.5,370.4 436,370.8 436.5,371.2 437,371.5 437.5,371.9 438,372.2 438.5,372.4 439,372.7 439.5,372.9 440,373.2 440.5,373.4 441,373.6 441.5,373.8 442,374 442.5,374.1 443,374.3 443.5,374.4 444,374.6 444.5,374.7 445,374.8 445.5,375 446,375.1 446.5,375.2 447,375.3 447.5,375.4 448,375.5 448.5,375.6 449,375.7 449.5,375.8 450,375.8 450.5,375.9 451,376 451.5,376 452,376.1 452.5,376.2 453,376.2 453.5,376.3 454,376.3 454.5,376.4 455,376.4 455.5,376.5 456,376.5 456.5,376.6 457,376.6 457.5,376.7 458,376.7 458.5,376.8 459,376.8 459.5,376.8 460,376.9 460.5,376.9 461,376.9 461.5,377 462,377 462.5,377 463,377 463.5,377.1 464,377.1 464.5,377.1 465,377.2 465.5,377.2 466,377.2 466.5,377.2 467,377.2 467.5,377.3 468,377.3 468.5,377.3 469,377.3 469.5,377.3 470,377.4 470.5,377.4 471,377.4 471.5,377.4 472,377.4 472.5,377.4 473,377.5 473.5,377.5 474,377.5 474.5,377.5 475,377.5 475.5,377.5 476,377.5 476.5,377.6 477,377.6 477.5,377.6 478,377.6 478.5,377.6 479,377.6 479.5,377.6 480,377.6 480.5,377.7 481,377.7 481.5,377.7 482,377.7 482.5,377.7 483,377.7 483.5,377.7 484,377.7 484.5,377.7 485,377.7 485.5,377.7 486,377.8 486.5,377.8 487,377.8 487.5,377.8 488,377.8 488.5,377.8 489,377.8 489.5,377.8 490,377.8 490.5,377.8 491,377.8 491.5,377.8 492,377.8 492.5,377.8 493,377.9 493.5,377.9 494,377.9 494.5,377.9 495,377.9 495.5,377.9 496,377.9 496.5,377.9 497,377.9 497.5,377.9 498,377.9 498.5,377.9 499,377.9 499.5,377.9 500,377.9 500.5,377.9 501,377.9 501.5,377.9 502,377.9 502.5,377.9 503,378 503.5,378 504,378 504.5,378 505,378"/>
<polyline fill="none" stroke="#6cc43a" stroke-width="1.1" points="341.5,378.2 342,378.2 342.5,378.2 343,378.2 343.5,378.2 344,378.2 344.5,378.2 345,378.2 345.5,378.2 346,378.2 346.5,378.2 347,378.2 347.5,378.2 348,378.2 348.5,378.2 349,378.2 349.5,378.2 350,378.2 350.5,378.2 351,378.2 351.5,378.2 352,378.2 352.5,378.2 353,378.2 353.5,378.2 354,378.2 354.5,378.2 355,378.2 355.5,378.2 356,378.2 356.5,378.2 357,378.2 357.5,378.1 358,378.1 358.5,378.1 359,378.1 359.5,378.1 360,378.1 360.5,378.1 361,378.1 361.5,378.1 362,378.1 362.5,378.1 363,378.1 363.5,378.1 364,378.1 364.5,378.1 365,378.1 365.5,378.1 366,378.1 366.5,378.1 367,378.1 367.5,378.1 368,378.1 368.5,378.1 369,378.1 369.5,378.1 370,378.1 370.5,378.1 371,378.1 371.5,378.1 372,378 372.5,378 373,378 373.5,378 374,378 374.5,378 375,378 375.5,378 376,378 376.5,378 377,378 377.5,378 378,378 378.5,378 379,378 379.5,378 380,377.9 380.5,377.9 381,377.9 381.5,377.9 382,377.9 382.5,377.9 383,377.9 383.5,377.9 384,377.9 384.5,377.9 385,377.8 385.5,377.8 386,377.8 386.5,377.8 387,377.8 387.5,377.8 388,377.8 388.5,377.7 389,377.7 389.5,377.7 390,377.7 390.5,377.7 391,377.7 391.5,377.6 392,377.6 392.5,377.6 393,377.6 393.5,377.5 394,377.5 394.5,377.5 395,377.5 395.5,377.4 396,377.4 396.5,377.4 397,377.3 397.5,377.3 398,377.2 398.5,377.2 399,377.1 399.5,377.1 400,377 400.5,377 401,376.9 401.5,376.9 402,376.8 402.5,376.7 403,376.6 403.5,376.5 404,376.5 404.5,376.4 405,376.2 405.5,376.1 406,376 406.5,375.9 407,375.7 407.5,375.5 408,375.4 408.5,375.2 409,375 409.5,374.7 410,374.5 410.5,374.2 411,373.8 411.5,373.5 412,373.1 412.5,372.6 413,372.1 413.5,371.6 414,371 414.5,370.3 415,369.5 415.5,368.6 416,367.7 416.5,366.6 417,365.4 417.5,364.1 418,362.8 418.5,361.3 419,359.9 419.5,358.5 420,357.3 420.5,356.3 421,355.6 421.5,355.3 422,355.4 422.5,356 423,356.9 423.5,358 424,359.3 424.5,360.8 425,362.2 425.5,363.6 426,364.9 426.5,366.1 427,367.2 427.5,368.2 428,369.2 428.5,370 429,370.7 429.5,371.3 430,371.9 430.5,372.4 431,372.9 431.5,373.3 432,373.7 432.5,374 433,374.3 433.5,374.6 434,374.9 434.5,375.1 435,375.3 435.5,375.5 436,375.6 436.5,375.8 437,375.9 437.5,376.1 438,376.2 438.5,376.3 439,376.4 439.5,376.5 440,376.6 440.5,376.7 441,376.8 441.5,376.8 442,376.9 442.5,377 443,377 443.5,377.1 444,377.1 444.5,377.2 445,377.2 445.5,377.3 446,377.3 446.5,377.3 447,377.4 447.5,377.4 448,377.4 448.5,377.5 449,377.5 449.5,377.5 450,377.6 450.5,377.6 451,377.6 451.5,377.6 452,377.6 452.5,377.7 453,377.7 453.5,377.7 454,377.7 454.5,377.7 455,377.8 455.5,377.8 456,377.8 456.5,377.8 457,377.8 457.5,377.8 458,377.8 458.5,377.9 459,377.9 459.5,377.9 460,377.9 460.5,377.9 461,377.9 461.5,377.9 462,377.9 462.5,377.9 463,377.9 463.5,378 464,378 464.5,378 465,378 465.5,378 466,378 466.5,378 467,378 467.5,378 468,378 468.5,378 469,378 469.5,378 470,378 470.5,378 471,378 471.5,378.1 472,378.1 472.5,378.1 473,378.1 473.5,378.1 474,378.1 474.5,378.1 475,378.1 475.5,378.1 476,378.1 476.5,378.1 477,378.1 477.5,378.1 478,378.1 478.5,378.1 479,378.1 479.5,378.1 480,378.1 480.5,378.1 481,378.1 481.5,378.1 482,378.1 482.5,378.1 483,378.1 483.5,378.1 484,378.1 484.5,378.1 485,378.1 485.5,378.1 486,378.2 486.5,378.2 487,378.2 487.5,378.2 488,378.2 488.5,378.2 489,378.2 489.5,378.2 490,378.2 490.5,378.2 491,378.2 491.5,378.2 492,378.2 492.5,378.2 493,378.2 493.5,378.2 494,378.2 494.5,378.2 495,378.2 495.5,378.2 496,378.2 496.5,378.2 497,378.2 497.5,378.2 498,378.2 498.5,378.2 499,378.2 499.5,378.2 500,378.2 500.5,378.2 501,378.2 501.5,378.2 502,378.2 502.5,378.2 503,378.2 503.5,378.2 504,378.2 504.5,378.2 505,378.2"/>
<polyline fill="none" stroke="#e8602a" stroke-width="1.1" points="341.5,378.3 342,378.3 342.5,378.3 343,378.3 343.5,378.3 344,378.3 344.5,378.3 345,378.3 345.5,378.3 346,378.3 346.5,378.3 347,378.3 347.5,378.3 348,378.3 348.5,378.3 349,378.3 349.5,378.3 350,378.3 350.5,378.3 351,378.3 351.5,378.3 352,378.3 352.5,378.3 353,378.3 353.5,378.3 354,378.3 354.5,378.3 355,378.3 355.5,378.3 356,378.3 356.5,378.3 357,378.3 357.5,378.3 358,378.3 358.5,378.3 359,378.3 359.5,378.3 360,378.3 360.5,378.3 361,378.3 361.5,378.3 362,378.3 362.5,378.3 363,378.3 363.5,378.3 364,378.3 364.5,378.3 365,378.3 365.5,378.3 366,378.3 366.5,378.3 367,378.3 367.5,378.3 368,378.3 368.5,378.3 369,378.3 369.5,378.3 370,378.3 370.5,378.3 371,378.3 371.5,378.3 372,378.3 372.5,378.3 373,378.3 373.5,378.3 374,378.3 374.5,378.3 375,378.3 375.5,378.3 376,378.3 376.5,378.3 377,378.2 377.5,378.2 378,378.2 378.5,378.2 379,378.2 379.5,378.2 380,378.2 380.5,378.2 381,378.2 381.5,378.2 382,378.2 382.5,378.2 383,378.2 383.5,378.2 384,378.2 384.5,378.2 385,378.2 385.5,378.2 386,378.2 386.5,378.2 387,378.2 387.5,378.2 388,378.2 388.5,378.2 389,378.2 389.5,378.2 390,378.2 390.5,378.2 391,378.2 391.5,378.2 392,378.2 392.5,378.2 393,378.2 393.5,378.2 394,378.2 394.5,378.2 395,378.2 395.5,378.2 396,378.2 396.5,378.2 397,378.2 397.5,378.2 398,378.2 398.5,378.2 399,378.2 399.5,378.2 400,378.2 400.5,378.2 401,378.2 401.5,378.2 402,378.2 402.5,378.2 403,378.2 403.5,378.1 404,378.1 404.5,378.1 405,378.1 405.5,378.1 406,378.1 406.5,378.1 407,378.1 407.5,378.1 408,378.1 408.5,378.1 409,378.1 409.5,378.1 410,378.1 410.5,378.1 411,378.1 411.5,378 412,378 412.5,378 413,378 413.5,378 414,378 414.5,378 415,378 415.5,378 416,377.9 416.5,377.9 417,377.9 417.5,377.9 418,377.9 418.5,377.8 419,377.8 419.5,377.8 420,377.8 420.5,377.7 421,377.7 421.5,377.7 422,377.6 422.5,377.6 423,377.6 423.5,377.5 424,377.5 424.5,377.4 425,377.3 425.5,377.2 426,377.1 426.5,377 427,376.8 427.5,376.5 428,376.2 428.5,375.6 429,374.8 429.5,373.7 430,372.2 430.5,370 431,367.1 431.5,363.2 432,358.1 432.5,351.6 433,343.6 433.5,334 434,322.8 434.5,310.1 435,296 435.5,281.2 436,265.9 436.5,251 437,237.2 437.5,225.3 438,216.2 438.5,210.7 439,209.4 439.5,212.4 440,219.4 440.5,229.7 441,242.5 441.5,256.9 442,272 442.5,287.2 443,301.8 443.5,315.3 444,327.5 444.5,338.1 445,347 445.5,354.4 446,360.3 446.5,364.9 447,368.4 447.5,371 448,372.9 448.5,374.2 449,375.2 449.5,375.9 450,376.3 450.5,376.6 451,376.9 451.5,377 452,377.2 452.5,377.3 453,377.4 453.5,377.4 454,377.5 454.5,377.5 455,377.6 455.5,377.6 456,377.7 456.5,377.7 457,377.7 457.5,377.8 458,377.8 458.5,377.8 459,377.8 459.5,377.9 460,377.9 460.5,377.9 461,377.9 461.5,377.9 462,377.9 462.5,378 463,378 463.5,378 464,378 464.5,378 465,378 465.5,378 466,378 466.5,378 467,378.1 467.5,378.1 468,378.1 468.5,378.1 469,378.1 469.5,378.1 470,378.1 470.5,378.1 471,378.1 471.5,378.1 472,378.1 472.5,378.1 473,378.1 473.5,378.1 474,378.1 474.5,378.1 475,378.2 475.5,378.2 476,378.2 476.5,378.2 477,378.2 477.5,378.2 478,378.2 478.5,378.2 479,378.2 479.5,378.2 480,378.2 480.5,378.2 481,378.2 481.5,378.2 482,378.2 482.5,378.2 483,378.2 483.5,378.2 484,378.2 484.5,378.2 485,378.2 485.5,378.2 486,378.2 486.5,378.2 487,378.2 487.5,378.2 488,378.2 488.5,378.2 489,378.2 489.5,378.2 490,378.2 490.5,378.2 491,378.2 491.5,378.2 492,378.2 492.5,378.2 493,378.2 493.5,378.2 494,378.2 494.5,378.2 495,378.2 495.5,378.2 496,378.2 496.5,378.2 497,378.2 497.5,378.2 498,378.2 498.5,378.2 499,378.2 499.5,378.2 500,378.2 500.5,378.2 501,378.2 501.5,378.3 502,378.3 502.5,378.3 503,378.3 503.5,378.3 504,378.3 504.5,378.3 505,378.3"/>
<polyline fill="none" stroke="#5b95d5" stroke-width="1.1" points="518,377.8 518.5,377.8 519,377.8 519.5,377.8 520,377.8 520.5,377.7 521,377.7 521.5,377.7 522,377.7 522.5,377.7 523,377.7 523.5,377.7 524,377.7 524.5,377.7 525,377.7 525.5,377.7 526,377.7 526.5,377.6 527,377.6 527.5,377.6 528,377.6 528.5,377.6 529,377.6 529.5,377.6 530,377.6 530.5,377.6 531,377.5 531.5,377.5 532,377.5 532.5,377.5 533,377.5 533.5,377.5 534,377.5 534.5,377.4 535,377.4 535.5,377.4 536,377.4 536.5,377.4 537,377.4 537.5,377.4 538,377.3 538.5,377.3 539,377.3 539.5,377.3 540,377.3 540.5,377.2 541,377.2 541.5,377.2 542,377.2 542.5,377.2 543,377.1 543.5,377.1 544,377.1 544.5,377.1 545,377 545.5,377 546,377 546.5,376.9 547,376.9 547.5,376.9 548,376.9 548.5,376.8 549,376.8 549.5,376.8 550,376.7 550.5,376.7 551,376.6 551.5,376.6 552,376.6 552.5,376.5 553,376.5 553.5,376.4 554,376.4 554.5,376.3 555,376.3 555.5,376.2 556,376.2 556.5,376.1 557,376 557.5,376 558,375.9 558.5,375.8 559,375.8 559.5,375.7 560,375.6 560.5,375.5 561,375.5 561.5,375.4 562,375.3 562.5,375.2 563,375.1 563.5,375 564,374.8 564.5,374.7 565,374.6 565.5,374.5 566,374.3 566.5,374.2 567,374 567.5,373.9 568,373.7 568.5,373.5 569,373.3 569.5,373.1 570,372.9 570.5,372.7 571,372.4 571.5,372.2 572,371.9 572.5,371.6 573,371.3 573.5,371 574,370.6 574.5,370.2 575,369.8 575.5,369.4 576,368.9 576.5,368.4 577,367.9 577.5,367.3 578,366.6 578.5,366 579,365.2 579.5,364.4 580,363.6 580.5,362.7 581,361.7 581.5,360.6 582,359.4 582.5,358.2 583,356.8 583.5,355.4 584,353.8 584.5,352.1 585,350.4 585.5,348.5 586,346.5 586.5,344.5 587,342.4 587.5,340.3 588,338.3 588.5,336.3 589,334.4 589.5,332.8 590,331.4 590.5,330.3 591,329.6 591.5,329.3 592,329.4 592.5,330 593,330.9 593.5,332.2 594,333.7 594.5,335.5 595,337.5 595.5,339.5 596,341.6 596.5,343.7 597,345.7 597.5,347.7 598,349.6 598.5,351.4 599,353.1 599.5,354.7 600,356.2 600.5,357.6 601,358.9 601.5,360.1 602,361.2 602.5,362.3 603,363.2 603.5,364.1 604,364.9 604.5,365.7 605,366.4 605.5,367 606,367.6 606.5,368.2 607,368.7 607.5,369.2 608,369.6 608.5,370.1 609,370.4 609.5,370.8 610,371.2 610.5,371.5 611,371.8 611.5,372.1 612,372.3 612.5,372.6 613,372.8 613.5,373 614,373.2 614.5,373.4 615,373.6 615.5,373.8 616,374 616.5,374.1 617,374.3 617.5,374.4 618,374.5 618.5,374.7 619,374.8 619.5,374.9 620,375 620.5,375.1 621,375.2 621.5,375.3 622,375.4 622.5,375.5 623,375.6 623.5,375.7 624,375.7 624.5,375.8 625,375.9 625.5,376 626,376 626.5,376.1 627,376.1 627.5,376.2 628,376.3 628.5,376.3 629,376.4 629.5,376.4 630,376.5 630.5,376.5 631,376.5 631.5,376.6 632,376.6 632.5,376.7 633,376.7 633.5,376.7 634,376.8 634.5,376.8 635,376.8 635.5,376.9 636,376.9 636.5,376.9 637,377 637.5,377 638,377 638.5,377 639,377.1 639.5,377.1 640,377.1 640.5,377.1 641,377.2 641.5,377.2 642,377.2 642.5,377.2 643,377.3 643.5,377.3 644,377.3 644.5,377.3 645,377.3 645.5,377.3 646,377.4 646.5,377.4 647,377.4 647.5,377.4 648,377.4 648.5,377.4 649,377.5 649.5,377.5 650,377.5 650.5,377.5 651,377.5 651.5,377.5 652,377.5 652.5,377.5 653,377.6 653.5,377.6 654,377.6 654.5,377.6 655,377.6 655.5,377.6 656,377.6 656.5,377.6 657,377.6 657.5,377.7 658,377.7 658.5,377.7 659,377.7 659.5,377.7 660,377.7 660.5,377.7 661,377.7 661.5,377.7 662,377.7 662.5,377.7 663,377.8 663.5,377.8 664,377.8 664.5,377.8 665,377.8 665.5,377.8 666,377.8 666.5,377.8 667,377.8 667.5,377.8 668,377.8 668.5,377.8 669,377.8 669.5,377.8 670,377.8 670.5,377.8 671,377.9 671.5,377.9 672,377.9 672.5,377.9 673,377.9 673.5,377.9 674,377.9 674.5,377.9 675,377.9 675.5,377.9 676,377.9 676.5,377.9 677,377.9 677.5,377.9 678,377.9 678.5,377.9 679,377.9 679.5,377.9 680,377.9"/>
<polyline fill="none" stroke="#6cc43a" stroke-width="1.1" points="518,378.2 518.5,378.2 519,378.2 519.5,378.2 520,378.2 520.5,378.2 521,378.2 521.5,378.2 522,378.2 522.5,378.2 523,378.2 523.5,378.2 524,378.2 524.5,378.2 525,378.2 525.5,378.2 526,378.2 526.5,378.2 527,378.2 527.5,378.2 528,378.2 528.5,378.2 529,378.2 529.5,378.2 530,378.1 530.5,378.1 531,378.1 531.5,378.1 532,378.1 532.5,378.1 533,378.1 533.5,378.1 534,378.1 534.5,378.1 535,378.1 535.5,378.1 536,378.1 536.5,378.1 537,378.1 537.5,378.1 538,378.1 538.5,378.1 539,378.1 539.5,378.1 540,378.1 540.5,378.1 541,378.1 541.5,378.1 542,378.1 542.5,378.1 543,378.1 543.5,378.1 544,378.1 544.5,378 545,378 545.5,378 546,378 546.5,378 547,378 547.5,378 548,378 548.5,378 549,378 549.5,378 550,378 550.5,378 551,378 551.5,378 552,378 552.5,377.9 553,377.9 553.5,377.9 554,377.9 554.5,377.9 555,377.9 555.5,377.9 556,377.9 556.5,377.9 557,377.9 557.5,377.8 558,377.8 558.5,377.8 559,377.8 559.5,377.8 560,377.8 560.5,377.8 561,377.8 561.5,377.7 562,377.7 562.5,377.7 563,377.7 563.5,377.7 564,377.6 564.5,377.6 565,377.6 565.5,377.6 566,377.6 566.5,377.5 567,377.5 567.5,377.5 568,377.4 568.5,377.4 569,377.4 569.5,377.3 570,377.3 570.5,377.3 571,377.2 571.5,377.2 572,377.1 572.5,377.1 573,377 573.5,377 574,376.9 574.5,376.8 575,376.8 575.5,376.7 576,376.6 576.5,376.5 577,376.4 577.5,376.3 578,376.2 578.5,376.1 579,376 579.5,375.9 580,375.7 580.5,375.6 581,375.4 581.5,375.2 582,375 582.5,374.7 583,374.5 583.5,374.2 584,373.9 584.5,373.6 585,373.2 585.5,372.8 586,372.3 586.5,371.8 587,371.2 587.5,370.5 588,369.8 588.5,369 589,368.1 589.5,367.1 590,366 590.5,364.8 591,363.6 591.5,362.3 592,361 592.5,359.7 593,358.5 593.5,357.5 594,356.8 594.5,356.4 595,356.3 595.5,356.7 596,357.3 596.5,358.3 597,359.4 597.5,360.7 598,362 598.5,363.3 599,364.6 599.5,365.8 600,366.9 600.5,367.9 601,368.8 601.5,369.6 602,370.4 602.5,371 603,371.6 603.5,372.2 604,372.7 604.5,373.1 605,373.5 605.5,373.8 606,374.2 606.5,374.4 607,374.7 607.5,374.9 608,375.1 608.5,375.3 609,375.5 609.5,375.7 610,375.8 610.5,376 611,376.1 611.5,376.2 612,376.3 612.5,376.4 613,376.5 613.5,376.6 614,376.7 614.5,376.8 615,376.8 615.5,376.9 616,377 616.5,377 617,377.1 617.5,377.1 618,377.2 618.5,377.2 619,377.3 619.5,377.3 620,377.3 620.5,377.4 621,377.4 621.5,377.4 622,377.5 622.5,377.5 623,377.5 623.5,377.5 624,377.6 624.5,377.6 625,377.6 625.5,377.6 626,377.7 626.5,377.7 627,377.7 627.5,377.7 628,377.7 628.5,377.7 629,377.8 629.5,377.8 630,377.8 630.5,377.8 631,377.8 631.5,377.8 632,377.8 632.5,377.9 633,377.9 633.5,377.9 634,377.9 634.5,377.9 635,377.9 635.5,377.9 636,377.9 636.5,377.9 637,377.9 637.5,378 638,378 638.5,378 639,378 639.5,378 640,378 640.5,378 641,378 641.5,378 642,378 642.5,378 643,378 643.5,378 644,378 644.5,378 645,378 645.5,378.1 646,378.1 646.5,378.1 647,378.1 647.5,378.1 648,378.1 648.5,378.1 649,378.1 649.5,378.1 650,378.1 650.5,378.1 651,378.1 651.5,378.1 652,378.1 652.5,378.1 653,378.1 653.5,378.1 654,378.1 654.5,378.1 655,378.1 655.5,378.1 656,378.1 656.5,378.1 657,378.1 657.5,378.1 658,378.1 658.5,378.1 659,378.1 659.5,378.1 660,378.2 660.5,378.2 661,378.2 661.5,378.2 662,378.2 662.5,378.2 663,378.2 663.5,378.2 664,378.2 664.5,378.2 665,378.2 665.5,378.2 666,378.2 666.5,378.2 667,378.2 667.5,378.2 668,378.2 668.5,378.2 669,378.2 669.5,378.2 670,378.2 670.5,378.2 671,378.2 671.5,378.2 672,378.2 672.5,378.2 673,378.2 673.5,378.2 674,378.2 674.5,378.2 675,378.2 675.5,378.2 676,378.2 676.5,378.2 677,378.2 677.5,378.2 678,378.2 678.5,378.2 679,378.2 679.5,378.2 680,378.2"/>
<polyline fill="none" stroke="#3a3a3a" stroke-width="1.5" points="341.5,377.8 342,377.8 342.5,377.8 343,377.7 343.5,377.7 344,377.7 344.5,377.7 345,377.7 345.5,377.7 346,377.7 346.5,377.7 347,377.7 347.5,377.7 348,377.7 348.5,377.7 349,377.7 349.5,377.6 350,377.6 350.5,377.6 351,377.6 351.5,377.6 352,377.6 352.5,377.6 353,377.6 353.5,377.6 354,377.5 354.5,377.5 355,377.5 355.5,377.5 356,377.5 356.5,377.5 357,377.5 357.5,377.5 358,377.5 358.5,377.4 359,377.4 359.5,377.4 360,377.4 360.5,377.4 361,377.4 361.5,377.3 362,377.3 362.5,377.3 363,377.3 363.5,377.3 364,377.3 364.5,377.2 365,377.2 365.5,377.2 366,377.2 366.5,377.2 367,377.1 367.5,377.1 368,377.1 368.5,377.1 369,377.1 369.5,377 370,377 370.5,377 371,376.9 371.5,376.9 372,376.9 372.5,376.9 373,376.8 373.5,376.8 374,376.8 374.5,376.7 375,376.7 375.5,376.7 376,376.6 376.5,376.6 377,376.6 377.5,376.5 378,376.5 378.5,376.4 379,376.4 379.5,376.3 380,376.3 380.5,376.2 381,376.2 381.5,376.1 382,376.1 382.5,376 383,376 383.5,375.9 384,375.8 384.5,375.8 385,375.7 385.5,375.6 386,375.5 386.5,375.5 387,375.4 387.5,375.3 388,375.2 388.5,375.1 389,375 389.5,374.9 390,374.8 390.5,374.7 391,374.5 391.5,374.4 392,374.3 392.5,374.1 393,374 393.5,373.8 394,373.7 394.5,373.5 395,373.3 395.5,373.1 396,372.9 396.5,372.7 397,372.5 397.5,372.2 398,371.9 398.5,371.7 399,371.4 399.5,371.1 400,370.7 400.5,370.4 401,370 401.5,369.5 402,369.1 402.5,368.6 403,368.1 403.5,367.6 404,367 404.5,366.3 405,365.6 405.5,364.9 406,364 406.5,363.1 407,362.2 407.5,361.1 408,359.9 408.5,358.7 409,357.3 409.5,355.8 410,354.1 410.5,352.3 411,350.3 411.5,348.1 412,345.7 412.5,343.1 413,340.3 413.5,337.3 414,334.1 414.5,330.6 415,327 415.5,323.3 416,319.5 416.5,315.8 417,312.1 417.5,308.8 418,305.8 418.5,303.4 419,301.5 419.5,300.4 420,300 420.5,300.4 421,301.7 421.5,303.7 422,306.4 422.5,309.7 423,313.4 423.5,317.3 424,321.3 424.5,325.3 425,329.2 425.5,332.8 426,336.2 426.5,339.3 427,342.1 427.5,344.5 428,346.6 428.5,348.3 429,349.6 429.5,350.3 430,350.4 430.5,349.7 431,348.2 431.5,345.5 432,341.6 432.5,336.2 433,329.1 433.5,320.4 434,310 434.5,297.9 435,284.6 435.5,270.3 436,255.7 436.5,241.3 437,227.9 437.5,216.5 438,207.8 438.5,202.7 439,201.8 439.5,205.2 440,212.5 440.5,223.1 441,236.2 441.5,250.8 442,266.2 442.5,281.6 443,296.4 443.5,310.2 444,322.5 444.5,333.3 445,342.4 445.5,350 446,356 446.5,360.7 447,364.4 447.5,367.1 448,369.2 448.5,370.6 449,371.7 449.5,372.5 450,373.1 450.5,373.5 451,373.8 451.5,374.1 452,374.3 452.5,374.5 453,374.6 453.5,374.8 454,374.9 454.5,375 455,375.2 455.5,375.3 456,375.4 456.5,375.5 457,375.5 457.5,375.6 458,375.7 458.5,375.8 459,375.9 459.5,375.9 460,376 460.5,376.1 461,376.1 461.5,376.2 462,376.2 462.5,376.3 463,376.3 463.5,376.4 464,376.4 464.5,376.5 465,376.5 465.5,376.6 466,376.6 466.5,376.6 467,376.7 467.5,376.7 468,376.8 468.5,376.8 469,376.8 469.5,376.9 470,376.9 470.5,376.9 471,376.9 471.5,377 472,377 472.5,377 473,377.1 473.5,377.1 474,377.1 474.5,377.1 475,377.1 475.5,377.2 476,377.2 476.5,377.2 477,377.2 477.5,377.2 478,377.3 478.5,377.3 479,377.3 479.5,377.3 480,377.3 480.5,377.4 481,377.4 481.5,377.4 482,377.4 482.5,377.4 483,377.4 483.5,377.4 484,377.5 484.5,377.5 485,377.5 485.5,377.5 486,377.5 486.5,377.5 487,377.5 487.5,377.5 488,377.6 488.5,377.6 489,377.6 489.5,377.6 490,377.6 490.5,377.6 491,377.6 491.5,377.6 492,377.6 492.5,377.6 493,377.7 493.5,377.7 494,377.7 494.5,377.7 495,377.7 495.5,377.7 496,377.7 496.5,377.7 497,377.7 497.5,377.7 498,377.7 498.5,377.7 499,377.8 499.5,377.8 500,377.8 500.5,377.8 501,377.8 501.5,377.8 502,377.8 502.5,377.8 503,377.8 503.5,377.8 504,377.8 504.5,377.8 505,377.8"/>
<polyline fill="none" stroke="#3a3a3a" stroke-width="1.5" points="518,377.7 518.5,377.7 519,377.7 519.5,377.7 520,377.7 520.5,377.7 521,377.6 521.5,377.6 522,377.6 522.5,377.6 523,377.6 523.5,377.6 524,377.6 524.5,377.6 525,377.6 525.5,377.6 526,377.5 526.5,377.5 527,377.5 527.5,377.5 528,377.5 528.5,377.5 529,377.5 529.5,377.5 530,377.4 530.5,377.4 531,377.4 531.5,377.4 532,377.4 532.5,377.4 533,377.4 533.5,377.3 534,377.3 534.5,377.3 535,377.3 535.5,377.3 536,377.3 536.5,377.2 537,377.2 537.5,377.2 538,377.2 538.5,377.2 539,377.1 539.5,377.1 540,377.1 540.5,377.1 541,377.1 541.5,377 542,377 542.5,377 543,376.9 543.5,376.9 544,376.9 544.5,376.9 545,376.8 545.5,376.8 546,376.8 546.5,376.7 547,376.7 547.5,376.7 548,376.6 548.5,376.6 549,376.6 549.5,376.5 550,376.5 550.5,376.4 551,376.4 551.5,376.3 552,376.3 552.5,376.2 553,376.2 553.5,376.1 554,376.1 554.5,376 555,376 555.5,375.9 556,375.8 556.5,375.8 557,375.7 557.5,375.6 558,375.6 558.5,375.5 559,375.4 559.5,375.3 560,375.2 560.5,375.1 561,375 561.5,374.9 562,374.8 562.5,374.7 563,374.6 563.5,374.5 564,374.3 564.5,374.2 565,374.1 565.5,373.9 566,373.8 566.5,373.6 567,373.4 567.5,373.2 568,373 568.5,372.8 569,372.6 569.5,372.4 570,372.1 570.5,371.9 571,371.6 571.5,371.3 572,371 572.5,370.7 573,370.3 573.5,369.9 574,369.5 574.5,369.1 575,368.6 575.5,368.1 576,367.6 576.5,367 577,366.4 577.5,365.8 578,365.1 578.5,364.3 579,363.5 579.5,362.6 580,361.6 580.5,360.5 581,359.4 581.5,358.2 582,356.9 582.5,355.4 583,353.9 583.5,352.2 584,350.4 584.5,348.5 585,346.4 585.5,344.2 586,341.9 586.5,339.5 587,336.9 587.5,334.4 588,331.7 588.5,329.1 589,326.6 589.5,324.1 590,321.9 590.5,319.9 591,318.3 591.5,317 592,316.1 592.5,315.6 593,315.7 593.5,316.2 594,317.2 594.5,318.6 595,320.6 595.5,322.9 596,325.5 596.5,328.3 597,331.2 597.5,334.2 598,337.1 598.5,339.9 599,342.6 599.5,345.1 600,347.5 600.5,349.6 601,351.6 601.5,353.5 602,355.1 602.5,356.7 603,358.1 603.5,359.4 604,360.6 604.5,361.7 605,362.7 605.5,363.6 606,364.4 606.5,365.2 607,365.9 607.5,366.6 608,367.2 608.5,367.8 609,368.3 609.5,368.8 610,369.3 610.5,369.7 611,370.1 611.5,370.5 612,370.8 612.5,371.1 613,371.4 613.5,371.7 614,372 614.5,372.3 615,372.5 615.5,372.7 616,372.9 616.5,373.1 617,373.3 617.5,373.5 618,373.7 618.5,373.8 619,374 619.5,374.1 620,374.3 620.5,374.4 621,374.5 621.5,374.7 622,374.8 622.5,374.9 623,375 623.5,375.1 624,375.2 624.5,375.3 625,375.4 625.5,375.4 626,375.5 626.5,375.6 627,375.7 627.5,375.7 628,375.8 628.5,375.9 629,375.9 629.5,376 630,376.1 630.5,376.1 631,376.2 631.5,376.2 632,376.3 632.5,376.3 633,376.4 633.5,376.4 634,376.5 634.5,376.5 635,376.5 635.5,376.6 636,376.6 636.5,376.7 637,376.7 637.5,376.7 638,376.8 638.5,376.8 639,376.8 639.5,376.9 640,376.9 640.5,376.9 641,376.9 641.5,377 642,377 642.5,377 643,377 643.5,377.1 644,377.1 644.5,377.1 645,377.1 645.5,377.2 646,377.2 646.5,377.2 647,377.2 647.5,377.2 648,377.3 648.5,377.3 649,377.3 649.5,377.3 650,377.3 650.5,377.3 651,377.4 651.5,377.4 652,377.4 652.5,377.4 653,377.4 653.5,377.4 654,377.4 654.5,377.5 655,377.5 655.5,377.5 656,377.5 656.5,377.5 657,377.5 657.5,377.5 658,377.5 658.5,377.6 659,377.6 659.5,377.6 660,377.6 660.5,377.6 661,377.6 661.5,377.6 662,377.6 662.5,377.6 663,377.6 663.5,377.7 664,377.7 664.5,377.7 665,377.7 665.5,377.7 666,377.7 666.5,377.7 667,377.7 667.5,377.7 668,377.7 668.5,377.7 669,377.7 669.5,377.7 670,377.8 670.5,377.8 671,377.8 671.5,377.8 672,377.8 672.5,377.8 673,377.8 673.5,377.8 674,377.8 674.5,377.8 675,377.8 675.5,377.8 676,377.8 676.5,377.8 677,377.8 677.5,377.8 678,377.9 678.5,377.9 679,377.9 679.5,377.9 680,377.9"/>
<line x1="341.5" y1="378.3" x2="506" y2="378.3" stroke="#52601f" stroke-width="1.6"/>
<line x1="516" y1="378.3" x2="680" y2="378.3" stroke="#52601f" stroke-width="1.6"/>
<line x1="341.5" y1="377.7" x2="506" y2="377.7" stroke="#6cc43a" stroke-width="0.8"/>
<line x1="516" y1="377.7" x2="680" y2="377.7" stroke="#6cc43a" stroke-width="0.8"/>
<line x1="392.7" y1="375.8" x2="392.7" y2="378.3" stroke="#333" stroke-width="0.9"/>
<line x1="422.1" y1="375.8" x2="422.1" y2="378.3" stroke="#333" stroke-width="0.9"/>
<line x1="451.3" y1="375.8" x2="451.3" y2="378.3" stroke="#333" stroke-width="0.9"/>
<circle cx="446.5" cy="346.8" r="2" fill="#fff" fill-opacity="0.55" stroke="#4a4a4a" stroke-width="0.7"/>
<circle cx="449.6" cy="357.8" r="2" fill="#fff" fill-opacity="0.55" stroke="#4a4a4a" stroke-width="0.7"/>
<circle cx="453.1" cy="366.6" r="2" fill="#fff" fill-opacity="0.55" stroke="#4a4a4a" stroke-width="0.7"/>
<circle cx="456.6" cy="364.9" r="2" fill="#fff" fill-opacity="0.55" stroke="#4a4a4a" stroke-width="0.7"/>
<circle cx="460.1" cy="368.9" r="2" fill="#fff" fill-opacity="0.55" stroke="#4a4a4a" stroke-width="0.7"/>
<circle cx="463.6" cy="368.4" r="2" fill="#fff" fill-opacity="0.55" stroke="#4a4a4a" stroke-width="0.7"/>
<circle cx="467.1" cy="372.4" r="2" fill="#fff" fill-opacity="0.55" stroke="#4a4a4a" stroke-width="0.7"/>
<circle cx="470.6" cy="370.1" r="2" fill="#fff" fill-opacity="0.55" stroke="#4a4a4a" stroke-width="0.7"/>
<circle cx="474.1" cy="375.4" r="2" fill="#fff" fill-opacity="0.55" stroke="#4a4a4a" stroke-width="0.7"/>
<circle cx="477.6" cy="373.6" r="2" fill="#fff" fill-opacity="0.55" stroke="#4a4a4a" stroke-width="0.7"/>
<circle cx="481.1" cy="376" r="2" fill="#fff" fill-opacity="0.55" stroke="#4a4a4a" stroke-width="0.7"/>
<circle cx="484.6" cy="372.1" r="2" fill="#fff" fill-opacity="0.55" stroke="#4a4a4a" stroke-width="0.7"/>
<circle cx="488.1" cy="374.8" r="2" fill="#fff" fill-opacity="0.55" stroke="#4a4a4a" stroke-width="0.7"/>
<circle cx="491.6" cy="375.6" r="2" fill="#fff" fill-opacity="0.55" stroke="#4a4a4a" stroke-width="0.7"/>
<circle cx="495.1" cy="375.6" r="2" fill="#fff" fill-opacity="0.55" stroke="#4a4a4a" stroke-width="0.7"/>
<circle cx="498.6" cy="374.4" r="2" fill="#fff" fill-opacity="0.55" stroke="#4a4a4a" stroke-width="0.7"/>
<circle cx="502.1" cy="378.3" r="2" fill="#fff" fill-opacity="0.55" stroke="#4a4a4a" stroke-width="0.7"/>
<circle cx="505.6" cy="376.5" r="2" fill="#fff" fill-opacity="0.55" stroke="#4a4a4a" stroke-width="0.7"/>
<circle cx="419.9" cy="300.6" r="2" fill="#fff" fill-opacity="0.55" stroke="#4a4a4a" stroke-width="0.7"/>
<circle cx="422.4" cy="302.6" r="2" fill="#fff" fill-opacity="0.55" stroke="#4a4a4a" stroke-width="0.7"/>
<circle cx="418.2" cy="311.2" r="2" fill="#fff" fill-opacity="0.55" stroke="#4a4a4a" stroke-width="0.7"/>
<circle cx="413.6" cy="328.5" r="2" fill="#fff" fill-opacity="0.55" stroke="#4a4a4a" stroke-width="0.7"/>
<circle cx="424.4" cy="335.1" r="2" fill="#fff" fill-opacity="0.55" stroke="#4a4a4a" stroke-width="0.7"/>
<circle cx="427.5" cy="349.7" r="2" fill="#fff" fill-opacity="0.55" stroke="#4a4a4a" stroke-width="0.7"/>
<circle cx="410.9" cy="358.7" r="2" fill="#fff" fill-opacity="0.55" stroke="#4a4a4a" stroke-width="0.7"/>
<circle cx="406.3" cy="362.7" r="2" fill="#fff" fill-opacity="0.55" stroke="#4a4a4a" stroke-width="0.7"/>
<circle cx="432.8" cy="366.3" r="2" fill="#fff" fill-opacity="0.55" stroke="#4a4a4a" stroke-width="0.7"/>
<circle cx="403" cy="374.2" r="2" fill="#fff" fill-opacity="0.55" stroke="#4a4a4a" stroke-width="0.7"/>
<circle cx="436.1" cy="303.3" r="2" fill="#fff" fill-opacity="0.55" stroke="#4a4a4a" stroke-width="0.7"/>
<circle cx="442.1" cy="300.6" r="2" fill="#fff" fill-opacity="0.55" stroke="#4a4a4a" stroke-width="0.7"/>
<circle cx="439" cy="204.4" r="2" fill="#fff" fill-opacity="0.55" stroke="#4a4a4a" stroke-width="0.7"/>
<circle cx="401" cy="370.3" r="2" fill="#fff" fill-opacity="0.55" stroke="#4a4a4a" stroke-width="0.7"/>
<circle cx="397.5" cy="372.8" r="2" fill="#fff" fill-opacity="0.55" stroke="#4a4a4a" stroke-width="0.7"/>
<circle cx="394" cy="374.8" r="2" fill="#fff" fill-opacity="0.55" stroke="#4a4a4a" stroke-width="0.7"/>
<circle cx="390.5" cy="375.3" r="2" fill="#fff" fill-opacity="0.55" stroke="#4a4a4a" stroke-width="0.7"/>
<circle cx="387" cy="376.6" r="2" fill="#fff" fill-opacity="0.55" stroke="#4a4a4a" stroke-width="0.7"/>
<circle cx="383.5" cy="375.8" r="2" fill="#fff" fill-opacity="0.55" stroke="#4a4a4a" stroke-width="0.7"/>
<circle cx="380" cy="377.9" r="2" fill="#fff" fill-opacity="0.55" stroke="#4a4a4a" stroke-width="0.7"/>
<circle cx="376.5" cy="377" r="2" fill="#fff" fill-opacity="0.55" stroke="#4a4a4a" stroke-width="0.7"/>
<circle cx="373" cy="378.3" r="2" fill="#fff" fill-opacity="0.55" stroke="#4a4a4a" stroke-width="0.7"/>
<circle cx="369.5" cy="376.8" r="2" fill="#fff" fill-opacity="0.55" stroke="#4a4a4a" stroke-width="0.7"/>
<circle cx="366" cy="378.6" r="2" fill="#fff" fill-opacity="0.55" stroke="#4a4a4a" stroke-width="0.7"/>
<circle cx="362.5" cy="377.5" r="2" fill="#fff" fill-opacity="0.55" stroke="#4a4a4a" stroke-width="0.7"/>
<circle cx="359" cy="378.9" r="2" fill="#fff" fill-opacity="0.55" stroke="#4a4a4a" stroke-width="0.7"/>
<circle cx="355.5" cy="378.9" r="2" fill="#fff" fill-opacity="0.55" stroke="#4a4a4a" stroke-width="0.7"/>
<circle cx="352" cy="378.7" r="2" fill="#fff" fill-opacity="0.55" stroke="#4a4a4a" stroke-width="0.7"/>
<circle cx="348.5" cy="377.9" r="2" fill="#fff" fill-opacity="0.55" stroke="#4a4a4a" stroke-width="0.7"/>
<circle cx="345" cy="377.4" r="2" fill="#fff" fill-opacity="0.55" stroke="#4a4a4a" stroke-width="0.7"/>
<circle cx="341.5" cy="377.9" r="2" fill="#fff" fill-opacity="0.55" stroke="#4a4a4a" stroke-width="0.7"/>
<circle cx="520" cy="378.3" r="2" fill="#fff" fill-opacity="0.55" stroke="#4a4a4a" stroke-width="0.7"/>
<circle cx="523.5" cy="377.2" r="2" fill="#fff" fill-opacity="0.55" stroke="#4a4a4a" stroke-width="0.7"/>
<circle cx="527" cy="376.6" r="2" fill="#fff" fill-opacity="0.55" stroke="#4a4a4a" stroke-width="0.7"/>
<circle cx="530.5" cy="376" r="2" fill="#fff" fill-opacity="0.55" stroke="#4a4a4a" stroke-width="0.7"/>
<circle cx="534" cy="376.9" r="2" fill="#fff" fill-opacity="0.55" stroke="#4a4a4a" stroke-width="0.7"/>
<circle cx="537.5" cy="376.5" r="2" fill="#fff" fill-opacity="0.55" stroke="#4a4a4a" stroke-width="0.7"/>
<circle cx="541" cy="377.4" r="2" fill="#fff" fill-opacity="0.55" stroke="#4a4a4a" stroke-width="0.7"/>
<circle cx="544.5" cy="377.3" r="2" fill="#fff" fill-opacity="0.55" stroke="#4a4a4a" stroke-width="0.7"/>
<circle cx="548" cy="377.9" r="2" fill="#fff" fill-opacity="0.55" stroke="#4a4a4a" stroke-width="0.7"/>
<circle cx="551.5" cy="376.2" r="2" fill="#fff" fill-opacity="0.55" stroke="#4a4a4a" stroke-width="0.7"/>
<circle cx="555" cy="375" r="2" fill="#fff" fill-opacity="0.55" stroke="#4a4a4a" stroke-width="0.7"/>
<circle cx="558.5" cy="374.1" r="2" fill="#fff" fill-opacity="0.55" stroke="#4a4a4a" stroke-width="0.7"/>
<circle cx="562" cy="375.5" r="2" fill="#fff" fill-opacity="0.55" stroke="#4a4a4a" stroke-width="0.7"/>
<circle cx="565.5" cy="374.2" r="2" fill="#fff" fill-opacity="0.55" stroke="#4a4a4a" stroke-width="0.7"/>
<circle cx="569" cy="376" r="2" fill="#fff" fill-opacity="0.55" stroke="#4a4a4a" stroke-width="0.7"/>
<circle cx="572.5" cy="372.8" r="2" fill="#fff" fill-opacity="0.55" stroke="#4a4a4a" stroke-width="0.7"/>
<circle cx="576" cy="370" r="2" fill="#fff" fill-opacity="0.55" stroke="#4a4a4a" stroke-width="0.7"/>
<circle cx="579.5" cy="364.3" r="2" fill="#fff" fill-opacity="0.55" stroke="#4a4a4a" stroke-width="0.7"/>
<circle cx="583" cy="353.8" r="2" fill="#fff" fill-opacity="0.55" stroke="#4a4a4a" stroke-width="0.7"/>
<circle cx="586.5" cy="342.7" r="2" fill="#fff" fill-opacity="0.55" stroke="#4a4a4a" stroke-width="0.7"/>
<circle cx="590" cy="323.6" r="2" fill="#fff" fill-opacity="0.55" stroke="#4a4a4a" stroke-width="0.7"/>
<circle cx="593.5" cy="314.9" r="2" fill="#fff" fill-opacity="0.55" stroke="#4a4a4a" stroke-width="0.7"/>
<circle cx="597" cy="332.4" r="2" fill="#fff" fill-opacity="0.55" stroke="#4a4a4a" stroke-width="0.7"/>
<circle cx="600.5" cy="350.8" r="2" fill="#fff" fill-opacity="0.55" stroke="#4a4a4a" stroke-width="0.7"/>
<circle cx="604" cy="359" r="2" fill="#fff" fill-opacity="0.55" stroke="#4a4a4a" stroke-width="0.7"/>
<circle cx="607.5" cy="366.2" r="2" fill="#fff" fill-opacity="0.55" stroke="#4a4a4a" stroke-width="0.7"/>
<circle cx="611" cy="367.2" r="2" fill="#fff" fill-opacity="0.55" stroke="#4a4a4a" stroke-width="0.7"/>
<circle cx="614.5" cy="372.7" r="2" fill="#fff" fill-opacity="0.55" stroke="#4a4a4a" stroke-width="0.7"/>
<circle cx="618" cy="374" r="2" fill="#fff" fill-opacity="0.55" stroke="#4a4a4a" stroke-width="0.7"/>
<circle cx="621.5" cy="375.4" r="2" fill="#fff" fill-opacity="0.55" stroke="#4a4a4a" stroke-width="0.7"/>
<circle cx="625" cy="372.7" r="2" fill="#fff" fill-opacity="0.55" stroke="#4a4a4a" stroke-width="0.7"/>
<circle cx="628.5" cy="374.9" r="2" fill="#fff" fill-opacity="0.55" stroke="#4a4a4a" stroke-width="0.7"/>
<circle cx="632" cy="375.6" r="2" fill="#fff" fill-opacity="0.55" stroke="#4a4a4a" stroke-width="0.7"/>
<circle cx="635.5" cy="376.2" r="2" fill="#fff" fill-opacity="0.55" stroke="#4a4a4a" stroke-width="0.7"/>
<circle cx="639" cy="371.7" r="2" fill="#fff" fill-opacity="0.55" stroke="#4a4a4a" stroke-width="0.7"/>
<circle cx="642.5" cy="374" r="2" fill="#fff" fill-opacity="0.55" stroke="#4a4a4a" stroke-width="0.7"/>
<circle cx="646" cy="373.1" r="2" fill="#fff" fill-opacity="0.55" stroke="#4a4a4a" stroke-width="0.7"/>
<circle cx="649.5" cy="374.2" r="2" fill="#fff" fill-opacity="0.55" stroke="#4a4a4a" stroke-width="0.7"/>
<circle cx="653" cy="372.7" r="2" fill="#fff" fill-opacity="0.55" stroke="#4a4a4a" stroke-width="0.7"/>
<circle cx="656.5" cy="376.9" r="2" fill="#fff" fill-opacity="0.55" stroke="#4a4a4a" stroke-width="0.7"/>
<circle cx="660" cy="376.3" r="2" fill="#fff" fill-opacity="0.55" stroke="#4a4a4a" stroke-width="0.7"/>
<circle cx="663.5" cy="376.7" r="2" fill="#fff" fill-opacity="0.55" stroke="#4a4a4a" stroke-width="0.7"/>
<circle cx="667" cy="377.3" r="2" fill="#fff" fill-opacity="0.55" stroke="#4a4a4a" stroke-width="0.7"/>
<circle cx="670.5" cy="376.3" r="2" fill="#fff" fill-opacity="0.55" stroke="#4a4a4a" stroke-width="0.7"/>
<circle cx="674" cy="373.8" r="2" fill="#fff" fill-opacity="0.55" stroke="#4a4a4a" stroke-width="0.7"/>
<circle cx="677.5" cy="377.4" r="2" fill="#fff" fill-opacity="0.55" stroke="#4a4a4a" stroke-width="0.7"/>
<line x1="505.5" y1="386.5" x2="511" y2="372.5" stroke="#222" stroke-width="1.3"/>
<line x1="511" y1="386.5" x2="516.5" y2="372.5" stroke="#222" stroke-width="1.3"/>
<text x="392.5" y="398" font-family="Liberation Sans, Arial, sans-serif" font-size="14.5" text-anchor="middle" fill="#222">1</text>
<text x="451.3" y="398" font-family="Liberation Sans, Arial, sans-serif" font-size="14.5" text-anchor="middle" fill="#222">0</text>
<text x="561.8" y="398" font-family="Liberation Sans, Arial, sans-serif" font-size="14.5" text-anchor="middle" fill="#222">-9</text>
<text x="628.9" y="398" font-family="Liberation Sans, Arial, sans-serif" font-size="14.5" text-anchor="middle" fill="#222">-10</text>
<text x="511.5" y="415" font-family="Liberation Sans, Arial, sans-serif" font-size="17.5" text-anchor="middle" fill="#222">kHz</text>
<text x="368.5" y="293.3" font-family="Liberation Sans, Arial, sans-serif" font-size="11.6" fill="#111">Central lines</text>
<text x="567.5" y="293.2" font-family="Liberation Sans, Arial, sans-serif" font-size="11.6" fill="#111">Side band</text>
<text x="446" y="233.2" font-family="Liberation Sans, Arial, sans-serif" font-weight="bold" font-size="15.5" fill="#f2672a">0.21</text>
<text x="379" y="331.8" font-family="Liberation Sans, Arial, sans-serif" font-weight="bold" font-size="15.5" fill="#6b9bd2">0.55</text>
<text x="373.8" y="364.5" font-family="Liberation Sans, Arial, sans-serif" font-weight="bold" font-size="15.5" fill="#72c23a">0.51</text>
<line x1="6" y1="366.6" x2="300.5" y2="366.6" stroke="#6b9bd2" stroke-width="2"/>
<line x1="33.7" y1="366.6" x2="33.7" y2="365.5" stroke="#6b9bd2" stroke-width="2"/>
<line x1="40" y1="366.6" x2="40" y2="364.7" stroke="#6b9bd2" stroke-width="2"/>
<line x1="46.2" y1="366.6" x2="46.2" y2="363.8" stroke="#6b9bd2" stroke-width="2"/>
<line x1="52.4" y1="366.6" x2="52.4" y2="361.2" stroke="#6b9bd2" stroke-width="2"/>
<path d="M50,366.6 Q51.5,366.0 51.6,362.6 L53.2,362.6 Q53.3,366.0 54.8,366.6 Z" fill="#6b9bd2"/>
<line x1="58.6" y1="366.6" x2="58.6" y2="357.4" stroke="#6b9bd2" stroke-width="2"/>
<path d="M56.2,366.6 Q57.7,366.0 57.8,362.6 L59.4,362.6 Q59.5,366.0 61,366.6 Z" fill="#6b9bd2"/>
<line x1="64.8" y1="366.6" x2="64.8" y2="351.5" stroke="#6b9bd2" stroke-width="2"/>
<path d="M62.4,366.6 Q63.9,366.0 64,362.6 L65.6,362.6 Q65.7,366.0 67.2,366.6 Z" fill="#6b9bd2"/>
<line x1="71.1" y1="366.6" x2="71.1" y2="346.3" stroke="#6b9bd2" stroke-width="2"/>
<path d="M68.7,366.6 Q70.2,366.0 70.3,362.6 L71.9,362.6 Q72,366.0 73.5,366.6 Z" fill="#6b9bd2"/>
<line x1="77.3" y1="366.6" x2="77.3" y2="343.2" stroke="#6b9bd2" stroke-width="2"/>
<path d="M74.9,366.6 Q76.4,366.0 76.5,362.6 L78.1,362.6 Q78.2,366.0 79.7,366.6 Z" fill="#6b9bd2"/>
<line x1="83.5" y1="366.6" x2="83.5" y2="343.2" stroke="#6b9bd2" stroke-width="2"/>
<path d="M81.1,366.6 Q82.6,366.0 82.7,362.6 L84.3,362.6 Q84.4,366.0 85.9,366.6 Z" fill="#6b9bd2"/>
<line x1="89.7" y1="366.6" x2="89.7" y2="338.8" stroke="#6b9bd2" stroke-width="2"/>
<path d="M87.3,366.6 Q88.8,366.0 88.9,362.6 L90.5,362.6 Q90.6,366.0 92.1,366.6 Z" fill="#6b9bd2"/>
<line x1="95.9" y1="366.6" x2="95.9" y2="320.9" stroke="#6b9bd2" stroke-width="2"/>
<path d="M93.5,366.6 Q95,366.0 95.1,362.6 L96.7,362.6 Q96.8,366.0 98.3,366.6 Z" fill="#6b9bd2"/>
<line x1="102.2" y1="366.6" x2="102.2" y2="288" stroke="#6b9bd2" stroke-width="2"/>
<path d="M99.8,366.6 Q101.3,366.0 101.4,362.6 L103,362.6 Q103.1,366.0 104.6,366.6 Z" fill="#6b9bd2"/>
<line x1="108.4" y1="366.6" x2="108.4" y2="273.6" stroke="#6b9bd2" stroke-width="2"/>
<path d="M106,366.6 Q107.5,366.0 107.6,362.6 L109.2,362.6 Q109.3,366.0 110.8,366.6 Z" fill="#6b9bd2"/>
<line x1="114.6" y1="366.6" x2="114.6" y2="287.4" stroke="#6b9bd2" stroke-width="2"/>
<path d="M112.2,366.6 Q113.7,366.0 113.8,362.6 L115.4,362.6 Q115.5,366.0 117,366.6 Z" fill="#6b9bd2"/>
<line x1="120.8" y1="366.6" x2="120.8" y2="296.1" stroke="#6b9bd2" stroke-width="2"/>
<path d="M118.4,366.6 Q119.9,366.0 120,362.6 L121.6,362.6 Q121.7,366.0 123.2,366.6 Z" fill="#6b9bd2"/>
<line x1="127" y1="366.6" x2="127" y2="312.6" stroke="#6b9bd2" stroke-width="2"/>
<path d="M124.6,366.6 Q126.1,366.0 126.2,362.6 L127.8,362.6 Q127.9,366.0 129.4,366.6 Z" fill="#6b9bd2"/>
<line x1="133.3" y1="366.6" x2="133.3" y2="317.4" stroke="#6b9bd2" stroke-width="2"/>
<path d="M130.9,366.6 Q132.4,366.0 132.5,362.6 L134.1,362.6 Q134.2,366.0 135.7,366.6 Z" fill="#6b9bd2"/>
<line x1="139.5" y1="366.6" x2="139.5" y2="315.2" stroke="#6b9bd2" stroke-width="2"/>
<path d="M137.1,366.6 Q138.6,366.0 138.7,362.6 L140.3,362.6 Q140.4,366.0 141.9,366.6 Z" fill="#6b9bd2"/>
<line x1="145.7" y1="366.6" x2="145.7" y2="306.4" stroke="#6b9bd2" stroke-width="2"/>
<path d="M143.3,366.6 Q144.8,366.0 144.9,362.6 L146.5,362.6 Q146.6,366.0 148.1,366.6 Z" fill="#6b9bd2"/>
<line x1="257.7" y1="366.6" x2="257.7" y2="365.5" stroke="#6b9bd2" stroke-width="2"/>
<line x1="251.4" y1="366.6" x2="251.4" y2="364.7" stroke="#6b9bd2" stroke-width="2"/>
<line x1="245.2" y1="366.6" x2="245.2" y2="363.8" stroke="#6b9bd2" stroke-width="2"/>
<line x1="239" y1="366.6" x2="239" y2="361.2" stroke="#6b9bd2" stroke-width="2"/>
<path d="M236.6,366.6 Q238.1,366.0 238.2,362.6 L239.8,362.6 Q239.9,366.0 241.4,366.6 Z" fill="#6b9bd2"/>
<line x1="232.8" y1="366.6" x2="232.8" y2="357.4" stroke="#6b9bd2" stroke-width="2"/>
<path d="M230.4,366.6 Q231.9,366.0 232,362.6 L233.6,362.6 Q233.7,366.0 235.2,366.6 Z" fill="#6b9bd2"/>
<line x1="226.6" y1="366.6" x2="226.6" y2="351.5" stroke="#6b9bd2" stroke-width="2"/>
<path d="M224.2,366.6 Q225.7,366.0 225.8,362.6 L227.4,362.6 Q227.5,366.0 229,366.6 Z" fill="#6b9bd2"/>
<line x1="220.3" y1="366.6" x2="220.3" y2="346.3" stroke="#6b9bd2" stroke-width="2"/>
<path d="M217.9,366.6 Q219.4,366.0 219.5,362.6 L221.1,362.6 Q221.2,366.0 222.7,366.6 Z" fill="#6b9bd2"/>
<line x1="214.1" y1="366.6" x2="214.1" y2="343.2" stroke="#6b9bd2" stroke-width="2"/>
<path d="M211.7,366.6 Q213.2,366.0 213.3,362.6 L214.9,362.6 Q215,366.0 216.5,366.6 Z" fill="#6b9bd2"/>
<line x1="207.9" y1="366.6" x2="207.9" y2="343.2" stroke="#6b9bd2" stroke-width="2"/>
<path d="M205.5,366.6 Q207,366.0 207.1,362.6 L208.7,362.6 Q208.8,366.0 210.3,366.6 Z" fill="#6b9bd2"/>
<line x1="201.7" y1="366.6" x2="201.7" y2="338.8" stroke="#6b9bd2" stroke-width="2"/>
<path d="M199.3,366.6 Q200.8,366.0 200.9,362.6 L202.5,362.6 Q202.6,366.0 204.1,366.6 Z" fill="#6b9bd2"/>
<line x1="195.5" y1="366.6" x2="195.5" y2="320.9" stroke="#6b9bd2" stroke-width="2"/>
<path d="M193.1,366.6 Q194.6,366.0 194.7,362.6 L196.3,362.6 Q196.4,366.0 197.9,366.6 Z" fill="#6b9bd2"/>
<line x1="189.2" y1="366.6" x2="189.2" y2="288" stroke="#6b9bd2" stroke-width="2"/>
<path d="M186.8,366.6 Q188.3,366.0 188.4,362.6 L190,362.6 Q190.1,366.0 191.6,366.6 Z" fill="#6b9bd2"/>
<line x1="183" y1="366.6" x2="183" y2="273.6" stroke="#6b9bd2" stroke-width="2"/>
<path d="M180.6,366.6 Q182.1,366.0 182.2,362.6 L183.8,362.6 Q183.9,366.0 185.4,366.6 Z" fill="#6b9bd2"/>
<line x1="176.8" y1="366.6" x2="176.8" y2="287.4" stroke="#6b9bd2" stroke-width="2"/>
<path d="M174.4,366.6 Q175.9,366.0 176,362.6 L177.6,362.6 Q177.7,366.0 179.2,366.6 Z" fill="#6b9bd2"/>
<line x1="170.6" y1="366.6" x2="170.6" y2="296.1" stroke="#6b9bd2" stroke-width="2"/>
<path d="M168.2,366.6 Q169.7,366.0 169.8,362.6 L171.4,362.6 Q171.5,366.0 173,366.6 Z" fill="#6b9bd2"/>
<line x1="164.4" y1="366.6" x2="164.4" y2="312.6" stroke="#6b9bd2" stroke-width="2"/>
<path d="M162,366.6 Q163.5,366.0 163.6,362.6 L165.2,362.6 Q165.3,366.0 166.8,366.6 Z" fill="#6b9bd2"/>
<line x1="158.1" y1="366.6" x2="158.1" y2="317.4" stroke="#6b9bd2" stroke-width="2"/>
<path d="M155.7,366.6 Q157.2,366.0 157.3,362.6 L158.9,362.6 Q159,366.0 160.5,366.6 Z" fill="#6b9bd2"/>
<line x1="151.9" y1="366.6" x2="151.9" y2="315.2" stroke="#6b9bd2" stroke-width="2"/>
<path d="M149.5,366.6 Q151,366.0 151.1,362.6 L152.7,362.6 Q152.8,366.0 154.3,366.6 Z" fill="#6b9bd2"/>
<line x1="6" y1="379.6" x2="300.5" y2="379.6" stroke="#1a1a1a" stroke-width="1.7"/>
<line x1="21.3" y1="373.1" x2="21.3" y2="379.6" stroke="#222" stroke-width="1.5"/>
<line x1="83.5" y1="373.1" x2="83.5" y2="379.6" stroke="#222" stroke-width="1.5"/>
<line x1="145.7" y1="373.1" x2="145.7" y2="379.6" stroke="#222" stroke-width="1.5"/>
<line x1="207.9" y1="373.1" x2="207.9" y2="379.6" stroke="#222" stroke-width="1.5"/>
<line x1="270.1" y1="373.1" x2="270.1" y2="379.6" stroke="#222" stroke-width="1.5"/>
<line x1="52.4" y1="376.1" x2="52.4" y2="379.6" stroke="#222" stroke-width="1.5"/>
<line x1="114.6" y1="376.1" x2="114.6" y2="379.6" stroke="#222" stroke-width="1.5"/>
<line x1="176.8" y1="376.1" x2="176.8" y2="379.6" stroke="#222" stroke-width="1.5"/>
<line x1="239" y1="376.1" x2="239" y2="379.6" stroke="#222" stroke-width="1.5"/>
<line x1="6" y1="489.2" x2="300.5" y2="489.2" stroke="#78c443" stroke-width="2"/>
<line x1="83.5" y1="489.2" x2="83.5" y2="487.4" stroke="#78c443" stroke-width="2"/>
<line x1="89.7" y1="489.2" x2="89.7" y2="484.6" stroke="#78c443" stroke-width="2"/>
<path d="M87.3,489.2 Q88.8,488.59999999999997 88.9,485.2 L90.5,485.2 Q90.6,488.59999999999997 92.1,489.2 Z" fill="#78c443"/>
<line x1="95.9" y1="489.2" x2="95.9" y2="478" stroke="#78c443" stroke-width="2"/>
<path d="M93.5,489.2 Q95,488.59999999999997 95.1,485.2 L96.7,485.2 Q96.8,488.59999999999997 98.3,489.2 Z" fill="#78c443"/>
<line x1="102.2" y1="489.2" x2="102.2" y2="464.9" stroke="#78c443" stroke-width="2"/>
<path d="M99.8,489.2 Q101.3,488.59999999999997 101.4,485.2 L103,485.2 Q103.1,488.59999999999997 104.6,489.2 Z" fill="#78c443"/>
<line x1="108.4" y1="489.2" x2="108.4" y2="444.3" stroke="#78c443" stroke-width="2"/>
<path d="M106,489.2 Q107.5,488.59999999999997 107.6,485.2 L109.2,485.2 Q109.3,488.59999999999997 110.8,489.2 Z" fill="#78c443"/>
<line x1="114.6" y1="489.2" x2="114.6" y2="425.5" stroke="#78c443" stroke-width="2"/>
<path d="M112.2,489.2 Q113.7,488.59999999999997 113.8,485.2 L115.4,485.2 Q115.5,488.59999999999997 117,489.2 Z" fill="#78c443"/>
<line x1="120.8" y1="489.2" x2="120.8" y2="427.2" stroke="#78c443" stroke-width="2"/>
<path d="M118.4,489.2 Q119.9,488.59999999999997 120,485.2 L121.6,485.2 Q121.7,488.59999999999997 123.2,489.2 Z" fill="#78c443"/>
<line x1="127" y1="489.2" x2="127" y2="424.4" stroke="#78c443" stroke-width="2"/>
<path d="M124.6,489.2 Q126.1,488.59999999999997 126.2,485.2 L127.8,485.2 Q127.9,488.59999999999997 129.4,489.2 Z" fill="#78c443"/>
<line x1="133.3" y1="489.2" x2="133.3" y2="411.9" stroke="#78c443" stroke-width="2"/>
<path d="M130.9,489.2 Q132.4,488.59999999999997 132.5,485.2 L134.1,485.2 Q134.2,488.59999999999997 135.7,489.2 Z" fill="#78c443"/>
<line x1="139.5" y1="489.2" x2="139.5" y2="404.7" stroke="#78c443" stroke-width="2"/>
<path d="M137.1,489.2 Q138.6,488.59999999999997 138.7,485.2 L140.3,485.2 Q140.4,488.59999999999997 141.9,489.2 Z" fill="#78c443"/>
<line x1="145.7" y1="489.2" x2="145.7" y2="400.5" stroke="#78c443" stroke-width="2"/>
<path d="M143.3,489.2 Q144.8,488.59999999999997 144.9,485.2 L146.5,485.2 Q146.6,488.59999999999997 148.1,489.2 Z" fill="#78c443"/>
<line x1="207.9" y1="489.2" x2="207.9" y2="487.4" stroke="#78c443" stroke-width="2"/>
<line x1="201.7" y1="489.2" x2="201.7" y2="484.6" stroke="#78c443" stroke-width="2"/>
<path d="M199.3,489.2 Q200.8,488.59999999999997 200.9,485.2 L202.5,485.2 Q202.6,488.59999999999997 204.1,489.2 Z" fill="#78c443"/>
<line x1="195.5" y1="489.2" x2="195.5" y2="478" stroke="#78c443" stroke-width="2"/>
<path d="M193.1,489.2 Q194.6,488.59999999999997 194.7,485.2 L196.3,485.2 Q196.4,488.59999999999997 197.9,489.2 Z" fill="#78c443"/>
<line x1="189.2" y1="489.2" x2="189.2" y2="464.9" stroke="#78c443" stroke-width="2"/>
<path d="M186.8,489.2 Q188.3,488.59999999999997 188.4,485.2 L190,485.2 Q190.1,488.59999999999997 191.6,489.2 Z" fill="#78c443"/>
<line x1="183" y1="489.2" x2="183" y2="444.3" stroke="#78c443" stroke-width="2"/>
<path d="M180.6,489.2 Q182.1,488.59999999999997 182.2,485.2 L183.8,485.2 Q183.9,488.59999999999997 185.4,489.2 Z" fill="#78c443"/>
<line x1="176.8" y1="489.2" x2="176.8" y2="425.5" stroke="#78c443" stroke-width="2"/>
<path d="M174.4,489.2 Q175.9,488.59999999999997 176,485.2 L177.6,485.2 Q177.7,488.59999999999997 179.2,489.2 Z" fill="#78c443"/>
<line x1="170.6" y1="489.2" x2="170.6" y2="427.2" stroke="#78c443" stroke-width="2"/>
<path d="M168.2,489.2 Q169.7,488.59999999999997 169.8,485.2 L171.4,485.2 Q171.5,488.59999999999997 173,489.2 Z" fill="#78c443"/>
<line x1="164.4" y1="489.2" x2="164.4" y2="424.4" stroke="#78c443" stroke-width="2"/>
<path d="M162,489.2 Q163.5,488.59999999999997 163.6,485.2 L165.2,485.2 Q165.3,488.59999999999997 166.8,489.2 Z" fill="#78c443"/>
<line x1="158.1" y1="489.2" x2="158.1" y2="411.9" stroke="#78c443" stroke-width="2"/>
<path d="M155.7,489.2 Q157.2,488.59999999999997 157.3,485.2 L158.9,485.2 Q159,488.59999999999997 160.5,489.2 Z" fill="#78c443"/>
<line x1="151.9" y1="489.2" x2="151.9" y2="404.7" stroke="#78c443" stroke-width="2"/>
<path d="M149.5,489.2 Q151,488.59999999999997 151.1,485.2 L152.7,485.2 Q152.8,488.59999999999997 154.3,489.2 Z" fill="#78c443"/>
<line x1="6" y1="506.8" x2="300.5" y2="506.8" stroke="#1a1a1a" stroke-width="1.7"/>
<line x1="21.3" y1="500.3" x2="21.3" y2="506.8" stroke="#222" stroke-width="1.5"/>
<line x1="83.5" y1="500.3" x2="83.5" y2="506.8" stroke="#222" stroke-width="1.5"/>
<line x1="145.7" y1="500.3" x2="145.7" y2="506.8" stroke="#222" stroke-width="1.5"/>
<line x1="207.9" y1="500.3" x2="207.9" y2="506.8" stroke="#222" stroke-width="1.5"/>
<line x1="270.1" y1="500.3" x2="270.1" y2="506.8" stroke="#222" stroke-width="1.5"/>
<line x1="52.4" y1="503.3" x2="52.4" y2="506.8" stroke="#222" stroke-width="1.5"/>
<line x1="114.6" y1="503.3" x2="114.6" y2="506.8" stroke="#222" stroke-width="1.5"/>
<line x1="176.8" y1="503.3" x2="176.8" y2="506.8" stroke="#222" stroke-width="1.5"/>
<line x1="239" y1="503.3" x2="239" y2="506.8" stroke="#222" stroke-width="1.5"/>
<line x1="6" y1="621.4" x2="300.5" y2="621.4" stroke="#f2672a" stroke-width="2"/>
<line x1="145.7" y1="621.4" x2="145.7" y2="531.7" stroke="#f2672a" stroke-width="2"/>
<path d="M143.3,621.4 Q144.8,620.8 144.9,617.4 L146.5,617.4 Q146.6,620.8 148.1,621.4 Z" fill="#f2672a"/>
<line x1="6" y1="634.8" x2="300.5" y2="634.8" stroke="#1a1a1a" stroke-width="1.7"/>
<line x1="21.3" y1="628.3" x2="21.3" y2="634.8" stroke="#222" stroke-width="1.5"/>
<line x1="83.5" y1="628.3" x2="83.5" y2="634.8" stroke="#222" stroke-width="1.5"/>
<line x1="145.7" y1="628.3" x2="145.7" y2="634.8" stroke="#222" stroke-width="1.5"/>
<line x1="207.9" y1="628.3" x2="207.9" y2="634.8" stroke="#222" stroke-width="1.5"/>
<line x1="270.1" y1="628.3" x2="270.1" y2="634.8" stroke="#222" stroke-width="1.5"/>
<line x1="52.4" y1="631.3" x2="52.4" y2="634.8" stroke="#222" stroke-width="1.5"/>
<line x1="114.6" y1="631.3" x2="114.6" y2="634.8" stroke="#222" stroke-width="1.5"/>
<line x1="176.8" y1="631.3" x2="176.8" y2="634.8" stroke="#222" stroke-width="1.5"/>
<line x1="239" y1="631.3" x2="239" y2="634.8" stroke="#222" stroke-width="1.5"/>
<text x="21.3" y="652.3" font-family="Liberation Sans, Arial, sans-serif" font-size="14" text-anchor="middle" fill="#222">200</text>
<text x="83.5" y="652.3" font-family="Liberation Sans, Arial, sans-serif" font-size="14" text-anchor="middle" fill="#222">100</text>
<text x="145.7" y="652.3" font-family="Liberation Sans, Arial, sans-serif" font-size="14" text-anchor="middle" fill="#222">0</text>
<text x="207.9" y="652.3" font-family="Liberation Sans, Arial, sans-serif" font-size="14" text-anchor="middle" fill="#222">-100</text>
<text x="270.1" y="652.3" font-family="Liberation Sans, Arial, sans-serif" font-size="14" text-anchor="middle" fill="#222">-200</text>
<text x="147.8" y="670.1" font-family="Liberation Sans, Arial, sans-serif" font-size="16" text-anchor="middle" fill="#222">kHz</text>
<text x="40.5" y="306" font-family="Liberation Sans, Arial, sans-serif" font-size="19.5" fill="#6b9bd2">Type 1</text>
<text x="40.8" y="437" font-family="Liberation Sans, Arial, sans-serif" font-size="19.5" fill="#78c443">Type 2</text>
<text x="41.3" y="551.6" font-family="Liberation Sans, Arial, sans-serif" font-size="19.5" fill="#f2672a">Type 3</text>
<text x="271.3" y="337" font-family="Liberation Sans, Arial, sans-serif" font-size="11.8" fill="#222">NH<tspan font-size="8.2" dy="4.3">3</tspan><tspan dy="-4.3"></tspan></text>
<text x="253.4" y="356" font-family="Liberation Sans, Arial, sans-serif" font-size="11.8" fill="#222">D<tspan font-size="8.2" dy="4.3">2</tspan><tspan dy="-4.3">O</tspan></text>
<text x="198.3" y="453.8" font-family="Liberation Sans, Arial, sans-serif" font-size="11.6" fill="#222">COO</text>
<text x="203.1" y="475.7" font-family="Liberation Sans, Arial, sans-serif" font-size="11.8" fill="#222">D<tspan font-size="8.2" dy="4.3">2</tspan><tspan dy="-4.3">O</tspan></text>
<text x="266.7" y="601.1" font-family="Liberation Sans, Arial, sans-serif" font-size="11.5" fill="#222">Mobile</text>
<text x="273.3" y="612.9" font-family="Liberation Sans, Arial, sans-serif" font-size="11.5" fill="#222">D<tspan font-size="8.2" dy="4.3">2</tspan><tspan dy="-4.3">O</tspan></text>
<line x1="375.5" y1="433.2" x2="375.5" y2="634.6" stroke="#222" stroke-width="1.5"/>
<line x1="375.5" y1="634.6" x2="680" y2="634.6" stroke="#222" stroke-width="1.5"/>
<line x1="375.5" y1="634.6" x2="382.5" y2="634.6" stroke="#222" stroke-width="1.5"/>
<text x="367" y="639.2" font-family="Liberation Sans, Arial, sans-serif" font-size="14.5" text-anchor="end" fill="#222">0</text>
<line x1="375.5" y1="618.5" x2="379.5" y2="618.5" stroke="#222" stroke-width="1.5"/>
<line x1="375.5" y1="602.4" x2="382.5" y2="602.4" stroke="#222" stroke-width="1.5"/>
<text x="367" y="607" font-family="Liberation Sans, Arial, sans-serif" font-size="14.5" text-anchor="end" fill="#222">2</text>
<line x1="375.5" y1="586.4" x2="379.5" y2="586.4" stroke="#222" stroke-width="1.5"/>
<line x1="375.5" y1="570.3" x2="382.5" y2="570.3" stroke="#222" stroke-width="1.5"/>
<text x="367" y="574.9" font-family="Liberation Sans, Arial, sans-serif" font-size="14.5" text-anchor="end" fill="#222">4</text>
<line x1="375.5" y1="554.2" x2="379.5" y2="554.2" stroke="#222" stroke-width="1.5"/>
<line x1="375.5" y1="538.1" x2="382.5" y2="538.1" stroke="#222" stroke-width="1.5"/>
<text x="367" y="542.7" font-family="Liberation Sans, Arial, sans-serif" font-size="14.5" text-anchor="end" fill="#222">6</text>
<line x1="375.5" y1="522" x2="379.5" y2="522" stroke="#222" stroke-width="1.5"/>
<line x1="375.5" y1="506" x2="382.5" y2="506" stroke="#222" stroke-width="1.5"/>
<text x="367" y="510.6" font-family="Liberation Sans, Arial, sans-serif" font-size="14.5" text-anchor="end" fill="#222">8</text>
<line x1="375.5" y1="489.9" x2="379.5" y2="489.9" stroke="#222" stroke-width="1.5"/>
<line x1="375.5" y1="473.8" x2="382.5" y2="473.8" stroke="#222" stroke-width="1.5"/>
<text x="367" y="478.4" font-family="Liberation Sans, Arial, sans-serif" font-size="14.5" text-anchor="end" fill="#222">10</text>
<line x1="375.5" y1="457.7" x2="379.5" y2="457.7" stroke="#222" stroke-width="1.5"/>
<line x1="375.5" y1="441.6" x2="382.5" y2="441.6" stroke="#222" stroke-width="1.5"/>
<text x="367" y="446.2" font-family="Liberation Sans, Arial, sans-serif" font-size="14.5" text-anchor="end" fill="#222">12</text>
<line x1="385.9" y1="631.1" x2="385.9" y2="634.6" stroke="#222" stroke-width="1.2"/>
<line x1="393.6" y1="631.1" x2="393.6" y2="634.6" stroke="#222" stroke-width="1.2"/>
<line x1="399.5" y1="631.1" x2="399.5" y2="634.6" stroke="#222" stroke-width="1.2"/>
<line x1="404.4" y1="631.1" x2="404.4" y2="634.6" stroke="#222" stroke-width="1.2"/>
<line x1="408.5" y1="631.1" x2="408.5" y2="634.6" stroke="#222" stroke-width="1.2"/>
<line x1="412" y1="631.1" x2="412" y2="634.6" stroke="#222" stroke-width="1.2"/>
<line x1="415.2" y1="631.1" x2="415.2" y2="634.6" stroke="#222" stroke-width="1.2"/>
<line x1="418" y1="627.6" x2="418" y2="634.6" stroke="#222" stroke-width="1.2"/>
<line x1="436.5" y1="631.1" x2="436.5" y2="634.6" stroke="#222" stroke-width="1.2"/>
<line x1="447.3" y1="631.1" x2="447.3" y2="634.6" stroke="#222" stroke-width="1.2"/>
<line x1="455" y1="631.1" x2="455" y2="634.6" stroke="#222" stroke-width="1.2"/>
<line x1="460.9" y1="631.1" x2="460.9" y2="634.6" stroke="#222" stroke-width="1.2"/>
<line x1="465.8" y1="631.1" x2="465.8" y2="634.6" stroke="#222" stroke-width="1.2"/>
<line x1="469.9" y1="631.1" x2="469.9" y2="634.6" stroke="#222" stroke-width="1.2"/>
<line x1="473.4" y1="631.1" x2="473.4" y2="634.6" stroke="#222" stroke-width="1.2"/>
<line x1="476.6" y1="631.1" x2="476.6" y2="634.6" stroke="#222" stroke-width="1.2"/>
<line x1="479.4" y1="627.6" x2="479.4" y2="634.6" stroke="#222" stroke-width="1.2"/>
<line x1="497.9" y1="631.1" x2="497.9" y2="634.6" stroke="#222" stroke-width="1.2"/>
<line x1="508.7" y1="631.1" x2="508.7" y2="634.6" stroke="#222" stroke-width="1.2"/>
<line x1="516.4" y1="631.1" x2="516.4" y2="634.6" stroke="#222" stroke-width="1.2"/>
<line x1="522.3" y1="631.1" x2="522.3" y2="634.6" stroke="#222" stroke-width="1.2"/>
<line x1="527.2" y1="631.1" x2="527.2" y2="634.6" stroke="#222" stroke-width="1.2"/>
<line x1="531.3" y1="631.1" x2="531.3" y2="634.6" stroke="#222" stroke-width="1.2"/>
<line x1="534.8" y1="631.1" x2="534.8" y2="634.6" stroke="#222" stroke-width="1.2"/>
<line x1="538" y1="631.1" x2="538" y2="634.6" stroke="#222" stroke-width="1.2"/>
<line x1="540.8" y1="627.6" x2="540.8" y2="634.6" stroke="#222" stroke-width="1.2"/>
<line x1="559.3" y1="631.1" x2="559.3" y2="634.6" stroke="#222" stroke-width="1.2"/>
<line x1="570.1" y1="631.1" x2="570.1" y2="634.6" stroke="#222" stroke-width="1.2"/>
<line x1="577.8" y1="631.1" x2="577.8" y2="634.6" stroke="#222" stroke-width="1.2"/>
<line x1="583.7" y1="631.1" x2="583.7" y2="634.6" stroke="#222" stroke-width="1.2"/>
<line x1="588.6" y1="631.1" x2="588.6" y2="634.6" stroke="#222" stroke-width="1.2"/>
<line x1="592.7" y1="631.1" x2="592.7" y2="634.6" stroke="#222" stroke-width="1.2"/>
<line x1="596.2" y1="631.1" x2="596.2" y2="634.6" stroke="#222" stroke-width="1.2"/>
<line x1="599.4" y1="631.1" x2="599.4" y2="634.6" stroke="#222" stroke-width="1.2"/>
<line x1="602.2" y1="627.6" x2="602.2" y2="634.6" stroke="#222" stroke-width="1.2"/>
<line x1="620.7" y1="631.1" x2="620.7" y2="634.6" stroke="#222" stroke-width="1.2"/>
<line x1="631.5" y1="631.1" x2="631.5" y2="634.6" stroke="#222" stroke-width="1.2"/>
<line x1="639.2" y1="631.1" x2="639.2" y2="634.6" stroke="#222" stroke-width="1.2"/>
<line x1="645.1" y1="631.1" x2="645.1" y2="634.6" stroke="#222" stroke-width="1.2"/>
<line x1="650" y1="631.1" x2="650" y2="634.6" stroke="#222" stroke-width="1.2"/>
<line x1="654.1" y1="631.1" x2="654.1" y2="634.6" stroke="#222" stroke-width="1.2"/>
<line x1="657.6" y1="631.1" x2="657.6" y2="634.6" stroke="#222" stroke-width="1.2"/>
<line x1="660.8" y1="631.1" x2="660.8" y2="634.6" stroke="#222" stroke-width="1.2"/>
<line x1="663.6" y1="627.6" x2="663.6" y2="634.6" stroke="#222" stroke-width="1.2"/>
<text x="418" y="651.8" font-family="Liberation Sans, Arial, sans-serif" font-size="14.5" text-anchor="middle" fill="#222">1µ</text>
<text x="479.4" y="651.8" font-family="Liberation Sans, Arial, sans-serif" font-size="14.5" text-anchor="middle" fill="#222">10µ</text>
<text x="540.8" y="651.8" font-family="Liberation Sans, Arial, sans-serif" font-size="14.5" text-anchor="middle" fill="#222">100µ</text>
<text x="602.2" y="651.8" font-family="Liberation Sans, Arial, sans-serif" font-size="14.5" text-anchor="middle" fill="#222">1m</text>
<text x="663.6" y="651.8" font-family="Liberation Sans, Arial, sans-serif" font-size="14.5" text-anchor="middle" fill="#222">10m</text>
<polyline fill="none" stroke="#f2672a" stroke-width="2" points="460,457.5 480,458.2 500,458.8 520,459.8 540,461.5 555,464 570,469 585,477 597,486 608,496 618,506 628,518 638,529 648,538 657,544 665,547"/>
<rect x="456.1" y="453" width="9.2" height="9.2" fill="none" stroke="#f2672a" stroke-width="1.9"/>
<rect x="474.7" y="448.7" width="9.2" height="9.2" fill="none" stroke="#f2672a" stroke-width="1.9"/>
<rect x="517.7" y="463.7" width="9.2" height="9.2" fill="none" stroke="#f2672a" stroke-width="1.9"/>
<rect x="536.3" y="448.7" width="9.2" height="9.2" fill="none" stroke="#f2672a" stroke-width="1.9"/>
<rect x="559.9" y="468.3" width="9.2" height="9.2" fill="none" stroke="#f2672a" stroke-width="1.9"/>
<rect x="597.1" y="493" width="9.2" height="9.2" fill="none" stroke="#f2672a" stroke-width="1.9"/>
<rect x="616" y="498.7" width="9.2" height="9.2" fill="none" stroke="#f2672a" stroke-width="1.9"/>
<rect x="626.7" y="519.1" width="9.2" height="9.2" fill="none" stroke="#f2672a" stroke-width="1.9"/>
<rect x="634.6" y="527.3" width="9.2" height="9.2" fill="none" stroke="#f2672a" stroke-width="1.9"/>
<rect x="644.6" y="533.4" width="9.2" height="9.2" fill="none" stroke="#f2672a" stroke-width="1.9"/>
<rect x="652.5" y="544.2" width="9.2" height="9.2" fill="none" stroke="#f2672a" stroke-width="1.9"/>
<polyline fill="none" stroke="#6b9bd2" stroke-width="1.8" points="399.6,572 410,573.5 418,575.5 430,580 445,587 460,596 470,602 480,605 495,607 510,607.6 521.4,607.8"/>
<circle cx="399.6" cy="581.2" r="4.6" fill="none" stroke="#6b9bd2" stroke-width="1.9"/>
<circle cx="418" cy="568" r="4.6" fill="none" stroke="#6b9bd2" stroke-width="1.9"/>
<circle cx="418" cy="575" r="4.6" fill="none" stroke="#6b9bd2" stroke-width="1.9"/>
<circle cx="479.7" cy="607.3" r="4.6" fill="none" stroke="#6b9bd2" stroke-width="1.9"/>
<circle cx="521.4" cy="608.3" r="4.6" fill="none" stroke="#6b9bd2" stroke-width="1.9"/>
<polyline fill="none" stroke="#78c443" stroke-width="1.8" points="399.6,609.5 418,612.5 440,615.5 461,618 479.7,620.5 500,621.3 521.4,621.8"/>
<path d="M399.6,600.2 L405.1,609.7 L394.1,609.7 Z" fill="none" stroke="#78c443" stroke-width="1.9"/>
<path d="M418,608.9 L423.5,618.4 L412.5,618.4 Z" fill="none" stroke="#78c443" stroke-width="1.9"/>
<path d="M461,610 L466.5,619.5 L455.5,619.5 Z" fill="none" stroke="#78c443" stroke-width="1.9"/>
<path d="M477.8,616.5 L483.3,626 L472.3,626 Z" fill="none" stroke="#78c443" stroke-width="1.9"/>
<path d="M521.4,617.6 L526.9,627.1 L515.9,627.1 Z" fill="none" stroke="#78c443" stroke-width="1.9"/>
<text x="389.2" y="462.7" font-family="Liberation Sans, Arial, sans-serif" font-size="19.5" fill="#f2672a">Type 3</text>
<text x="530.2" y="602.6" font-family="Liberation Sans, Arial, sans-serif" font-size="19.5" fill="#6b9bd2">Type 1</text>
<text x="530.2" y="625.6" font-family="Liberation Sans, Arial, sans-serif" font-size="19.5" fill="#78c443">Type 2</text>
<text transform="translate(344.8,534.2) rotate(-90)" font-family="Liberation Sans, Arial, sans-serif" font-size="19.7" text-anchor="middle" fill="#222">Area (arb. units)</text>
<text x="505.2" y="671.5" font-family="Liberation Sans, Arial, sans-serif" font-size="16" textLength="8.6" lengthAdjust="spacingAndGlyphs" fill="#222">τ</text>
<text x="514" y="676.7" font-family="Liberation Sans, Arial, sans-serif" font-style="italic" font-size="13.4" fill="#222">d</text>
<text x="527" y="672.1" font-family="Liberation Sans, Arial, sans-serif" font-size="19.5" fill="#222">(<tspan font-size="22">s</tspan>)</text>
<text x="397.5" y="531.3" font-family="Liberation Serif, Times New Roman, serif" font-style="italic" font-size="22" fill="#222">A</text>
<text x="416.6" y="532.6" font-family="Liberation Serif, Times New Roman, serif" font-size="24" textLength="15.2" lengthAdjust="spacingAndGlyphs" fill="#222">=</text>
<text x="436.6" y="531.3" font-family="Liberation Serif, Times New Roman, serif" font-style="italic" font-size="22.5" textLength="13.2" lengthAdjust="spacingAndGlyphs" fill="#222">a</text>
<text x="452.2" y="531.3" font-family="Liberation Serif, Times New Roman, serif" font-size="23.5" textLength="36.3" lengthAdjust="spacingAndGlyphs" fill="#222">exp</text>
<text transform="translate(487.2,542.6) scale(0.5,1)" font-family="Liberation Serif, Times New Roman, serif" font-size="76" fill="#222" stroke="#fff" stroke-width="1.6">(</text>
<text transform="translate(548.6,542.6) scale(0.5,1)" font-family="Liberation Serif, Times New Roman, serif" font-size="76" fill="#222" stroke="#fff" stroke-width="1.6">)</text>
<text x="500.2" y="531.4" font-family="Liberation Serif, Times New Roman, serif" font-size="22" textLength="14" lengthAdjust="spacingAndGlyphs" fill="#222">−</text>
<line x1="519.5" y1="525.3" x2="548.1" y2="525.3" stroke="#222" stroke-width="1"/>
<text x="521.3" y="517.1" font-family="Liberation Serif, Times New Roman, serif" font-size="23" textLength="11" lengthAdjust="spacingAndGlyphs" fill="#222">τ</text>
<text x="531.6" y="522.4" font-family="Liberation Serif, Times New Roman, serif" font-style="italic" font-size="21" textLength="13.5" lengthAdjust="spacingAndGlyphs" fill="#222">d</text>
<text x="522.5" y="549.8" font-family="Liberation Serif, Times New Roman, serif" font-style="italic" font-size="24.5" fill="#222">T</text>
<text x="533.3" y="555.7" font-family="Liberation Serif, Times New Roman, serif" font-size="19" fill="#222">2</text>
</svg></body></html>
